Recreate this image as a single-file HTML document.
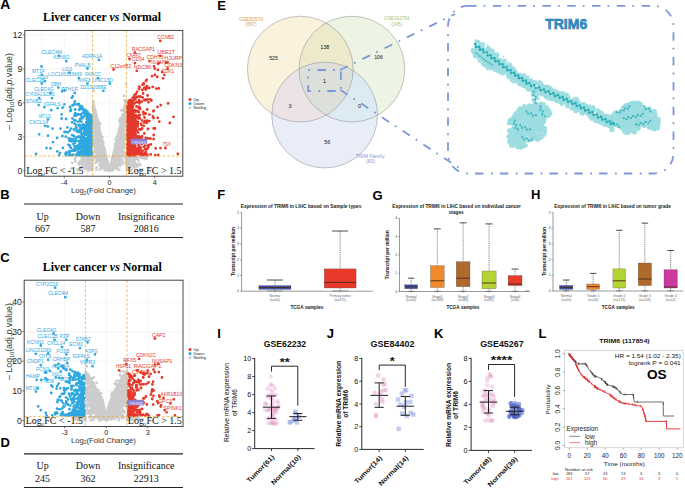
<!DOCTYPE html>
<html><head><meta charset="utf-8"><style>
html,body{margin:0;padding:0;background:#fff;width:685px;height:488px;overflow:hidden;}
svg{display:block;}
</style></head><body>
<svg width="685" height="488" viewBox="0 0 685 488">
<rect width="685" height="488" fill="#fff"/>
<text x="0.20" y="9.40" font-family='"Liberation Sans", sans-serif' font-size="14" font-weight="bold" fill="#000" text-anchor="start">A</text>
<text x="43.00" y="21.20" font-family='"Liberation Serif", serif' font-size="11.8" font-weight="bold" fill="#000" text-anchor="start" textLength="118" lengthAdjust="spacingAndGlyphs">Liver cancer <tspan font-style="italic">vs</tspan> Normal</text>
<rect x="24.80" y="30.40" width="158.00" height="145.80" fill="#fff"/>
<line x1="41.70" y1="30.40" x2="41.70" y2="176.20" stroke="#ededed" stroke-width="0.5"/>
<line x1="64.30" y1="30.40" x2="64.30" y2="176.20" stroke="#ededed" stroke-width="0.5"/>
<line x1="86.90" y1="30.40" x2="86.90" y2="176.20" stroke="#ededed" stroke-width="0.5"/>
<line x1="109.50" y1="30.40" x2="109.50" y2="176.20" stroke="#ededed" stroke-width="0.5"/>
<line x1="132.10" y1="30.40" x2="132.10" y2="176.20" stroke="#ededed" stroke-width="0.5"/>
<line x1="154.70" y1="30.40" x2="154.70" y2="176.20" stroke="#ededed" stroke-width="0.5"/>
<line x1="177.30" y1="30.40" x2="177.30" y2="176.20" stroke="#ededed" stroke-width="0.5"/>
<line x1="24.80" y1="170.80" x2="182.80" y2="170.80" stroke="#ededed" stroke-width="0.5"/>
<line x1="24.80" y1="136.81" x2="182.80" y2="136.81" stroke="#ededed" stroke-width="0.5"/>
<line x1="24.80" y1="102.82" x2="182.80" y2="102.82" stroke="#ededed" stroke-width="0.5"/>
<line x1="24.80" y1="68.83" x2="182.80" y2="68.83" stroke="#ededed" stroke-width="0.5"/>
<line x1="24.80" y1="34.84" x2="182.80" y2="34.84" stroke="#ededed" stroke-width="0.5"/>
<path d="M95.7 113.9h0M113.8 158.3h0M94.5 143.2h0M108.8 168.5h0M95.8 152.8h0M94.9 136.4h0M126.8 159.8h0M120.6 161.1h0M138.5 160.3h0M106.2 159.8h0M110.6 167.4h0M111.1 169.1h0M112.6 168.5h0M117.3 148.0h0M89.3 162.1h0M117.4 143.7h0M92.8 122.6h0M109.5 170.7h0M146.8 158.0h0M109.0 168.8h0M106.2 163.3h0M117.0 162.3h0M110.7 166.2h0M98.1 140.6h0M130.7 170.8h0M103.8 159.6h0M120.3 125.2h0M102.7 152.4h0M123.8 116.9h0M116.6 155.1h0M118.2 134.4h0M114.8 151.1h0M115.8 162.3h0M115.2 164.8h0M111.6 164.2h0M102.7 151.5h0M116.2 160.5h0M126.6 160.4h0M118.3 153.5h0M117.4 153.3h0M129.5 165.1h0M105.8 155.9h0M112.3 159.9h0M120.5 133.2h0M137.0 166.5h0M129.6 165.8h0M110.9 167.5h0M99.5 159.2h0M122.1 144.2h0M117.5 144.2h0M100.9 134.8h0M118.5 144.1h0M89.3 167.0h0M99.3 153.6h0M127.0 165.9h0M98.2 149.7h0M107.7 167.4h0M82.7 156.7h0M120.8 139.3h0M99.1 156.5h0M137.6 166.1h0M116.5 145.7h0M108.6 167.7h0M130.5 165.3h0M117.6 161.7h0M125.6 137.9h0M88.9 160.8h0M101.4 152.6h0M116.1 167.2h0M105.7 162.4h0M105.7 164.0h0M110.8 167.3h0M104.1 156.9h0M106.9 160.2h0M125.9 112.5h0M107.5 164.2h0M111.4 169.7h0M111.8 161.3h0M100.7 165.3h0M81.9 160.5h0M91.3 164.9h0M111.5 162.1h0M122.1 124.4h0M116.0 144.5h0M108.1 165.4h0M91.9 157.1h0M99.2 129.2h0M123.3 115.8h0M92.2 157.7h0M119.4 138.6h0M101.7 145.2h0M101.7 144.6h0M123.6 110.5h0M117.3 139.5h0M108.0 165.2h0M98.4 134.6h0M89.4 168.8h0M117.4 141.6h0M124.6 126.1h0M112.4 164.9h0M105.3 156.6h0M96.9 119.3h0M109.4 170.7h0M111.2 164.8h0M111.5 162.6h0M116.1 147.9h0M87.2 164.8h0M118.0 141.1h0M113.3 156.1h0M120.9 124.3h0M117.6 144.3h0M101.9 152.5h0M118.2 136.8h0M119.5 131.4h0M102.8 155.8h0M82.7 167.2h0M100.9 153.7h0M112.3 163.2h0M100.2 148.5h0M100.1 134.1h0M121.8 156.4h0M108.1 169.7h0M111.8 162.5h0M107.1 163.2h0M102.2 166.5h0M128.1 167.8h0M107.1 161.3h0M110.2 169.3h0M111.7 163.3h0M112.2 163.0h0M98.2 127.4h0M97.5 120.5h0M106.5 161.9h0M102.6 158.3h0M122.2 124.7h0M110.4 169.2h0M108.0 165.6h0M119.8 139.0h0M95.2 132.5h0M97.0 123.2h0M113.5 154.2h0M106.8 161.0h0M118.0 142.0h0M118.6 133.9h0M99.0 128.8h0M119.7 131.7h0M121.3 129.9h0M105.2 162.4h0M105.8 158.3h0M89.0 159.5h0M115.0 147.3h0M133.1 156.3h0M90.0 164.9h0M104.9 152.0h0M116.0 162.9h0M101.3 147.4h0M91.1 162.5h0M103.5 166.5h0M111.0 165.1h0M105.7 164.0h0M99.4 154.6h0M126.6 167.6h0M91.5 158.0h0M107.6 164.1h0M121.9 119.1h0M105.1 165.3h0M112.0 165.1h0M123.1 121.1h0M100.7 136.1h0M99.0 137.1h0M105.3 154.3h0M119.8 129.2h0M115.2 146.7h0M130.8 162.0h0M102.7 149.5h0M106.1 160.6h0M107.4 161.9h0M107.9 165.7h0M93.0 117.9h0M121.4 135.2h0M108.0 166.1h0M105.6 160.1h0M134.2 165.6h0M102.6 150.6h0M117.9 138.3h0M118.1 135.8h0M99.7 152.5h0M111.0 165.9h0M114.8 150.8h0M106.8 169.1h0M112.3 160.9h0M117.1 152.3h0M99.8 157.4h0M121.9 125.5h0M119.2 150.1h0M118.9 152.9h0M97.6 139.6h0M107.2 164.5h0M102.9 158.1h0M108.3 166.6h0M100.6 135.5h0M98.9 135.3h0M114.6 152.0h0M103.1 146.0h0M117.6 151.4h0M103.8 147.6h0M117.5 138.4h0M149.1 167.9h0M110.7 168.1h0M127.7 168.5h0M115.3 148.6h0M99.2 155.2h0M95.4 162.8h0M119.4 151.9h0M99.2 127.6h0M86.8 168.2h0M90.5 162.3h0M108.8 168.4h0M111.1 168.5h0M113.5 167.5h0M96.6 129.2h0M105.2 163.7h0M112.6 158.8h0M116.5 141.0h0M114.0 166.0h0M107.3 161.4h0M90.8 164.8h0M114.0 157.5h0M97.6 131.2h0M108.4 170.2h0M102.9 158.8h0M88.7 163.0h0M108.7 169.3h0M98.0 150.8h0M107.5 162.8h0M109.3 170.2h0M103.2 149.4h0M88.0 163.7h0M98.7 124.8h0M101.7 140.7h0M108.2 166.0h0M134.3 158.8h0M114.1 152.4h0M98.9 128.3h0M102.9 146.3h0M91.4 163.6h0M108.8 169.0h0M105.2 158.3h0M120.1 134.7h0M110.2 168.4h0M112.6 160.2h0M136.5 164.6h0M101.6 146.2h0M97.1 137.8h0M125.7 112.8h0M109.5 170.8h0M111.9 162.7h0M109.2 169.7h0M109.0 170.3h0M120.9 149.2h0M105.8 163.0h0M113.1 156.1h0M96.7 117.0h0M105.3 157.4h0M125.6 108.8h0M109.0 170.2h0M93.9 156.6h0M98.5 125.5h0M116.3 158.8h0M120.3 138.3h0M106.5 158.3h0M107.0 163.8h0M94.5 131.9h0M106.9 165.0h0M101.4 152.3h0M97.5 127.4h0M109.0 169.7h0M111.3 169.2h0M120.0 142.8h0M125.3 106.9h0M109.5 170.6h0M105.9 155.7h0M131.5 163.3h0M120.4 138.5h0M117.8 145.0h0M108.1 164.9h0M107.3 161.6h0M97.0 122.4h0M105.1 155.8h0M106.1 161.0h0M110.6 167.5h0M113.0 165.5h0M93.8 125.4h0M115.4 157.9h0M99.3 132.1h0M103.7 152.7h0M137.4 159.3h0M109.1 169.9h0M127.5 158.7h0M125.2 117.8h0M103.8 150.6h0M116.5 148.4h0M96.1 121.0h0M100.8 154.6h0M109.7 170.0h0M141.1 157.5h0M113.4 162.2h0M110.5 168.1h0M105.7 159.0h0M105.8 166.6h0M124.0 124.7h0M118.3 141.0h0M100.5 153.1h0M118.7 147.7h0M108.8 170.0h0M87.9 168.1h0M115.2 149.3h0M94.8 141.7h0M101.7 140.9h0M113.5 160.4h0M90.2 164.8h0M81.5 161.7h0M108.9 169.1h0M84.1 164.2h0M128.4 168.9h0M122.7 154.5h0M97.5 128.4h0M104.4 158.8h0M110.2 169.4h0M105.1 155.4h0M117.9 140.3h0M114.2 154.0h0M108.2 167.5h0M115.6 148.4h0M105.7 157.2h0M113.7 157.2h0M132.9 157.1h0M96.4 133.6h0M112.7 163.2h0M100.4 146.2h0M131.5 166.0h0M99.9 146.2h0M102.4 151.6h0M117.5 149.4h0M114.4 152.0h0M123.2 127.7h0M117.0 157.3h0M97.1 124.4h0M116.2 166.5h0M103.2 151.6h0M95.4 111.6h0M105.5 157.0h0M110.9 166.4h0M105.6 156.1h0M113.5 156.0h0M111.9 161.3h0M123.3 148.4h0M117.6 140.8h0M104.5 160.7h0M102.7 145.2h0M90.5 163.8h0M106.9 164.3h0M126.0 121.1h0M106.2 160.3h0M106.3 157.6h0M92.1 163.6h0M117.2 140.3h0M94.6 113.7h0M121.4 121.0h0M89.0 160.5h0M91.9 158.5h0M106.8 163.4h0M103.9 150.3h0M112.5 157.8h0M104.6 161.4h0M114.3 157.3h0M101.7 162.7h0M138.4 165.1h0M121.8 124.6h0M120.3 151.3h0M121.1 133.0h0M114.3 151.3h0M114.8 161.1h0M110.7 168.4h0M111.1 165.4h0M127.4 166.4h0M113.1 164.3h0M117.9 139.4h0M104.1 150.0h0M122.7 131.7h0M107.9 164.5h0M133.1 164.6h0M82.4 162.6h0M101.2 154.1h0M135.6 158.5h0M117.9 148.4h0M96.1 140.7h0M107.2 160.8h0M104.9 168.8h0M102.5 150.3h0M95.5 120.4h0M124.1 122.3h0M113.1 162.0h0M115.0 158.8h0M118.8 139.1h0M99.5 128.3h0M108.1 168.4h0M123.4 118.6h0M130.5 157.9h0M109.7 170.1h0M117.3 142.6h0M113.9 164.9h0M96.9 118.1h0M111.1 165.6h0M115.5 148.0h0M102.0 150.1h0M113.8 154.2h0M107.0 166.0h0M96.2 148.2h0M105.8 156.3h0M105.8 166.5h0M118.5 149.4h0M92.0 164.3h0M113.2 157.8h0M118.4 144.9h0M116.5 141.5h0M117.4 167.0h0M95.1 132.9h0M107.4 164.2h0M101.4 147.5h0M144.4 158.5h0M111.8 166.3h0M102.5 152.5h0M103.3 151.2h0M106.4 162.6h0M119.3 136.6h0M109.2 169.7h0M117.0 152.3h0M123.2 121.0h0M104.6 158.7h0M111.8 167.1h0M105.1 165.0h0M101.7 156.7h0M93.6 127.6h0M117.4 160.7h0M96.6 144.4h0M112.7 162.1h0M114.4 165.2h0M120.0 138.8h0M103.8 151.2h0M111.7 164.9h0M88.7 164.7h0M107.8 166.2h0M110.5 167.1h0M129.3 160.2h0M107.2 163.3h0M119.6 145.6h0M110.7 166.7h0M118.1 144.4h0M116.3 144.9h0M116.6 158.8h0M95.7 119.0h0M121.2 141.1h0M101.3 146.1h0M120.7 123.1h0M123.4 128.1h0M104.9 162.0h0M88.5 156.7h0M104.3 164.3h0M104.1 159.4h0M94.0 132.8h0M101.4 137.5h0M101.4 158.6h0M119.1 130.1h0M125.6 120.0h0M127.9 161.5h0M101.3 137.2h0M106.2 156.8h0M115.8 161.3h0M95.5 116.5h0M103.7 158.7h0M132.9 161.4h0M113.0 159.7h0M103.2 163.3h0M116.5 141.1h0M110.9 164.9h0M104.2 152.3h0M101.4 140.9h0M98.4 128.1h0M119.7 165.2h0M113.5 164.4h0M121.6 138.7h0M103.2 151.3h0M106.5 164.3h0M100.3 139.1h0M105.3 167.3h0M106.5 158.2h0M103.9 152.4h0M98.1 132.2h0M111.7 163.0h0M110.5 168.0h0M90.7 156.1h0M121.2 138.8h0M90.6 163.2h0M87.0 162.0h0M99.6 140.2h0M87.2 164.9h0M119.6 160.7h0M105.8 157.2h0M85.5 161.0h0M109.6 170.4h0M99.9 159.9h0M118.2 144.3h0M118.2 147.4h0M126.0 119.6h0M115.1 159.1h0M105.6 162.6h0M120.1 158.9h0M134.5 160.2h0M93.9 108.8h0M91.5 166.4h0M119.2 135.0h0M87.2 168.5h0M99.5 132.9h0M119.5 129.1h0M119.3 169.8h0M109.9 169.9h0M119.0 160.6h0M125.9 126.5h0M96.8 138.3h0M106.5 168.6h0M107.7 163.6h0M104.8 151.3h0M121.9 118.3h0M101.9 153.2h0M110.8 165.4h0M115.4 147.5h0M105.0 159.3h0M102.7 143.4h0M110.7 165.7h0M114.2 161.9h0M124.8 109.5h0M114.6 152.2h0M111.2 166.8h0M128.0 159.6h0M96.1 149.8h0M100.6 145.5h0M84.4 168.9h0M111.1 165.0h0M119.0 152.7h0M113.0 158.7h0M117.0 142.2h0M97.9 124.2h0M121.5 131.5h0M110.8 165.6h0M119.0 137.7h0M106.8 167.3h0M125.4 103.3h0M96.6 130.6h0M114.6 166.2h0M102.0 154.7h0M104.1 150.0h0M117.4 141.4h0M114.3 160.6h0M106.9 166.0h0M123.5 114.1h0M112.4 162.2h0M109.3 170.0h0M90.0 162.3h0M126.7 167.1h0M94.2 131.6h0M103.9 151.3h0M112.3 162.3h0M96.2 118.3h0M104.0 147.8h0M97.0 148.4h0M110.8 166.6h0M102.8 157.0h0M91.4 158.6h0M116.6 143.7h0M110.7 168.5h0M122.5 128.3h0M106.5 160.8h0M109.5 170.7h0M88.9 167.1h0M99.4 153.9h0M122.6 133.7h0M111.0 166.6h0M107.9 168.9h0M129.7 157.2h0M96.7 121.9h0M103.6 158.4h0M115.4 165.6h0M117.3 152.2h0M99.5 148.8h0M100.0 139.6h0M127.3 167.2h0M120.6 146.9h0M118.8 134.6h0M124.1 115.4h0M120.3 143.0h0M113.9 162.1h0M112.8 161.0h0M108.9 168.5h0M115.8 152.6h0M109.0 168.8h0M117.6 138.0h0M111.5 167.5h0M102.1 150.1h0M115.4 163.8h0M146.3 158.9h0M117.5 141.3h0M110.6 167.3h0M118.1 152.8h0M84.0 164.2h0M115.8 155.2h0M124.9 157.7h0M107.7 165.8h0M107.2 165.0h0M106.3 159.5h0M119.4 130.7h0M98.1 137.7h0M92.5 164.0h0M123.1 119.6h0M111.8 166.7h0M119.7 138.5h0M113.4 163.0h0M116.0 151.7h0M105.1 151.9h0M121.0 130.3h0M114.5 157.6h0M103.7 164.1h0M105.6 162.1h0M99.5 165.0h0M113.2 161.0h0M117.5 137.8h0M107.6 165.8h0M100.8 156.2h0M119.3 134.0h0M105.4 155.7h0M111.4 166.2h0M108.2 167.4h0M129.8 164.8h0M121.2 127.0h0M105.7 160.7h0M109.0 169.8h0M115.8 150.2h0M111.1 169.5h0M105.0 156.5h0M120.5 153.5h0M107.1 162.2h0M101.0 141.3h0M114.1 160.4h0M115.6 148.7h0M100.2 134.0h0M115.8 158.1h0M106.8 165.4h0M119.5 162.1h0M125.3 120.1h0M111.9 161.4h0M118.9 137.9h0M108.0 164.8h0M113.1 158.1h0M126.4 100.2h0M115.1 151.8h0M103.4 163.0h0M99.4 160.2h0M114.4 157.7h0M103.2 156.7h0M121.2 150.9h0M99.0 152.5h0M116.9 145.0h0M109.8 170.0h0M114.5 156.9h0M118.2 139.6h0M121.6 132.2h0M108.7 168.8h0M107.2 164.8h0M120.1 160.2h0M113.9 157.5h0M98.6 144.2h0M103.0 156.7h0M119.8 129.1h0M111.0 165.9h0M108.2 168.5h0M126.2 121.8h0M88.4 164.3h0M90.9 161.3h0M127.7 160.7h0M102.6 147.6h0M99.6 148.5h0M115.7 146.6h0M117.6 137.9h0M101.9 164.4h0M118.3 149.8h0M119.6 144.8h0M115.9 158.8h0M108.6 168.9h0M106.0 170.3h0M102.0 147.2h0M102.9 151.1h0M114.7 153.0h0M94.4 122.4h0M104.8 152.4h0M119.5 145.7h0M107.5 162.8h0M102.6 146.0h0M126.0 112.2h0M130.0 167.4h0M104.8 154.8h0M95.0 133.0h0M110.4 168.8h0M109.4 170.6h0M95.5 141.0h0M106.3 161.0h0M115.8 161.2h0M113.4 165.4h0M111.1 164.9h0M118.9 135.4h0M117.6 146.9h0M121.3 123.6h0M128.8 169.4h0M109.2 169.5h0M122.9 134.8h0M107.7 164.2h0M101.1 150.2h0M99.9 133.1h0M126.0 106.6h0M98.7 132.1h0M104.6 154.4h0M119.4 155.8h0M91.8 164.1h0M105.5 163.5h0M102.3 167.2h0M86.4 156.4h0M95.7 149.3h0M105.0 155.5h0M98.6 141.5h0M140.4 169.5h0M95.7 121.1h0M111.9 165.2h0M111.8 162.6h0M115.2 156.8h0M109.3 170.6h0M97.0 138.1h0M106.1 162.6h0M116.2 155.5h0M89.0 163.8h0M95.3 110.6h0M96.5 136.2h0M104.6 152.1h0M96.2 148.9h0M111.9 160.7h0M114.3 160.5h0M103.8 156.9h0M109.9 170.5h0M103.7 151.3h0M107.0 165.1h0M111.3 166.1h0M122.3 142.8h0M113.4 155.0h0M110.8 167.7h0M115.8 152.0h0M112.9 156.3h0M116.2 150.8h0M131.2 163.5h0M113.5 166.7h0M98.9 137.1h0M100.8 151.2h0M96.3 116.3h0M133.5 163.1h0M82.2 158.1h0M108.4 170.0h0M102.6 158.6h0M112.8 162.4h0M112.5 159.6h0M104.5 168.6h0M122.1 146.0h0M111.1 165.7h0M109.1 169.2h0M114.3 157.7h0M91.7 158.4h0M118.6 132.3h0M92.4 168.4h0M120.4 131.6h0M106.0 163.3h0M111.6 164.1h0M108.2 168.1h0M101.2 142.1h0M116.5 143.8h0M98.9 143.7h0M121.6 143.4h0M117.7 160.0h0M103.9 157.0h0M109.1 169.3h0M101.7 146.2h0M106.5 166.6h0M103.1 160.5h0M102.4 167.9h0M119.2 141.4h0M101.3 145.2h0M115.2 147.1h0M116.0 154.9h0M131.9 159.0h0M135.5 163.3h0M130.6 156.5h0M111.7 162.9h0M120.9 150.3h0M107.0 160.4h0M126.3 130.0h0M113.8 152.4h0M119.2 154.8h0M102.2 145.7h0M101.3 154.5h0M91.9 157.8h0M93.7 117.3h0M94.9 149.7h0M109.1 169.1h0M104.9 154.8h0M98.0 138.8h0M103.4 150.5h0M114.9 153.3h0M106.6 161.0h0M109.2 170.0h0M96.9 118.6h0M101.1 156.8h0M74.7 159.2h0M116.4 154.2h0M106.7 163.1h0M75.5 157.7h0M133.5 162.5h0M134.0 166.2h0M118.3 134.4h0M95.7 117.0h0M113.5 153.8h0M96.6 156.7h0M121.7 144.7h0M96.5 120.9h0M96.1 117.3h0M113.5 163.2h0M106.5 167.3h0M125.5 120.0h0M112.5 164.4h0M96.7 121.9h0M121.4 133.1h0M94.2 108.4h0M111.4 165.9h0M103.3 162.4h0M119.6 130.5h0M111.9 161.5h0M114.8 156.7h0M114.3 151.8h0M91.4 169.0h0M93.2 101.3h0M113.8 153.7h0M124.8 114.8h0M115.0 155.4h0M125.4 162.4h0M104.3 153.0h0M117.8 152.0h0M95.6 145.6h0M99.0 154.7h0M105.1 164.1h0M97.6 153.5h0M124.0 133.8h0M103.9 160.2h0M126.8 159.3h0M108.9 169.4h0M105.2 163.8h0M120.3 134.2h0M90.9 163.6h0M119.0 143.2h0M82.6 164.5h0M108.4 166.9h0M110.9 167.6h0M124.3 111.6h0M104.5 153.1h0M131.1 163.0h0M119.7 133.1h0M105.0 155.8h0M105.6 160.0h0M110.8 167.8h0M83.3 165.3h0M119.7 134.4h0M105.5 159.9h0M102.0 159.2h0M116.3 151.9h0M104.2 157.7h0M118.9 139.8h0M89.6 161.7h0M129.0 168.7h0M123.6 134.5h0M96.7 126.1h0M122.3 138.6h0M131.6 170.1h0M93.0 114.5h0M99.0 140.2h0M111.6 165.8h0M102.1 139.8h0M96.0 113.5h0M120.8 126.7h0M109.0 169.0h0M97.6 157.7h0M72.1 162.9h0M96.1 144.0h0M119.1 130.0h0M112.2 166.4h0M120.0 142.6h0M109.3 170.4h0M104.8 154.6h0M96.2 142.1h0M96.5 120.8h0M107.2 167.3h0M90.1 162.8h0M131.8 156.7h0M111.7 161.8h0M119.9 138.3h0M111.1 165.8h0M124.8 134.9h0M122.3 131.7h0M119.9 154.8h0M119.8 157.7h0M100.1 135.3h0M108.8 169.3h0M106.3 164.3h0M111.4 165.2h0M97.8 124.6h0M105.0 164.6h0M113.4 154.5h0M104.2 154.4h0M96.6 119.3h0M118.1 134.6h0M108.1 168.4h0M110.4 167.5h0M107.8 167.9h0M91.7 161.9h0M114.9 158.2h0M110.5 166.7h0M95.9 158.3h0M92.3 163.5h0M117.2 159.7h0M113.7 153.8h0M103.3 149.3h0M121.0 124.4h0M123.3 129.0h0M104.7 151.1h0M102.0 143.2h0M115.4 158.0h0M101.4 146.9h0M118.3 148.2h0M98.3 160.1h0M114.7 150.3h0M122.3 130.2h0M114.7 156.6h0M110.4 168.5h0M114.6 158.6h0M101.4 140.7h0M110.3 168.4h0M121.0 122.3h0M110.1 170.6h0M85.5 164.2h0M93.6 118.1h0M103.0 149.1h0M116.5 147.7h0M104.2 154.6h0M121.7 125.6h0M114.2 160.7h0M111.1 167.2h0M112.9 157.4h0M98.1 139.8h0M105.7 166.0h0M126.1 100.2h0M114.4 158.9h0M100.7 136.8h0M113.4 166.9h0M93.8 112.0h0M124.6 122.8h0M114.2 151.5h0M108.0 164.4h0M107.7 164.0h0M108.5 167.0h0M108.9 169.2h0M95.6 114.0h0M80.2 168.9h0M111.9 161.9h0M97.6 139.4h0M98.0 154.0h0M113.4 161.3h0M109.1 170.2h0M105.2 153.9h0M102.3 160.5h0M97.2 152.7h0M99.2 137.7h0M135.6 157.0h0M112.3 161.9h0M120.9 126.3h0M125.9 122.5h0M125.6 158.6h0M99.5 135.6h0M114.1 152.0h0M92.2 163.9h0M110.2 168.2h0M124.2 145.2h0M120.9 133.4h0M112.6 165.5h0M119.5 145.6h0M98.0 140.1h0M102.1 146.7h0M115.3 151.7h0M100.6 144.4h0M119.5 135.1h0M108.3 168.3h0M108.2 166.6h0M127.8 165.8h0M128.9 164.0h0M117.8 140.8h0M95.2 125.1h0M115.9 143.6h0M120.0 139.4h0M102.8 157.0h0M109.6 170.6h0M104.3 150.1h0M126.6 161.4h0M113.3 158.6h0M106.3 157.3h0M115.1 149.8h0M111.3 164.1h0M104.7 161.2h0M113.9 156.2h0M122.8 151.1h0M110.9 165.1h0M94.6 109.7h0M105.5 154.1h0M99.5 134.6h0M103.8 150.1h0M131.1 165.7h0M109.5 170.8h0M111.8 165.9h0M107.2 167.2h0M117.8 146.0h0M108.2 167.8h0M118.7 142.8h0M114.2 152.2h0M104.7 152.0h0M98.6 130.7h0M100.5 142.7h0M95.9 119.6h0M88.1 165.8h0M134.5 164.3h0M118.4 137.1h0M110.8 167.4h0M121.8 125.7h0M122.1 130.3h0M104.8 159.0h0M112.6 166.4h0M137.0 156.8h0M107.1 161.0h0M105.9 165.8h0M104.3 148.5h0M107.2 165.4h0M112.3 161.0h0M106.6 167.6h0M123.9 109.5h0M112.2 161.2h0M121.7 133.2h0M93.9 152.2h0M102.4 148.7h0M108.3 167.7h0M102.0 143.9h0M109.5 170.7h0M104.9 157.2h0M109.9 169.5h0M123.8 148.3h0M107.0 165.0h0M100.5 133.4h0M124.6 107.0h0M134.0 157.8h0M101.5 137.9h0M122.5 128.1h0M111.2 164.9h0M97.7 121.9h0M99.4 158.1h0M81.1 169.9h0M106.0 165.9h0M128.8 170.1h0M88.7 169.9h0M117.8 145.2h0M94.4 121.5h0M110.5 170.7h0M89.0 169.1h0M117.9 137.9h0M79.9 163.6h0M104.2 168.0h0M118.5 137.2h0M108.3 167.2h0M124.5 133.7h0M103.8 159.1h0M98.4 126.3h0M112.4 164.6h0M115.3 153.8h0M111.6 166.3h0M99.6 136.4h0M108.6 168.9h0M123.2 115.8h0M112.8 163.1h0M117.0 152.3h0M107.0 161.3h0M92.8 118.2h0M126.4 135.1h0M118.6 152.6h0M80.1 164.1h0M127.0 164.3h0M138.7 163.9h0M91.2 167.8h0M114.4 158.7h0M90.4 158.6h0M102.7 148.5h0M115.9 147.3h0M88.9 170.3h0M112.7 161.3h0M106.5 158.4h0M112.3 166.2h0M115.9 144.0h0M131.8 156.9h0M95.2 147.8h0M131.4 159.5h0M116.5 159.8h0M107.0 162.1h0M123.0 114.7h0M97.3 135.5h0M105.5 161.9h0M113.6 153.8h0M116.0 154.4h0M112.6 167.8h0M107.0 167.0h0M116.2 149.9h0M95.3 117.9h0M105.8 159.4h0M113.9 161.9h0M108.0 169.0h0M102.5 142.1h0M127.3 162.3h0M114.9 153.4h0M118.1 150.9h0M117.6 147.4h0M80.3 161.0h0M116.7 157.4h0M99.1 127.5h0M112.0 161.5h0M109.2 169.9h0M115.9 159.4h0M111.7 162.9h0M110.0 169.7h0M111.7 162.4h0M93.1 122.8h0M109.6 170.6h0M119.1 162.4h0M110.4 168.8h0M101.5 147.4h0M102.1 145.9h0M105.2 153.3h0M119.2 139.2h0M97.3 135.4h0M116.5 153.5h0M116.6 141.6h0M105.2 154.0h0M114.5 155.6h0M105.0 151.5h0M107.8 164.7h0M116.2 156.9h0M103.8 147.0h0M106.2 163.2h0M123.6 135.2h0M119.4 139.3h0M83.9 162.1h0M109.9 169.6h0M122.7 141.4h0M109.6 170.4h0M101.0 159.9h0M100.2 142.8h0M93.4 103.1h0M111.3 166.6h0M105.1 153.8h0M111.2 167.3h0M119.1 150.0h0M91.7 157.2h0M97.6 132.8h0M109.2 169.6h0M96.6 141.0h0M110.3 167.6h0M99.2 151.2h0M109.3 170.4h0M119.8 127.3h0M91.9 157.1h0M101.5 141.9h0M91.0 158.4h0M111.7 162.2h0M102.8 155.1h0M110.4 170.2h0M134.9 162.2h0M98.4 133.8h0M126.2 102.7h0M124.3 154.7h0M102.8 147.4h0M134.3 157.6h0M129.8 165.0h0M116.3 145.4h0M125.5 102.8h0M105.3 155.5h0M105.4 166.6h0M122.5 121.4h0M95.2 113.7h0M84.9 160.5h0M98.1 136.6h0M101.6 165.7h0M116.5 158.8h0M111.8 162.8h0M101.7 141.4h0M104.8 159.6h0M96.7 142.2h0M115.8 148.6h0M124.6 108.2h0M97.0 119.6h0M132.1 165.3h0M124.5 107.9h0M104.8 153.3h0M104.9 156.7h0M117.4 147.1h0M131.5 161.9h0M114.5 156.2h0M109.2 170.2h0M100.9 142.9h0M110.0 170.2h0M119.6 161.0h0M101.0 135.4h0M120.4 133.5h0M99.6 150.2h0M115.4 153.4h0M115.1 155.1h0M108.0 165.6h0M110.6 167.0h0M95.2 111.4h0M116.5 148.7h0M104.6 149.7h0M102.3 143.8h0M108.2 169.5h0M117.9 152.1h0M121.1 128.7h0M108.1 165.4h0M99.7 137.0h0M106.1 161.2h0M97.5 154.0h0M81.7 157.4h0M113.9 166.3h0M117.6 142.0h0M113.4 159.9h0M117.8 144.0h0M118.1 139.2h0M96.1 123.4h0M118.9 139.4h0M126.5 167.9h0M114.6 165.7h0M107.4 168.4h0M109.8 169.9h0M104.3 148.9h0M110.5 166.7h0M94.5 134.8h0M110.8 165.5h0M116.5 156.7h0M116.1 144.6h0M97.9 139.5h0M108.9 168.2h0M108.6 167.4h0M129.5 163.0h0M101.4 147.6h0M118.5 149.1h0M101.2 151.3h0M101.3 140.1h0M97.2 121.5h0M113.1 160.5h0M92.3 156.3h0M126.5 158.7h0M95.8 120.3h0M119.3 148.0h0M105.0 155.2h0M82.2 160.1h0M94.4 140.1h0M116.0 146.3h0M78.9 164.6h0M101.8 143.0h0M121.2 127.1h0M110.7 168.1h0M103.5 154.5h0M104.3 148.5h0M117.7 162.2h0M133.1 161.2h0M118.8 145.8h0M90.1 161.1h0M105.0 154.1h0M90.9 161.3h0M109.3 170.2h0M127.2 161.7h0M115.6 147.7h0M109.0 169.6h0M105.4 161.7h0M82.1 161.4h0M96.5 148.1h0M107.2 162.9h0M122.6 140.7h0M99.2 131.1h0M104.0 152.3h0M112.5 162.0h0M75.4 161.4h0M103.0 143.8h0M98.0 157.3h0M124.7 135.1h0M103.3 146.8h0M93.3 128.2h0M107.9 165.9h0M120.0 163.8h0M97.8 151.6h0M121.2 142.8h0M127.8 165.9h0M90.6 167.1h0M113.0 157.3h0M112.7 158.9h0M108.3 166.6h0M122.5 161.4h0M118.9 152.3h0M89.2 159.7h0M106.3 157.9h0M99.8 151.3h0M99.8 143.3h0M111.1 164.6h0M95.5 111.2h0M102.9 157.5h0M112.2 166.4h0M125.0 105.8h0M102.9 152.3h0M119.7 131.0h0M124.1 144.9h0M100.9 148.8h0M107.4 162.2h0M101.9 140.5h0M111.1 167.6h0M120.1 132.2h0M126.2 152.9h0M114.6 150.9h0M95.1 151.8h0M105.5 167.2h0M89.8 161.0h0M135.6 157.7h0M114.3 167.8h0M111.5 163.6h0M113.5 156.7h0M117.6 142.0h0M103.9 158.0h0M120.9 134.3h0M102.9 156.7h0M117.9 151.4h0M109.4 170.5h0M111.5 164.1h0M108.9 168.3h0M115.0 154.7h0M99.8 131.5h0M108.8 168.1h0M97.6 128.4h0M97.9 135.8h0M99.9 141.6h0M115.3 153.7h0M95.8 118.7h0M107.0 160.6h0M109.9 169.9h0M111.9 169.0h0M114.0 160.5h0M94.4 142.6h0M124.1 119.2h0M93.7 114.6h0M109.1 169.6h0M97.1 131.2h0M135.0 157.1h0M85.7 158.0h0M117.1 138.8h0M113.3 158.7h0M99.8 132.3h0M108.6 168.0h0M114.0 151.7h0M109.2 170.7h0M116.2 147.9h0M118.5 158.0h0M84.8 163.2h0M99.3 132.6h0M97.0 148.5h0M101.3 147.0h0M123.2 143.5h0M99.6 142.4h0M99.6 138.7h0M106.7 161.4h0M117.4 143.4h0M110.4 169.0h0M126.7 164.7h0M118.0 135.4h0M104.6 154.2h0M107.6 166.7h0M116.6 144.2h0M92.8 153.7h0M129.2 167.7h0M113.8 162.5h0M116.1 151.3h0M110.8 165.5h0M105.7 156.0h0M117.4 156.3h0M99.2 128.1h0M97.8 160.3h0M99.3 131.0h0M105.2 161.6h0M107.9 166.0h0M102.4 141.1h0M110.1 168.4h0M118.6 138.8h0M116.1 157.0h0M112.4 164.1h0M119.3 129.2h0M95.0 119.9h0M101.8 142.9h0M101.5 146.8h0M121.8 138.3h0M114.3 156.0h0M112.1 159.9h0M110.3 168.7h0M106.4 160.6h0M115.1 147.8h0M115.1 153.7h0M121.6 125.7h0M101.8 156.5h0M106.2 158.7h0M129.4 169.8h0M120.2 151.0h0M88.2 160.8h0M113.9 154.6h0M110.8 169.6h0M91.5 158.2h0M113.5 167.5h0M114.9 166.9h0M117.4 160.8h0M101.8 163.7h0M118.2 135.1h0M96.9 160.4h0M116.6 157.6h0M115.5 162.2h0M114.4 162.1h0M124.9 143.8h0M98.8 153.1h0M107.1 163.0h0M98.3 137.8h0M108.9 170.3h0M103.9 157.0h0M104.6 168.8h0M121.0 140.1h0M99.7 140.1h0M115.1 156.0h0M107.3 162.8h0M97.2 120.7h0M122.2 159.8h0M107.5 163.3h0M118.7 136.0h0M101.5 156.0h0M85.1 163.8h0M121.1 154.1h0M94.1 105.8h0M108.1 167.3h0M86.9 160.9h0M132.8 161.3h0M103.3 145.8h0M131.1 160.3h0M109.4 170.2h0M116.6 147.9h0M118.5 156.8h0M110.3 168.2h0M105.5 161.8h0M102.7 158.0h0M123.4 131.2h0M130.2 165.7h0M83.5 164.2h0M107.0 160.8h0M102.6 157.7h0M99.9 169.4h0M105.9 170.3h0M119.6 148.2h0M109.6 170.3h0M106.8 161.1h0M106.3 164.3h0M91.5 157.8h0M111.6 162.1h0M100.8 147.4h0M114.2 159.5h0M108.8 168.5h0M96.9 149.8h0M115.5 159.2h0M80.6 160.8h0M111.1 166.4h0M112.1 166.1h0M107.7 164.5h0M94.9 109.3h0M114.3 166.9h0M111.3 165.5h0M117.2 146.3h0M94.2 110.2h0M105.7 157.6h0M113.5 168.1h0M109.9 170.2h0M112.3 167.8h0M103.7 151.5h0M108.3 166.3h0M106.3 159.6h0M114.2 153.5h0M120.2 135.8h0M99.9 132.8h0M96.0 139.8h0M82.0 158.8h0M101.0 167.0h0M100.1 143.0h0M108.2 166.9h0M124.8 124.1h0M115.1 152.1h0M111.7 163.1h0M129.5 165.3h0M108.3 167.4h0M89.1 163.8h0M108.8 167.8h0M98.2 137.2h0M110.6 167.9h0M113.0 161.4h0M109.5 170.8h0M106.7 166.1h0M103.7 154.6h0M94.1 126.9h0M98.0 144.1h0M93.5 139.3h0M127.0 170.4h0M119.3 155.6h0M101.0 157.3h0M124.0 155.0h0M97.6 128.8h0M112.3 161.6h0M121.5 159.3h0M118.9 155.6h0M105.5 155.6h0M111.9 162.5h0M111.5 165.0h0M125.7 139.3h0M97.8 160.2h0M99.4 147.0h0M101.8 139.2h0M113.7 165.9h0M125.2 106.4h0M124.4 134.8h0M104.5 152.7h0M126.0 156.5h0M98.0 136.0h0M118.6 133.0h0M120.4 127.3h0M109.6 170.5h0M123.8 145.7h0M108.7 168.9h0M90.4 163.4h0M103.5 153.3h0M92.3 168.1h0M115.2 148.7h0M113.4 159.1h0M102.9 153.6h0M101.0 155.6h0M124.7 147.5h0M107.1 162.0h0M96.8 123.1h0M100.5 140.8h0M130.8 163.6h0M88.6 160.4h0M101.3 149.6h0M117.7 142.4h0M103.2 145.9h0M117.9 138.6h0M99.8 144.9h0M90.0 160.5h0M109.4 170.7h0M119.3 133.2h0M117.9 148.6h0M104.9 164.1h0M119.6 130.0h0M122.1 155.2h0M108.9 169.7h0M128.6 157.5h0M101.8 156.0h0M119.7 147.2h0M101.4 141.1h0M113.7 167.7h0M96.4 138.8h0M93.9 141.6h0M112.8 158.2h0M112.6 160.5h0M121.9 129.9h0M110.7 168.0h0M121.0 141.5h0M112.1 160.0h0M93.2 106.0h0M129.2 161.3h0M123.9 152.3h0M124.1 124.2h0M113.6 159.6h0M112.4 166.0h0M124.3 110.7h0M108.7 167.7h0M110.3 168.4h0M93.2 109.5h0M106.3 160.8h0M103.7 154.9h0M91.7 159.9h0M107.8 165.2h0M114.6 164.2h0M89.0 167.7h0M115.9 144.0h0M111.5 166.2h0M97.8 133.1h0M114.2 160.1h0M111.3 163.6h0M99.5 132.5h0M123.7 152.2h0M109.6 170.4h0M117.6 140.5h0M113.3 158.4h0M103.7 152.9h0M99.4 151.3h0M101.0 141.0h0M111.5 167.9h0M114.4 155.6h0M115.2 152.2h0M142.8 158.0h0M110.1 169.2h0M121.0 122.4h0M127.3 167.1h0M110.3 167.5h0M88.7 166.6h0M114.4 160.7h0M114.2 151.9h0M120.3 154.3h0M102.6 153.4h0M110.4 167.5h0M125.8 109.3h0M98.0 137.1h0M114.3 158.3h0M93.0 111.3h0M114.3 159.1h0M103.7 165.5h0M106.9 163.9h0M107.7 168.6h0M111.7 164.5h0M129.6 169.9h0M101.9 152.4h0M102.9 160.3h0M116.7 147.2h0M115.4 160.2h0M100.1 157.8h0M128.7 166.2h0M111.3 164.1h0M110.7 168.6h0M104.9 159.8h0M111.7 165.7h0M91.2 163.0h0M101.7 141.0h0M119.6 148.7h0M118.9 139.6h0M85.9 156.6h0M115.9 143.5h0M106.9 165.8h0M111.4 166.2h0M104.1 155.4h0M118.6 153.3h0M95.0 112.2h0M118.5 162.2h0M99.4 147.7h0M106.4 157.9h0M120.9 133.3h0M111.3 166.9h0M105.6 156.4h0M105.1 166.1h0M116.3 164.2h0M97.4 138.1h0M116.9 146.9h0M109.0 168.9h0M111.5 165.8h0M98.5 146.4h0M110.1 170.2h0M106.8 166.8h0M118.6 164.1h0M107.3 161.9h0M109.8 170.1h0M96.6 162.2h0M114.3 164.3h0M112.7 161.3h0M95.4 135.5h0M109.6 170.4h0M96.1 118.5h0M123.8 120.6h0M98.3 138.1h0M95.0 125.7h0M106.4 158.8h0M111.8 162.2h0M106.6 161.1h0M89.4 169.5h0M95.2 128.6h0M90.0 167.3h0M128.9 161.5h0M121.2 135.9h0M124.4 116.1h0M101.3 167.9h0M131.4 166.3h0M107.1 161.7h0M86.4 165.6h0M125.0 114.0h0M118.2 161.7h0M122.2 160.9h0M104.0 154.5h0M106.7 159.6h0M114.0 152.1h0M118.2 151.3h0M118.1 140.5h0M117.4 149.3h0M116.0 151.7h0M95.5 112.8h0M115.5 145.9h0M127.2 166.3h0M97.8 146.1h0M93.8 118.5h0M113.6 160.5h0M119.3 165.0h0M109.0 170.1h0M114.1 152.7h0M127.2 169.6h0M110.2 168.2h0M117.9 136.8h0M109.1 169.0h0M114.7 148.7h0M106.8 161.0h0M97.0 123.9h0M100.5 143.0h0M109.0 169.0h0M102.2 158.9h0M123.9 110.1h0M111.4 162.7h0M117.4 138.0h0M128.8 157.9h0M99.7 132.8h0M105.4 156.0h0M107.7 163.7h0M111.3 168.9h0M106.6 160.3h0M85.6 156.2h0M111.3 165.6h0M102.0 143.9h0M94.6 132.1h0M106.8 159.8h0M106.2 159.0h0M113.6 162.9h0M97.6 136.6h0M103.5 162.3h0M96.6 167.4h0M102.7 157.0h0M114.6 160.6h0M94.5 109.4h0M118.3 139.8h0M132.0 160.9h0M112.4 160.0h0M101.5 150.9h0M102.6 162.9h0M107.6 164.0h0M106.3 157.6h0M101.9 141.5h0M96.1 114.6h0M122.6 132.7h0M77.8 170.3h0M97.4 122.6h0M98.9 135.3h0M108.8 168.0h0M110.3 168.0h0M124.6 111.2h0M108.1 165.6h0M122.1 119.9h0M108.8 168.9h0M119.5 145.4h0M110.2 167.8h0M102.3 145.4h0M115.1 163.4h0M105.6 165.0h0M120.1 135.6h0M91.5 164.6h0M119.0 130.8h0M114.2 161.3h0M122.6 164.1h0M101.8 153.1h0M132.3 162.5h0M100.7 143.3h0M108.2 169.3h0M104.1 149.9h0M117.0 142.6h0M104.9 152.4h0M95.0 117.5h0M115.1 150.0h0M111.5 162.8h0M129.0 167.4h0M108.2 166.6h0M98.6 153.6h0M98.7 125.2h0M100.6 133.0h0M108.9 169.3h0M124.7 137.6h0M116.7 156.5h0M104.5 158.7h0M124.1 119.8h0M138.2 157.4h0M90.1 157.0h0M109.1 170.3h0M130.6 161.3h0M114.1 151.7h0M111.9 167.2h0M106.7 170.4h0M96.0 119.2h0M131.4 158.3h0M118.3 144.3h0M107.0 161.7h0M110.4 170.0h0M84.1 160.0h0M105.3 164.7h0M106.3 163.0h0M92.2 158.8h0M99.2 138.9h0M104.0 158.3h0M104.0 156.9h0M132.5 158.8h0M104.6 170.0h0M115.0 147.9h0M109.8 169.7h0M77.5 169.2h0M111.4 164.6h0M112.6 160.4h0M118.6 152.0h0M106.9 165.5h0M111.1 165.9h0M111.7 164.8h0M90.7 165.0h0M130.0 158.1h0M104.3 167.0h0M108.4 167.2h0M112.1 161.6h0M106.9 165.5h0M101.3 140.8h0M89.8 166.0h0M125.9 103.5h0M134.0 157.0h0M106.0 161.6h0M108.6 167.0h0M118.1 163.2h0M113.4 155.3h0M106.7 163.6h0M113.2 163.6h0M95.2 121.2h0M115.9 162.4h0M105.7 160.1h0M108.7 167.6h0M107.9 167.3h0M130.4 163.8h0M109.8 170.0h0M108.6 167.9h0M103.5 149.3h0M82.7 166.4h0M113.6 161.5h0M121.8 131.7h0M124.2 130.2h0M118.8 161.9h0M128.7 157.9h0M127.7 157.5h0M84.4 167.2h0M130.3 159.4h0M116.7 168.8h0M106.7 166.6h0M127.1 160.9h0M119.7 140.6h0M121.7 151.5h0M120.2 154.1h0M96.0 119.2h0M100.5 135.7h0M115.8 160.6h0M116.8 148.9h0M131.9 160.0h0M113.5 155.3h0M84.6 158.1h0M111.3 163.7h0M112.2 164.0h0M102.1 163.3h0M110.7 165.9h0M96.8 141.5h0M88.9 156.4h0M119.0 135.4h0M128.5 165.6h0M92.3 160.8h0M125.1 105.5h0M116.1 150.7h0M118.4 161.0h0M121.1 137.0h0M119.8 131.0h0M115.2 150.0h0M117.1 149.3h0M99.6 160.8h0M113.1 161.1h0M95.3 147.6h0M105.6 165.0h0M110.5 169.5h0M104.0 149.5h0M112.3 161.5h0M119.1 154.4h0M98.9 146.9h0M117.5 143.3h0M96.8 127.7h0M116.7 150.6h0M111.7 162.0h0M123.7 139.9h0M104.2 165.9h0M98.7 126.2h0M105.3 162.7h0M110.1 170.4h0M111.4 163.3h0M114.0 168.4h0M104.8 155.5h0M109.8 169.4h0M125.1 113.1h0M106.6 164.1h0M124.7 114.3h0M108.3 166.7h0M132.3 157.4h0M93.6 119.0h0M132.6 165.8h0M103.6 162.3h0M101.7 164.2h0M103.0 162.1h0M104.1 150.5h0M121.4 144.2h0M124.2 132.8h0M128.8 158.1h0M100.8 133.8h0M88.5 160.7h0M93.5 118.5h0M104.6 154.9h0M119.4 149.8h0M95.3 119.4h0M91.9 166.3h0M120.1 140.8h0M111.4 163.4h0M96.4 127.3h0M105.5 158.2h0M103.2 150.8h0M96.5 143.8h0M118.2 135.8h0M118.0 135.3h0M105.5 158.6h0M123.7 129.8h0M118.2 159.9h0M127.4 166.3h0M108.1 168.2h0M117.0 161.7h0M102.6 147.3h0M108.5 167.4h0M100.3 140.1h0M100.4 149.6h0M92.7 137.4h0M113.4 156.6h0M83.2 160.8h0M93.8 121.1h0M110.6 168.0h0M100.2 144.7h0M107.8 167.6h0M91.6 156.6h0M122.6 114.7h0M108.0 165.8h0M105.9 168.8h0M112.7 160.3h0M106.4 159.2h0M94.2 127.5h0M108.7 168.2h0M94.1 122.1h0M102.3 161.5h0M96.9 126.7h0M106.1 156.4h0M98.1 136.9h0M116.3 153.4h0M121.2 150.4h0M114.9 151.3h0M105.0 162.8h0M71.4 168.7h0M105.4 154.6h0M140.6 157.2h0M110.7 167.5h0M101.4 156.7h0M100.0 146.4h0M88.2 168.2h0M117.8 144.9h0M95.4 117.1h0M112.1 162.3h0M97.0 129.4h0M134.7 165.6h0M87.8 169.5h0M102.8 147.8h0M100.2 154.9h0M110.2 169.3h0M98.6 134.5h0M114.0 160.7h0M100.2 135.2h0M100.7 137.2h0M112.0 162.9h0M140.4 164.7h0M109.0 169.3h0M127.3 159.9h0M108.7 169.0h0M131.9 157.6h0M98.9 136.3h0M113.8 157.5h0M95.7 113.1h0M105.2 154.9h0M137.6 170.3h0M127.9 169.4h0M113.3 168.0h0M101.3 156.0h0M87.7 170.2h0M110.2 169.7h0M113.2 161.8h0M109.8 169.9h0M125.5 107.5h0M106.3 160.3h0M123.8 140.9h0M100.5 147.2h0M104.1 148.6h0M110.2 168.7h0M113.5 155.3h0M122.0 142.8h0M105.3 161.9h0M106.9 166.0h0M92.3 166.3h0M108.9 168.7h0M93.3 101.9h0M99.8 146.9h0M122.0 132.8h0M109.2 170.3h0M123.5 151.6h0M117.8 164.2h0M121.7 147.7h0M116.6 155.1h0M110.8 168.6h0M97.3 127.7h0M125.3 125.8h0M109.0 169.2h0M103.2 146.9h0M88.9 166.0h0M110.5 169.3h0M104.3 155.0h0M115.3 157.6h0M122.8 115.5h0M90.5 156.7h0M118.0 146.5h0M111.0 166.7h0M96.4 151.1h0M95.6 121.6h0M88.1 164.9h0M99.0 142.8h0M107.8 164.5h0M122.4 131.2h0M110.0 169.9h0M108.5 168.2h0M100.9 152.5h0M99.7 136.1h0M102.6 151.6h0M112.5 166.6h0M95.5 128.8h0M109.3 170.1h0M119.0 142.6h0M109.0 169.2h0M102.9 161.1h0M110.5 170.1h0M115.3 147.1h0M120.1 165.7h0M107.1 162.0h0M107.7 164.1h0M106.6 167.5h0M111.6 163.0h0M129.0 166.2h0M89.2 161.0h0M108.4 167.5h0M111.2 167.7h0M113.4 158.7h0M99.2 135.5h0M102.4 147.9h0M102.4 143.0h0M100.3 142.1h0M133.6 158.1h0M87.0 158.8h0M104.2 159.6h0M96.2 152.6h0M105.0 155.6h0M102.3 147.9h0M100.1 151.2h0M102.0 153.2h0M101.8 152.2h0M87.3 165.0h0M98.2 132.3h0M113.4 156.5h0M111.8 162.5h0M89.1 156.4h0M97.8 130.5h0M113.4 161.5h0M115.1 152.9h0M99.2 139.0h0M108.4 168.4h0M110.7 167.1h0M115.4 147.0h0M107.6 163.0h0M111.8 169.4h0M100.7 135.3h0M118.1 135.0h0M113.5 156.9h0M119.1 153.5h0M90.4 162.3h0M118.6 143.3h0M115.7 146.9h0M105.4 164.2h0M125.7 135.6h0M123.4 125.3h0M114.9 151.4h0M86.2 159.4h0M122.3 129.4h0M114.5 159.3h0M104.4 154.7h0M86.6 160.0h0M93.0 155.6h0M121.4 147.7h0M105.2 154.6h0M94.1 122.0h0M93.5 136.2h0M97.1 139.2h0M111.8 163.2h0M114.6 163.3h0M116.5 165.9h0M91.3 163.7h0M106.6 158.9h0M96.6 141.4h0M99.1 128.5h0M96.9 144.2h0M127.3 156.6h0M106.6 160.2h0M103.0 159.9h0M101.2 150.3h0M116.8 152.1h0M115.6 162.8h0M119.2 133.9h0M98.7 140.5h0M123.7 110.9h0M122.3 120.4h0M97.4 121.2h0M120.1 136.0h0M104.6 165.2h0M102.9 148.4h0M117.1 168.0h0M109.6 170.5h0M105.1 157.6h0M118.2 156.4h0M96.1 124.0h0M111.0 166.8h0M125.1 105.6h0M101.0 150.5h0M112.3 158.9h0M104.6 155.5h0M116.4 146.8h0M113.8 160.3h0M107.8 164.7h0M92.2 160.1h0M110.0 170.1h0M116.2 155.0h0M111.7 166.8h0M108.2 169.9h0M114.9 154.0h0M109.8 170.4h0M102.8 146.5h0M115.0 154.5h0M112.5 163.9h0M112.4 161.7h0M96.4 136.5h0M130.1 163.9h0M113.1 156.7h0M119.0 141.1h0M116.9 158.3h0M133.1 156.8h0M121.4 119.9h0M91.9 161.0h0M104.4 155.9h0M117.1 149.0h0M123.8 120.5h0M118.6 157.7h0M112.0 161.6h0M100.3 136.0h0M110.7 167.0h0M106.7 170.3h0M120.4 159.3h0M137.6 157.5h0M116.1 149.9h0M122.6 124.5h0M104.4 163.7h0M95.2 131.7h0M115.6 149.9h0M100.4 153.0h0M123.2 129.7h0M97.1 158.3h0M115.5 158.1h0M108.0 166.5h0M102.8 142.4h0M95.3 117.5h0M97.8 121.6h0M100.9 138.7h0M116.9 165.8h0M100.7 142.6h0M111.3 164.4h0M118.1 140.1h0M99.2 158.4h0M95.5 123.8h0M87.5 162.5h0M97.9 149.8h0M108.7 169.3h0M113.3 167.6h0M96.4 126.9h0M117.5 156.3h0M95.2 111.0h0M115.1 154.6h0M121.8 149.5h0M108.7 169.5h0M116.7 164.5h0M99.3 148.9h0M96.2 115.4h0M98.4 125.3h0M115.3 150.9h0M91.2 159.2h0M113.5 161.3h0M126.1 109.4h0M117.3 145.0h0M123.3 146.0h0M122.0 123.0h0M97.9 157.2h0M98.4 142.0h0M108.9 170.3h0M104.0 155.8h0M119.1 151.2h0M96.8 155.2h0M120.8 130.4h0M90.9 166.6h0M109.5 170.8h0M107.9 167.0h0M112.4 165.8h0M108.7 167.8h0M110.2 170.0h0M100.6 135.6h0M133.8 161.5h0M104.9 165.1h0M108.5 166.8h0M93.2 109.9h0M78.5 162.9h0M109.0 169.3h0M96.5 128.3h0M94.4 108.1h0M106.2 157.8h0M133.3 164.5h0M124.6 120.0h0M112.2 159.3h0M92.6 107.7h0M103.0 159.4h0M103.4 158.7h0M99.0 147.2h0M97.5 132.7h0M123.5 136.9h0M128.2 159.1h0M116.3 144.3h0M110.4 168.7h0M105.5 159.2h0M103.4 158.9h0M129.6 170.3h0M106.0 168.3h0M110.6 167.1h0M98.3 158.1h0M100.9 143.2h0M100.0 151.5h0M108.1 168.5h0M98.8 135.6h0M110.6 166.8h0M107.0 165.3h0M124.7 114.5h0M113.8 154.9h0M124.1 115.1h0M85.1 156.2h0M104.7 152.5h0M103.9 151.8h0M116.4 160.2h0M111.7 163.1h0M114.0 158.8h0M127.5 161.9h0M99.8 146.6h0M107.9 168.5h0M112.8 157.4h0M109.1 169.0h0M110.9 167.1h0M111.4 162.7h0M97.2 155.9h0M93.4 160.0h0M112.2 159.6h0M100.5 160.0h0M124.0 153.5h0M126.6 156.8h0M119.8 128.6h0M104.6 152.5h0M108.6 167.9h0M112.7 160.3h0M93.8 143.0h0M112.4 162.6h0M113.1 162.4h0M112.9 158.0h0M108.5 169.3h0M129.9 166.4h0M125.0 119.8h0M99.7 145.9h0M103.7 161.5h0M105.9 158.7h0M99.2 131.0h0M120.0 144.0h0M114.9 148.3h0M104.1 155.1h0M104.3 168.1h0M105.2 164.0h0M109.1 169.6h0M101.9 146.0h0M107.7 166.4h0M108.4 166.5h0M106.0 160.6h0M113.9 156.0h0M117.8 159.9h0M116.3 152.1h0M105.3 166.0h0M81.7 167.0h0M117.3 156.7h0M94.0 145.8h0M104.8 161.4h0M102.9 166.1h0M104.4 152.7h0M123.4 115.9h0M94.4 141.1h0M103.9 151.9h0M123.7 122.6h0M101.7 154.5h0M106.8 167.4h0M123.4 153.3h0M114.8 149.7h0M115.6 145.0h0M107.9 165.3h0M120.6 142.3h0M109.9 169.9h0M117.2 166.5h0M113.0 160.9h0M101.4 137.3h0M110.4 167.0h0M89.2 164.4h0M109.6 170.6h0M111.3 164.1h0M99.1 144.5h0M115.0 162.9h0M119.9 133.0h0M109.4 170.2h0M122.8 126.9h0M124.8 116.4h0M99.6 134.5h0M100.3 140.3h0M85.9 160.2h0M96.2 115.7h0M105.2 160.7h0M114.4 159.1h0M121.9 126.0h0M109.0 169.9h0M109.0 169.0h0M95.9 131.1h0M119.9 156.0h0M98.2 156.2h0M81.2 160.8h0M97.7 135.0h0M99.3 139.8h0M132.4 163.2h0M108.0 164.9h0M99.4 127.5h0M91.7 169.0h0M111.4 163.3h0M117.5 138.0h0M111.4 163.0h0M122.4 124.0h0M89.1 157.0h0M97.1 154.8h0M118.7 140.1h0M107.5 163.4h0M106.9 160.1h0M118.8 135.4h0M114.5 154.0h0M108.8 168.1h0M127.0 165.5h0M104.6 164.1h0M113.6 157.7h0M117.2 152.0h0M112.4 160.7h0M113.4 155.9h0M119.2 129.8h0M119.0 146.4h0M89.4 170.1h0M105.0 153.0h0M112.3 163.8h0M91.3 162.5h0M113.2 166.2h0M108.0 165.8h0M115.6 159.4h0M107.6 165.3h0M113.0 158.5h0M95.4 157.0h0M114.2 153.7h0M123.7 152.4h0M117.8 148.0h0M114.8 157.7h0M111.6 163.5h0M113.4 154.6h0M92.6 145.1h0M90.6 160.8h0M95.0 122.9h0M125.9 115.7h0M133.7 167.8h0M95.1 129.9h0M122.0 145.6h0M116.9 144.3h0M108.6 167.3h0M110.6 169.1h0M107.9 169.2h0M123.1 119.7h0M108.3 166.8h0M104.0 162.3h0M104.6 159.6h0M108.5 168.1h0M93.7 105.6h0M105.0 159.6h0M104.9 154.1h0M115.8 154.6h0M111.3 165.9h0M116.7 142.7h0M90.3 162.7h0M117.4 145.1h0M109.1 169.3h0M121.1 156.4h0M101.2 151.7h0M112.0 164.7h0M114.2 166.7h0M123.5 141.5h0M108.9 168.4h0M116.6 145.6h0M114.1 162.3h0M105.6 161.4h0M88.1 158.1h0M108.4 166.3h0M112.1 164.2h0M109.8 170.0h0M120.0 154.8h0M109.9 169.1h0M111.9 166.4h0M119.1 133.0h0M118.7 152.2h0M117.4 154.0h0M127.4 159.3h0M108.9 169.2h0M138.5 160.6h0M105.4 162.4h0M123.0 130.5h0M113.8 153.8h0M130.3 166.1h0M109.3 169.9h0M107.1 166.1h0M107.5 162.2h0M114.8 152.5h0M91.7 170.1h0M118.3 137.9h0M105.8 159.2h0M95.7 114.3h0M110.5 166.8h0M92.1 167.1h0M123.1 136.4h0M108.0 166.7h0M112.7 170.2h0M129.9 162.6h0M105.4 166.5h0M107.9 167.1h0M128.9 168.6h0M96.2 150.5h0M116.1 153.6h0M92.0 163.6h0M103.0 143.1h0M108.8 170.0h0M128.3 157.1h0M102.8 145.0h0M107.6 163.0h0M125.5 103.7h0M126.5 164.4h0M114.0 156.2h0M92.0 163.9h0M101.5 140.5h0M128.7 156.7h0M122.9 122.8h0M115.6 158.6h0M133.2 158.7h0M112.6 159.5h0M103.5 147.6h0M120.0 157.0h0M106.5 162.0h0M92.0 156.6h0M93.6 140.9h0M92.3 163.6h0M106.0 157.9h0M122.3 116.2h0M128.2 156.4h0M97.7 127.5h0M109.1 169.7h0M104.6 156.1h0M128.7 164.1h0M124.4 139.3h0M121.7 140.5h0M116.4 142.1h0M101.5 157.3h0M100.5 162.3h0M103.6 153.1h0M95.1 127.0h0M88.7 169.3h0M122.6 143.8h0M112.2 164.2h0M100.0 144.2h0M104.1 163.6h0M127.8 161.6h0M107.2 162.4h0M99.4 145.0h0M105.7 161.7h0M105.8 159.1h0M99.9 162.8h0M101.4 145.3h0M115.5 159.2h0M102.8 148.1h0M110.1 170.1h0M114.7 153.2h0M123.8 123.8h0M96.4 118.3h0M114.7 157.1h0M102.2 140.1h0M124.6 119.4h0M103.8 156.5h0M118.0 153.3h0M115.0 152.3h0M100.6 134.4h0M96.3 169.3h0M110.9 167.1h0M114.5 150.4h0M89.7 167.0h0M113.6 160.4h0M112.3 160.4h0M100.5 141.1h0M108.0 166.9h0M107.2 161.1h0M103.0 143.1h0M115.9 149.6h0M105.2 156.3h0M97.2 138.1h0M108.0 167.8h0M118.8 137.8h0M114.3 156.2h0M112.5 158.2h0M112.8 158.7h0M93.0 138.8h0M107.4 164.3h0M109.4 170.7h0M113.8 160.0h0M113.3 159.6h0M110.4 169.5h0M113.9 152.3h0M134.4 167.8h0M107.1 166.2h0M110.9 168.4h0M108.1 166.1h0M134.6 157.9h0M103.8 157.0h0M106.8 159.7h0M83.1 156.4h0M111.0 165.4h0M89.7 163.4h0M112.0 157.7h0M111.9 160.3h0M107.7 161.5h0M116.6 136.8h0M124.2 95.9h0M100.2 123.8h0M122.0 117.1h0M124.3 100.6h0M121.3 120.2h0M103.4 142.7h0M99.9 123.1h0M119.5 120.9h0M123.4 109.7h0M102.3 136.8h0M119.4 120.5h0M126.1 84.1h0M110.5 165.6h0M120.3 118.6h0M115.6 139.3h0M120.7 120.8h0M93.6 90.6h0M120.2 122.8h0M121.4 110.3h0M98.1 120.2h0M114.9 144.3h0" stroke="#cccccc" stroke-width="2.8" stroke-linecap="round" fill="none"/>
<path d="M90.2 120.3h0M89.6 124.9h0M65.5 153.8h0M80.9 137.9h0M69.5 140.9h0M87.0 152.0h0M74.9 147.9h0M70.0 155.1h0M72.0 155.2h0M80.2 108.3h0M88.3 138.4h0M86.9 154.9h0M75.3 139.4h0M77.2 155.1h0M90.1 152.3h0M76.5 155.2h0M91.5 148.3h0M87.4 122.4h0M74.1 150.9h0M79.6 147.1h0M78.7 130.2h0M91.1 144.8h0M86.8 144.2h0M84.5 131.0h0M87.1 141.5h0M75.9 127.3h0M89.8 154.1h0M88.9 116.1h0M87.3 120.0h0M61.6 118.5h0M87.6 129.3h0M85.5 112.9h0M85.5 134.8h0M81.4 133.3h0M90.0 140.2h0M86.7 132.8h0M78.4 152.2h0M87.6 151.5h0M62.4 136.0h0M86.4 112.7h0M78.0 114.4h0M85.5 154.1h0M87.6 154.8h0M87.2 144.6h0M85.9 111.2h0M84.9 153.4h0M90.0 134.4h0M85.2 145.9h0M85.6 146.0h0M81.6 135.7h0M91.3 143.8h0M89.2 139.2h0M86.2 127.4h0M61.7 114.3h0M83.1 140.9h0M90.7 131.9h0M89.8 147.9h0M83.9 150.9h0M73.8 135.8h0M59.3 155.2h0M86.1 149.3h0M84.1 133.4h0M83.7 112.3h0M86.5 147.7h0M79.3 137.1h0M88.9 118.3h0M89.4 154.9h0M84.8 115.6h0M74.4 115.5h0M83.3 140.8h0M88.7 153.6h0M86.5 122.7h0M84.5 109.6h0M77.3 137.1h0M83.7 145.3h0M70.4 111.1h0M90.0 120.6h0M81.6 147.3h0M79.5 144.2h0M81.1 140.5h0M82.8 113.0h0M71.8 139.3h0M87.3 131.0h0M81.8 154.5h0M85.3 150.6h0M82.4 153.3h0M88.6 151.7h0M88.8 139.9h0M73.8 129.3h0M82.4 125.0h0M87.3 145.6h0M82.3 152.4h0M79.2 109.9h0M72.6 154.8h0M69.5 151.1h0M90.5 138.0h0M87.9 153.3h0M83.3 139.5h0M84.8 141.2h0M83.1 124.4h0M80.3 127.8h0M75.9 140.9h0M82.6 154.3h0M91.0 145.5h0M81.5 151.6h0M62.9 147.9h0M85.7 143.5h0M59.9 152.8h0M89.1 136.5h0M87.7 148.8h0M90.5 120.0h0M86.5 138.4h0M89.2 117.5h0M90.7 133.8h0M91.1 142.3h0M88.2 115.5h0M86.5 122.3h0M91.5 152.3h0M53.0 142.1h0M91.4 151.7h0M87.7 141.3h0M87.4 150.0h0M86.0 143.5h0M89.9 142.5h0M84.0 137.7h0M79.6 142.7h0M89.6 117.3h0M90.6 150.5h0M86.9 146.2h0M89.6 123.1h0M88.5 140.7h0M83.3 154.0h0M86.7 154.1h0M84.7 128.6h0M74.4 104.0h0M90.7 145.2h0M81.9 146.8h0M65.8 136.7h0M73.4 154.8h0M87.3 132.1h0M75.4 139.4h0M74.2 120.1h0M87.0 131.2h0M85.2 154.4h0M71.1 110.5h0M71.7 150.8h0M78.2 155.1h0M85.5 149.9h0M85.4 147.0h0M84.6 144.8h0M78.9 130.4h0M88.8 152.9h0M89.3 149.6h0M86.8 142.2h0M78.7 103.9h0M89.0 150.5h0M85.2 155.3h0M82.7 155.1h0M83.6 136.8h0M87.4 111.7h0M88.4 155.2h0M90.7 152.1h0M79.7 125.0h0M87.8 120.1h0M90.1 152.4h0M84.1 139.9h0M77.7 148.8h0M70.9 128.6h0M81.2 136.6h0M89.6 140.3h0M66.0 155.2h0M88.1 150.0h0M89.1 128.5h0M82.3 153.9h0M80.8 114.9h0M91.1 155.2h0M83.5 116.8h0M84.6 141.4h0M87.1 139.2h0M69.8 130.8h0M79.4 142.0h0M72.4 118.3h0M85.4 149.9h0M88.5 113.7h0M82.6 154.8h0M85.1 145.2h0M83.5 150.3h0M70.6 138.8h0M75.9 150.3h0M72.1 135.2h0M84.7 144.8h0M66.1 132.0h0M84.9 147.7h0M86.2 151.0h0M86.5 151.2h0M91.0 148.6h0M91.5 136.0h0M90.9 121.1h0M88.3 151.1h0M84.6 150.1h0M80.2 149.2h0M68.9 155.1h0M91.2 122.9h0M81.3 150.7h0M82.5 147.4h0M85.4 150.7h0M84.8 133.7h0M74.9 150.4h0M84.2 138.1h0M73.1 139.6h0M73.8 104.9h0M87.0 146.4h0M60.5 128.6h0M84.9 125.5h0M83.4 140.5h0M82.1 150.8h0M87.5 155.3h0M80.3 119.0h0M79.8 105.9h0M79.1 154.3h0M88.3 117.7h0M90.7 122.8h0M77.4 153.5h0M89.6 131.3h0M82.2 155.2h0M85.0 152.9h0M74.1 136.5h0M91.6 147.7h0M91.7 121.7h0M72.1 122.4h0M91.7 119.6h0M89.0 135.5h0M78.8 136.7h0M90.6 152.0h0M79.9 154.1h0M87.5 116.3h0M87.0 153.8h0M82.3 147.8h0M77.7 146.5h0M75.9 115.7h0M90.0 141.2h0M86.4 154.2h0M69.8 146.3h0M83.2 155.0h0M64.7 90.5h0M81.4 154.0h0M82.0 142.5h0M86.0 152.3h0M90.3 124.6h0M83.4 126.7h0M79.7 145.2h0M84.6 149.8h0M82.2 144.4h0M78.0 149.4h0M87.4 154.8h0M91.4 152.7h0M91.6 146.7h0M87.5 119.9h0M91.4 116.0h0M90.9 126.0h0M87.8 151.8h0M83.3 147.7h0M91.6 154.2h0M81.5 127.5h0M46.5 148.1h0M78.6 147.5h0M85.2 150.6h0M87.0 117.2h0M89.1 146.2h0M70.2 140.6h0M76.7 137.5h0M87.9 131.0h0M82.2 146.6h0M36.1 154.0h0M74.7 123.6h0M80.6 141.9h0M79.3 155.1h0M81.8 116.7h0M87.0 129.2h0M81.0 140.6h0M78.5 140.8h0M90.6 142.5h0M79.2 153.2h0M86.2 122.3h0M91.6 124.5h0M87.9 148.2h0M81.0 136.6h0M88.7 153.8h0M86.8 118.9h0M44.4 107.2h0M81.0 129.5h0M69.7 153.0h0M90.3 124.8h0M91.6 142.8h0M87.1 117.0h0M82.9 151.9h0M91.1 144.7h0M84.5 143.3h0M83.9 155.0h0M87.7 123.8h0M88.7 153.1h0M90.0 118.0h0M73.4 143.8h0M88.2 148.1h0M72.5 105.4h0M64.4 104.3h0M81.5 154.2h0M66.1 152.6h0M79.7 147.1h0M91.4 136.3h0M89.1 120.8h0M90.0 135.1h0M86.6 155.1h0M88.8 150.1h0M78.3 121.8h0M67.1 152.7h0M89.6 148.1h0M88.3 152.7h0M79.2 155.3h0M84.8 154.0h0M88.4 150.5h0M86.2 114.6h0M79.8 143.9h0M50.5 148.4h0M89.9 136.7h0M78.5 125.5h0M85.4 129.4h0M88.1 115.6h0M79.6 120.3h0M84.8 115.0h0M86.0 113.5h0M86.5 113.9h0M88.3 142.1h0M84.4 139.1h0M75.1 113.2h0M89.9 132.9h0M85.0 146.1h0M90.6 120.6h0M51.3 110.2h0M84.1 154.7h0M88.3 149.4h0M90.9 148.3h0M87.6 146.3h0M91.1 154.2h0M64.5 132.0h0M89.4 145.2h0M87.7 143.3h0M90.0 130.7h0M67.4 127.4h0M62.9 107.6h0M84.8 140.7h0M81.2 146.9h0M91.0 145.5h0M76.5 128.0h0M91.4 126.6h0M91.3 142.9h0M90.0 150.5h0M89.4 137.6h0M80.6 114.3h0M85.4 155.0h0M91.4 154.8h0M90.5 153.5h0M88.6 153.8h0M74.6 146.2h0M85.9 125.6h0M90.0 143.2h0M91.4 144.3h0M68.0 132.3h0M88.5 136.3h0M85.5 142.1h0M82.6 128.7h0M71.8 97.8h0M62.5 107.8h0M81.4 121.6h0M89.8 153.0h0M75.1 142.6h0M91.6 131.6h0M90.5 151.3h0M68.9 152.1h0M76.0 150.1h0M77.5 145.7h0M84.3 131.3h0M80.4 152.2h0M81.7 153.3h0M89.2 128.2h0M90.3 146.8h0M90.7 139.7h0M90.0 148.6h0M57.1 137.9h0M85.5 155.2h0M89.0 154.5h0M83.0 153.6h0M90.0 154.0h0M79.6 131.1h0M88.6 149.9h0M88.8 140.8h0M84.2 154.0h0M90.3 137.4h0M88.8 134.6h0M90.0 154.6h0M91.1 124.5h0M84.8 155.2h0M87.8 136.1h0M89.5 125.0h0M91.7 142.7h0M84.1 152.9h0M52.6 128.6h0M90.5 130.4h0M91.5 135.1h0M75.5 130.2h0M91.5 155.0h0M75.8 113.8h0M88.9 117.8h0M76.6 154.3h0M72.3 155.2h0M88.2 152.7h0M89.6 143.2h0M91.3 117.3h0M89.6 134.1h0M87.8 117.7h0M84.4 141.8h0M78.9 136.5h0M86.4 153.3h0M77.3 131.7h0M86.1 110.6h0M86.1 128.6h0M90.1 148.7h0M82.8 151.0h0M41.5 66.5h0M82.4 128.0h0M88.9 128.4h0M74.0 141.1h0M84.2 133.1h0M89.2 155.1h0M89.9 142.1h0M82.6 118.2h0M88.9 153.5h0M86.9 153.5h0M89.1 143.5h0M81.4 154.4h0M90.0 144.5h0M85.1 153.2h0M82.0 137.5h0M62.1 91.3h0M82.9 154.6h0M85.1 150.8h0M88.8 154.9h0M81.2 131.6h0M88.9 152.2h0M47.8 126.4h0M81.0 151.2h0M66.1 119.0h0M85.3 154.4h0M86.6 155.2h0M89.6 128.2h0M90.7 152.9h0M88.0 114.0h0M90.1 146.7h0M84.9 155.1h0M84.3 154.9h0M88.3 149.6h0M39.2 134.3h0M88.6 149.4h0M88.5 153.6h0M88.3 132.9h0M87.8 152.2h0M91.4 129.0h0M88.6 151.2h0M74.8 101.4h0M84.6 154.9h0M75.5 120.7h0M91.6 151.0h0M75.5 140.5h0M90.0 114.7h0M89.6 153.3h0M81.1 105.8h0M80.7 155.2h0M91.6 152.8h0M81.9 109.0h0M90.6 135.4h0M81.6 155.2h0M70.8 147.7h0M87.5 126.2h0M84.7 135.0h0M91.2 138.0h0M90.3 126.0h0M78.4 130.8h0M82.4 108.0h0M75.8 124.6h0M87.7 155.3h0M91.4 139.4h0M48.0 135.7h0M89.6 155.2h0M90.2 148.6h0M87.9 151.1h0M72.8 96.3h0M57.2 151.3h0M81.0 153.3h0M86.2 142.2h0M88.3 127.3h0M89.5 126.8h0M78.7 132.2h0M91.0 154.4h0M77.0 104.5h0M89.3 134.8h0M79.0 114.3h0M90.4 152.9h0M91.2 134.3h0M87.8 132.2h0M90.1 136.7h0M88.9 145.6h0M83.7 111.4h0M89.8 128.3h0M91.3 153.5h0M81.0 154.7h0M75.2 109.5h0M89.5 132.7h0M82.3 107.8h0M85.6 147.6h0M72.8 149.8h0M69.7 145.3h0M87.0 122.9h0M79.0 152.8h0M82.1 106.6h0M87.1 139.7h0M82.1 127.8h0M87.3 147.5h0M90.0 137.3h0M88.1 127.0h0M91.3 130.6h0M90.2 123.0h0M76.2 146.6h0M90.8 152.8h0M89.7 114.8h0M77.0 155.2h0M91.7 141.2h0M86.3 139.7h0M75.2 114.2h0M90.4 116.3h0M86.2 143.6h0M90.3 152.1h0M89.9 151.0h0M84.7 151.2h0M88.9 154.5h0M91.1 120.9h0M86.6 144.4h0M90.5 115.2h0M91.6 129.4h0M91.4 151.0h0M85.8 144.1h0M80.8 136.7h0M80.9 154.9h0M88.6 151.1h0M85.8 145.7h0M90.7 154.2h0M91.2 155.1h0M82.4 109.1h0M83.6 152.7h0M83.3 141.6h0M88.8 126.2h0M89.0 150.2h0M91.3 152.1h0M68.7 138.5h0M80.0 140.9h0M89.0 148.7h0M85.3 149.7h0M85.2 155.2h0M87.3 154.4h0M85.9 140.6h0M70.0 106.9h0M71.6 141.3h0M88.6 123.2h0M90.6 148.1h0M91.2 127.3h0M79.4 109.7h0M89.9 124.9h0M81.0 138.3h0M86.5 124.6h0M86.0 113.9h0M68.4 144.8h0M84.8 145.0h0M70.9 109.5h0M87.1 147.9h0M88.3 134.5h0M81.9 134.1h0M85.1 132.5h0M59.0 55.8h0M66.3 61.2h0M99.0 59.9h0M87.5 68.5h0M69.4 72.7h0M41.8 74.8h0M79.0 78.1h0M98.0 78.1h0M45.0 81.2h0M41.8 83.5h0M87.5 83.5h0M109.8 83.5h0M58.3 87.6h0M103.4 90.8h0M50.4 93.0h0M74.8 93.0h0M39.2 98.1h0M52.0 98.1h0M38.6 105.1h0M57.7 108.2h0M48.0 119.4h0M45.0 125.8h0" stroke="#2ea8df" stroke-width="2.8" stroke-linecap="round" fill="none"/>
<path d="M127.3 139.3h0M136.1 116.4h0M139.9 148.8h0M146.8 79.8h0M134.5 109.9h0M128.9 151.5h0M129.1 135.3h0M144.0 141.2h0M147.6 95.5h0M127.6 155.1h0M173.5 116.8h0M138.6 101.8h0M130.0 155.2h0M142.4 90.0h0M131.1 125.7h0M127.3 108.1h0M134.3 95.5h0M136.0 142.8h0M128.7 136.6h0M142.2 128.5h0M133.1 149.9h0M128.4 149.9h0M130.0 138.5h0M148.6 145.1h0M129.2 121.4h0M148.1 147.2h0M129.9 141.6h0M127.7 154.1h0M133.3 148.9h0M129.2 116.5h0M132.2 131.7h0M135.3 116.0h0M146.3 80.3h0M128.1 122.4h0M127.4 153.5h0M129.5 153.2h0M128.5 150.0h0M139.8 107.9h0M132.5 132.5h0M137.6 126.6h0M127.9 140.0h0M128.9 139.0h0M155.7 148.4h0M130.2 131.7h0M135.3 145.8h0M131.0 136.5h0M147.2 154.6h0M143.8 125.8h0M145.8 137.9h0M135.1 155.1h0M129.1 127.9h0M130.2 135.7h0M157.8 117.8h0M135.5 129.8h0M129.4 101.4h0M130.8 155.1h0M131.4 141.1h0M129.0 141.3h0M127.8 107.4h0M132.8 147.2h0M133.2 129.2h0M130.9 114.5h0M131.8 103.9h0M138.2 117.9h0M128.6 124.5h0M156.4 88.6h0M127.6 148.3h0M127.3 128.2h0M143.6 114.3h0M135.4 131.4h0M137.1 130.3h0M139.3 151.8h0M132.0 127.3h0M127.8 134.3h0M145.8 153.7h0M137.2 116.4h0M143.8 84.1h0M134.9 127.8h0M132.1 139.5h0M134.2 144.4h0M139.3 129.1h0M131.5 135.2h0M136.5 106.5h0M139.9 115.1h0M129.4 155.3h0M128.2 154.3h0M132.6 154.3h0M132.1 117.7h0M131.6 108.5h0M130.6 137.5h0M129.6 153.1h0M133.7 153.1h0M128.4 147.9h0M137.0 91.8h0M129.1 149.7h0M153.5 118.1h0M139.2 86.6h0M135.3 148.5h0M157.3 76.9h0M127.3 105.9h0M135.1 149.2h0M132.1 146.6h0M138.4 139.7h0M127.9 111.4h0M130.3 151.8h0M136.3 152.8h0M134.2 138.4h0M128.2 105.7h0M136.1 154.6h0M144.5 117.5h0M140.2 108.9h0M128.6 146.8h0M128.7 116.7h0M149.3 121.2h0M135.5 94.1h0M132.8 139.2h0M129.7 101.0h0M128.2 151.5h0M141.5 155.0h0M128.9 135.7h0M129.3 143.4h0M127.4 127.8h0M127.8 148.0h0M128.1 125.5h0M129.1 134.0h0M127.5 134.2h0M130.4 106.9h0M128.9 147.5h0M142.5 154.4h0M132.3 136.7h0M129.8 152.1h0M132.4 155.1h0M127.3 148.2h0M130.8 148.7h0M136.5 139.3h0M134.3 128.7h0M136.6 97.2h0M133.4 121.4h0M133.4 154.3h0M140.7 129.7h0M127.6 122.7h0M132.5 100.9h0M131.3 138.0h0M144.2 88.0h0M138.3 136.8h0M131.5 119.8h0M144.3 133.5h0M136.3 129.6h0M133.3 150.2h0M129.7 149.0h0M158.3 155.0h0M129.1 151.0h0M139.9 118.4h0M130.0 153.7h0M135.6 115.3h0M134.9 118.6h0M134.1 155.0h0M139.1 100.2h0M128.6 143.7h0M158.1 63.7h0M140.0 102.1h0M128.5 111.8h0M140.2 149.9h0M145.5 99.6h0M145.8 89.6h0M128.0 152.2h0M139.5 151.1h0M130.5 116.6h0M140.6 139.0h0M131.2 123.0h0M168.1 103.4h0M130.4 149.5h0M128.8 130.6h0M136.8 149.4h0M137.5 125.6h0M133.6 133.5h0M131.2 155.2h0M133.0 124.2h0M143.6 83.6h0M135.1 151.9h0M141.9 137.6h0M152.1 76.1h0M128.0 154.8h0M127.6 127.2h0M132.3 127.5h0M130.2 130.9h0M128.0 151.0h0M137.2 149.0h0M128.2 128.6h0M157.9 69.9h0M143.3 111.9h0M127.3 152.6h0M133.8 133.0h0M140.9 155.0h0M134.6 154.3h0M137.8 153.9h0M132.3 116.3h0M158.8 88.4h0M138.7 145.5h0M134.9 131.8h0M132.4 129.5h0M131.7 143.0h0M138.0 121.8h0M155.0 74.9h0M139.3 153.3h0M132.5 135.9h0M139.0 96.5h0M128.9 155.2h0M142.5 84.7h0M130.3 130.3h0M130.9 142.9h0M134.9 120.5h0M144.6 140.1h0M132.4 138.7h0M159.3 121.6h0M146.0 80.9h0M127.5 120.7h0M128.1 137.8h0M134.7 154.2h0M133.7 121.4h0M130.5 134.3h0M131.0 152.4h0M129.5 105.3h0M134.8 131.8h0M139.5 103.3h0M137.8 139.8h0M133.1 145.4h0M127.7 108.8h0M127.9 144.4h0M141.6 144.2h0M145.4 155.1h0M128.5 140.4h0M134.8 112.1h0M144.3 100.1h0M128.8 101.8h0M127.6 139.8h0M130.5 155.1h0M129.0 101.4h0M153.6 139.1h0M127.5 132.0h0M129.0 148.3h0M136.7 150.0h0M130.5 155.3h0M130.2 146.9h0M128.2 154.0h0M131.2 154.2h0M147.9 146.0h0M130.7 154.6h0M139.8 150.4h0M127.8 144.5h0M145.5 87.6h0M132.0 130.7h0M127.8 110.4h0M137.8 148.2h0M141.0 151.5h0M132.2 147.3h0M133.5 148.6h0M133.1 148.5h0M127.4 153.7h0M138.9 136.4h0M132.6 124.7h0M129.5 151.5h0M131.2 118.9h0M137.1 136.3h0M134.3 148.3h0M149.4 114.6h0M139.5 141.2h0M133.7 119.9h0M132.9 116.6h0M129.6 117.7h0M130.1 135.9h0M128.4 142.7h0M143.6 155.0h0M128.8 134.9h0M135.3 120.6h0M136.0 117.3h0M134.2 152.2h0M133.1 147.4h0M127.3 137.7h0M154.9 128.5h0M138.0 123.8h0M127.5 135.2h0M160.7 105.2h0M129.9 107.8h0M135.5 98.4h0M141.4 125.0h0M132.0 134.0h0M130.1 111.8h0M128.3 102.7h0M130.4 140.1h0M134.3 145.7h0M134.3 154.7h0M142.5 153.3h0M142.7 97.6h0M138.8 112.2h0M128.8 133.4h0M127.7 122.3h0M138.9 149.6h0M131.6 154.0h0M135.5 119.5h0M127.7 131.2h0M143.1 150.6h0M145.1 145.6h0M127.4 154.3h0M137.9 150.5h0M142.0 136.1h0M127.9 117.0h0M130.2 153.1h0M127.3 147.6h0M131.9 136.2h0M133.8 154.2h0M127.3 112.3h0M131.4 120.8h0M144.1 122.4h0M137.4 149.4h0M129.0 136.5h0M159.4 62.8h0M129.2 128.8h0M129.8 144.5h0M129.7 100.2h0M130.9 138.6h0M127.9 114.6h0M127.9 116.1h0M129.3 149.8h0M127.6 145.3h0M150.6 138.6h0M130.3 120.3h0M129.2 120.2h0M152.7 86.9h0M127.6 119.9h0M138.9 108.0h0M133.7 153.6h0M135.7 128.5h0M132.2 116.7h0M128.8 144.0h0M134.7 102.8h0M162.2 72.0h0M129.5 141.4h0M132.8 138.0h0M127.9 144.7h0M147.3 138.5h0M143.1 93.5h0M132.7 103.4h0M155.3 155.2h0M133.9 98.4h0M130.0 144.2h0M128.5 111.3h0M133.5 129.0h0M134.1 103.5h0M132.7 132.4h0M131.7 145.1h0M153.4 111.2h0M132.4 154.0h0M134.9 154.8h0M132.0 150.4h0M131.0 150.2h0M129.2 140.7h0M128.2 149.4h0M136.8 153.6h0M141.3 138.0h0M129.0 119.2h0M130.8 143.8h0M127.3 152.0h0M148.0 129.0h0M131.5 130.4h0M128.0 152.7h0M142.1 120.4h0M130.1 111.0h0M129.8 140.0h0M138.8 102.5h0M129.7 101.4h0M129.0 148.7h0M132.7 131.6h0M133.1 137.5h0M138.6 147.8h0M131.5 124.3h0M143.9 146.8h0M130.5 138.4h0M129.6 136.3h0M148.4 147.3h0M140.6 96.7h0M132.3 144.2h0M128.2 134.8h0M141.2 139.9h0M129.5 114.5h0M128.5 133.8h0M138.2 132.4h0M129.9 130.8h0M130.3 125.7h0M139.2 107.0h0M138.4 152.9h0M129.6 126.3h0M134.8 103.0h0M131.6 154.6h0M127.8 154.9h0M133.0 145.4h0M127.5 110.3h0M127.8 145.5h0M138.4 118.4h0M129.1 103.9h0M131.7 112.7h0M131.4 126.5h0M150.7 154.4h0M133.5 129.1h0M152.9 116.3h0M129.5 152.9h0M133.3 151.9h0M130.5 102.4h0M128.8 151.0h0M135.6 134.0h0M145.2 142.3h0M137.9 138.9h0M165.9 62.6h0M128.9 144.1h0M132.1 137.7h0M134.0 121.3h0M128.5 128.4h0M140.3 138.3h0M129.6 149.2h0M134.3 153.2h0M129.0 147.3h0M136.0 115.4h0M133.1 152.4h0M130.5 154.6h0M169.8 123.0h0M140.9 147.7h0M129.7 152.8h0M130.9 124.0h0M133.3 145.4h0M128.3 148.6h0M138.3 151.1h0M163.1 78.3h0M128.6 155.3h0M140.3 154.8h0M135.6 134.1h0M131.2 131.1h0M127.4 122.3h0M141.0 154.9h0M129.7 113.3h0M128.9 152.8h0M139.5 87.2h0M160.5 148.1h0M128.3 155.2h0M128.2 146.3h0M151.4 100.5h0M128.7 142.9h0M133.2 152.1h0M127.7 151.5h0M129.9 155.0h0M154.8 68.5h0M132.0 139.8h0M133.3 110.0h0M131.2 104.9h0M150.8 144.4h0M133.7 98.5h0M130.0 100.2h0M132.5 124.0h0M128.0 143.3h0M135.3 150.3h0M153.7 135.0h0M133.5 114.5h0M130.1 123.5h0M137.1 111.4h0M130.1 145.3h0M133.8 138.4h0M132.0 131.6h0M137.9 152.3h0M129.0 153.3h0M132.7 150.5h0M147.2 148.9h0M131.7 117.1h0M129.7 154.3h0M129.2 124.0h0M130.5 103.6h0M128.5 147.3h0M132.4 145.0h0M129.9 153.8h0M132.5 117.9h0M130.7 99.9h0M134.5 143.0h0M130.7 147.9h0M128.0 139.3h0M133.0 113.6h0M127.9 155.1h0M145.1 140.2h0M136.9 102.1h0M129.7 151.8h0M138.6 145.2h0M132.5 155.3h0M133.8 138.8h0M129.0 151.4h0M146.9 88.3h0M130.0 146.4h0M130.4 145.0h0M130.9 101.8h0M127.4 145.0h0M133.2 127.8h0M130.3 121.9h0M131.4 152.5h0M145.4 149.0h0M136.4 97.6h0M128.6 120.8h0M138.5 142.8h0M145.9 152.0h0M132.7 97.6h0M132.8 106.9h0M131.1 126.6h0M132.2 121.2h0M137.2 116.4h0M137.9 149.6h0M135.2 111.6h0M137.5 151.1h0M133.2 155.2h0M153.8 110.7h0M129.4 130.9h0M130.1 133.3h0M138.8 101.9h0M157.5 106.9h0M133.0 134.4h0M128.5 155.0h0M143.7 83.3h0M140.5 150.4h0M134.6 150.7h0M130.2 116.7h0M147.3 155.2h0M138.6 116.0h0M136.2 152.2h0M130.5 120.0h0M129.0 152.1h0M132.1 151.8h0M129.5 152.4h0M129.0 153.9h0M131.2 145.1h0M128.4 151.9h0M131.1 154.4h0M129.9 154.9h0M137.3 153.0h0M132.0 152.8h0M135.9 93.9h0M136.4 154.0h0M128.9 152.2h0M143.5 153.9h0M138.0 111.1h0M140.7 137.2h0M131.3 144.4h0M135.2 135.5h0M136.4 138.0h0M141.1 123.8h0M129.6 141.4h0M129.2 107.6h0M127.6 143.1h0M131.5 129.3h0M128.1 127.2h0M128.3 148.4h0M130.1 154.4h0M177.9 153.9h0M144.7 113.4h0M147.2 120.7h0M133.2 138.7h0M133.2 145.0h0M128.7 132.3h0M139.1 89.2h0M145.1 120.8h0M129.0 133.8h0M128.6 113.0h0M137.8 141.3h0M130.2 108.8h0M131.5 154.3h0M135.5 139.3h0M128.2 113.7h0M129.0 151.4h0M132.9 148.8h0M130.3 139.6h0M147.2 120.9h0M131.5 112.2h0M146.9 86.1h0M127.4 118.3h0M138.5 116.0h0M137.0 121.6h0M129.0 106.7h0M139.1 148.3h0M133.0 151.1h0M129.3 129.4h0M128.4 155.2h0M134.5 126.7h0M145.1 155.0h0M130.0 153.4h0M145.7 100.2h0M128.5 139.1h0M136.0 125.4h0M132.2 133.3h0M129.0 154.6h0M128.5 137.1h0M128.4 111.2h0M129.8 155.2h0M135.0 122.6h0M137.5 137.1h0M145.8 113.6h0M147.6 99.5h0M129.6 140.9h0M129.0 129.2h0M130.9 138.7h0M130.7 151.7h0M133.9 118.5h0M130.5 153.1h0M134.4 126.2h0M133.2 110.6h0M148.5 102.3h0M134.1 99.6h0M133.5 134.1h0M129.0 146.4h0M130.6 148.5h0M129.7 151.6h0M128.1 134.5h0M131.5 114.4h0M136.9 97.0h0M145.3 153.0h0M135.3 99.3h0M127.9 153.0h0M127.4 152.0h0M149.3 87.9h0M128.4 155.3h0M128.1 113.1h0M130.2 132.5h0M130.6 141.1h0M134.8 98.5h0M127.8 142.1h0M136.6 110.9h0M134.6 147.1h0M127.5 150.3h0M133.4 104.5h0M133.9 128.4h0M130.9 119.2h0M153.6 128.3h0M135.0 132.5h0M129.4 108.2h0M127.8 142.1h0M146.6 122.9h0M131.0 150.6h0M130.7 119.5h0M135.8 125.4h0M149.7 138.4h0M129.8 129.3h0M147.2 109.5h0M141.9 101.6h0M127.4 129.8h0M129.4 125.5h0M138.9 107.0h0M128.8 144.1h0M128.5 115.5h0M136.4 129.7h0M133.2 118.3h0M131.8 151.5h0M150.3 99.3h0M132.4 131.7h0M129.0 149.9h0M127.7 128.0h0M139.8 147.1h0M128.9 141.1h0M129.8 119.7h0M129.4 148.9h0M131.1 110.2h0M136.6 153.2h0M128.4 154.8h0M135.5 123.0h0M128.6 148.1h0M160.3 40.9h0M134.9 52.6h0M160.3 55.8h0M129.5 59.0h0M167.6 68.5h0M134.9 63.1h0M149.5 61.2h0M167.6 62.2h0M154.0 66.3h0M113.6 69.5h0M136.8 70.8h0M164.4 74.8h0M165.4 148.0h0" stroke="#e5372a" stroke-width="2.8" stroke-linecap="round" fill="none"/>
<line x1="92.55" y1="30.40" x2="92.55" y2="176.20" stroke="#f2a93b" stroke-width="0.8" stroke-dasharray="2.6,2"/>
<line x1="126.45" y1="30.40" x2="126.45" y2="176.20" stroke="#f2a93b" stroke-width="0.8" stroke-dasharray="2.6,2"/>
<line x1="24.80" y1="156.07" x2="182.80" y2="156.07" stroke="#f2a93b" stroke-width="0.8" stroke-dasharray="2.6,2"/>
<text x="41.60" y="53.90" font-family='"Liberation Sans", sans-serif' font-size="5.3" font-weight="normal" fill="#2ea8df" text-anchor="start" textLength="20.4" lengthAdjust="spacingAndGlyphs">CLEC4M</text>
<text x="53.40" y="59.30" font-family='"Liberation Sans", sans-serif' font-size="5.3" font-weight="normal" fill="#2ea8df" text-anchor="start" textLength="15.899999999999999" lengthAdjust="spacingAndGlyphs">KCNN2</text>
<text x="82.00" y="58.00" font-family='"Liberation Sans", sans-serif' font-size="5.3" font-weight="normal" fill="#2ea8df" text-anchor="start" textLength="20" lengthAdjust="spacingAndGlyphs">ADRA1A</text>
<text x="74.70" y="66.60" font-family='"Liberation Sans", sans-serif' font-size="5.3" font-weight="normal" fill="#2ea8df" text-anchor="start" textLength="15.799999999999997" lengthAdjust="spacingAndGlyphs">PVALB</text>
<text x="62.00" y="70.80" font-family='"Liberation Sans", sans-serif' font-size="5.3" font-weight="normal" fill="#2ea8df" text-anchor="start" textLength="10.400000000000006" lengthAdjust="spacingAndGlyphs">LGI1</text>
<text x="32.00" y="72.90" font-family='"Liberation Sans", sans-serif' font-size="5.3" font-weight="normal" fill="#2ea8df" text-anchor="start" textLength="12.799999999999997" lengthAdjust="spacingAndGlyphs">MT1F</text>
<text x="48.00" y="76.20" font-family='"Liberation Sans", sans-serif' font-size="5.3" font-weight="normal" fill="#2ea8df" text-anchor="start" textLength="34" lengthAdjust="spacingAndGlyphs">LOC100133669</text>
<text x="85.00" y="76.20" font-family='"Liberation Sans", sans-serif' font-size="5.3" font-weight="normal" fill="#2ea8df" text-anchor="start" textLength="16" lengthAdjust="spacingAndGlyphs">FANCC</text>
<text x="37.50" y="79.30" font-family='"Liberation Sans", sans-serif' font-size="5.3" font-weight="normal" fill="#2ea8df" text-anchor="start" textLength="10.5" lengthAdjust="spacingAndGlyphs">FCN3</text>
<text x="25.70" y="81.60" font-family='"Liberation Sans", sans-serif' font-size="5.3" font-weight="normal" fill="#2ea8df" text-anchor="start" textLength="19.099999999999998" lengthAdjust="spacingAndGlyphs">CLEC1B</text>
<text x="77.80" y="81.60" font-family='"Liberation Sans", sans-serif' font-size="5.3" font-weight="normal" fill="#2ea8df" text-anchor="start" textLength="12.700000000000003" lengthAdjust="spacingAndGlyphs">NXF3</text>
<text x="92.50" y="81.60" font-family='"Liberation Sans", sans-serif' font-size="5.3" font-weight="normal" fill="#2ea8df" text-anchor="start" textLength="20.299999999999997" lengthAdjust="spacingAndGlyphs">UNC13D</text>
<text x="51.00" y="85.70" font-family='"Liberation Sans", sans-serif' font-size="5.3" font-weight="normal" fill="#2ea8df" text-anchor="start" textLength="10.299999999999997" lengthAdjust="spacingAndGlyphs">DBH</text>
<text x="80.40" y="88.90" font-family='"Liberation Sans", sans-serif' font-size="5.3" font-weight="normal" fill="#2ea8df" text-anchor="start" textLength="26.0" lengthAdjust="spacingAndGlyphs">D21S2088E</text>
<text x="34.30" y="91.10" font-family='"Liberation Sans", sans-serif' font-size="5.3" font-weight="normal" fill="#2ea8df" text-anchor="start" textLength="19.1" lengthAdjust="spacingAndGlyphs">CLEC4G</text>
<text x="61.30" y="91.10" font-family='"Liberation Sans", sans-serif' font-size="5.3" font-weight="normal" fill="#2ea8df" text-anchor="start" textLength="16.5" lengthAdjust="spacingAndGlyphs">PTH1R</text>
<text x="25.70" y="96.20" font-family='"Liberation Sans", sans-serif' font-size="5.3" font-weight="normal" fill="#2ea8df" text-anchor="start" textLength="16.500000000000004" lengthAdjust="spacingAndGlyphs">CYP26A1</text>
<text x="42.90" y="96.20" font-family='"Liberation Sans", sans-serif' font-size="5.3" font-weight="normal" fill="#2ea8df" text-anchor="start" textLength="12.100000000000001" lengthAdjust="spacingAndGlyphs">ECM1</text>
<text x="25.70" y="103.20" font-family='"Liberation Sans", sans-serif' font-size="5.3" font-weight="normal" fill="#2ea8df" text-anchor="start" textLength="15.900000000000002" lengthAdjust="spacingAndGlyphs">STAB2</text>
<text x="43.80" y="106.30" font-family='"Liberation Sans", sans-serif' font-size="5.3" font-weight="normal" fill="#2ea8df" text-anchor="start" textLength="16.900000000000006" lengthAdjust="spacingAndGlyphs">IGFALS</text>
<text x="39.00" y="117.50" font-family='"Liberation Sans", sans-serif' font-size="5.3" font-weight="normal" fill="#2ea8df" text-anchor="start" textLength="12" lengthAdjust="spacingAndGlyphs">MT1G</text>
<text x="28.90" y="123.90" font-family='"Liberation Sans", sans-serif' font-size="5.3" font-weight="normal" fill="#2ea8df" text-anchor="start" textLength="19.1" lengthAdjust="spacingAndGlyphs">CXCL14</text>
<text x="157.30" y="39.00" font-family='"Liberation Sans", sans-serif' font-size="5.3" font-weight="normal" fill="#e5372a" text-anchor="start" textLength="16.799999999999983" lengthAdjust="spacingAndGlyphs">CCNB2</text>
<text x="131.90" y="50.70" font-family='"Liberation Sans", sans-serif' font-size="5.3" font-weight="normal" fill="#e5372a" text-anchor="start" textLength="23.099999999999994" lengthAdjust="spacingAndGlyphs">RACGAP1</text>
<text x="157.30" y="53.90" font-family='"Liberation Sans", sans-serif' font-size="5.3" font-weight="normal" fill="#e5372a" text-anchor="start" textLength="17.69999999999999" lengthAdjust="spacingAndGlyphs">UBE2T</text>
<text x="126.50" y="57.10" font-family='"Liberation Sans", sans-serif' font-size="5.3" font-weight="normal" fill="#e5372a" text-anchor="start" textLength="14.199999999999989" lengthAdjust="spacingAndGlyphs">CKAP2</text>
<text x="164.60" y="66.60" font-family='"Liberation Sans", sans-serif' font-size="5.3" font-weight="normal" fill="#e5372a" text-anchor="start" textLength="17.400000000000006" lengthAdjust="spacingAndGlyphs">CDKN3</text>
<text x="131.90" y="61.20" font-family='"Liberation Sans", sans-serif' font-size="5.3" font-weight="normal" fill="#e5372a" text-anchor="start" textLength="12.699999999999989" lengthAdjust="spacingAndGlyphs">CD34</text>
<text x="146.50" y="59.30" font-family='"Liberation Sans", sans-serif' font-size="5.3" font-weight="normal" fill="#e5372a" text-anchor="start" textLength="17.099999999999994" lengthAdjust="spacingAndGlyphs">CDHT3</text>
<text x="164.60" y="60.30" font-family='"Liberation Sans", sans-serif' font-size="5.3" font-weight="normal" fill="#e5372a" text-anchor="start" textLength="17.400000000000006" lengthAdjust="spacingAndGlyphs">HJURP</text>
<text x="151.00" y="64.40" font-family='"Liberation Sans", sans-serif' font-size="5.3" font-weight="normal" fill="#e5372a" text-anchor="start" textLength="15.800000000000011" lengthAdjust="spacingAndGlyphs">NUSAP1</text>
<text x="110.60" y="67.60" font-family='"Liberation Sans", sans-serif' font-size="5.3" font-weight="normal" fill="#e5372a" text-anchor="start" textLength="20.599999999999994" lengthAdjust="spacingAndGlyphs">C12orf82</text>
<text x="133.80" y="68.90" font-family='"Liberation Sans", sans-serif' font-size="5.3" font-weight="normal" fill="#e5372a" text-anchor="start" textLength="17.19999999999999" lengthAdjust="spacingAndGlyphs">NDC80</text>
<text x="161.40" y="72.90" font-family='"Liberation Sans", sans-serif' font-size="5.3" font-weight="normal" fill="#e5372a" text-anchor="start" textLength="12.699999999999989" lengthAdjust="spacingAndGlyphs">CDK1</text>
<rect x="130.60" y="138.70" width="16.50" height="5.60" fill="#8e7fd0"/>
<text x="138.85" y="143.50" font-family='"Liberation Sans", sans-serif' font-size="4.4" font-weight="normal" fill="#e8e4ff" text-anchor="middle" textLength="14.5" lengthAdjust="spacingAndGlyphs">TRIM6</text>
<text x="162.40" y="146.10" font-family='"Liberation Sans", sans-serif' font-size="5.3" font-weight="normal" fill="#e5372a" text-anchor="start" textLength="8.599999999999994" lengthAdjust="spacingAndGlyphs">TSX</text>
<rect x="24.80" y="30.40" width="158.00" height="145.80" fill="none" stroke="#333" stroke-width="0.9"/>
<line x1="22.80" y1="170.80" x2="24.80" y2="170.80" stroke="#333" stroke-width="0.6"/>
<text x="22.30" y="173.90" font-family='"Liberation Sans", sans-serif' font-size="8.6" font-weight="normal" fill="#222" text-anchor="end">0</text>
<line x1="22.80" y1="136.81" x2="24.80" y2="136.81" stroke="#333" stroke-width="0.6"/>
<text x="22.30" y="139.91" font-family='"Liberation Sans", sans-serif' font-size="8.6" font-weight="normal" fill="#222" text-anchor="end">3</text>
<line x1="22.80" y1="102.82" x2="24.80" y2="102.82" stroke="#333" stroke-width="0.6"/>
<text x="22.30" y="105.92" font-family='"Liberation Sans", sans-serif' font-size="8.6" font-weight="normal" fill="#222" text-anchor="end">6</text>
<line x1="22.80" y1="68.83" x2="24.80" y2="68.83" stroke="#333" stroke-width="0.6"/>
<text x="22.30" y="71.93" font-family='"Liberation Sans", sans-serif' font-size="8.6" font-weight="normal" fill="#222" text-anchor="end">9</text>
<line x1="22.80" y1="34.84" x2="24.80" y2="34.84" stroke="#333" stroke-width="0.6"/>
<text x="22.30" y="37.94" font-family='"Liberation Sans", sans-serif' font-size="8.6" font-weight="normal" fill="#222" text-anchor="end">12</text>
<line x1="64.30" y1="176.20" x2="64.30" y2="178.20" stroke="#333" stroke-width="0.6"/>
<text x="64.30" y="184.60" font-family='"Liberation Sans", sans-serif' font-size="7.2" font-weight="normal" fill="#222" text-anchor="middle">-4</text>
<line x1="109.50" y1="176.20" x2="109.50" y2="178.20" stroke="#333" stroke-width="0.6"/>
<text x="109.50" y="184.60" font-family='"Liberation Sans", sans-serif' font-size="7.2" font-weight="normal" fill="#222" text-anchor="middle">0</text>
<line x1="154.70" y1="176.20" x2="154.70" y2="178.20" stroke="#333" stroke-width="0.6"/>
<text x="154.70" y="184.60" font-family='"Liberation Sans", sans-serif' font-size="7.2" font-weight="normal" fill="#222" text-anchor="middle">4</text>
<text x="26.30" y="174.00" font-family='"Liberation Serif", serif' font-size="10" font-weight="normal" fill="#111" text-anchor="start">Log<tspan font-size="5" dy="1.8">2</tspan><tspan dy="-1.8">FC &lt; -1.5</tspan></text>
<text x="181.60" y="174.00" font-family='"Liberation Serif", serif' font-size="10" font-weight="normal" fill="#111" text-anchor="end">Log<tspan font-size="5" dy="1.8">2</tspan><tspan dy="-1.8">FC &gt; 1.5</tspan></text>
<text transform="translate(12.4,91.5) rotate(-90)" font-family='"Liberation Sans", sans-serif' font-size="8.4" fill="#333" text-anchor="middle" textLength="77" lengthAdjust="spacingAndGlyphs">– Log<tspan font-size="5" dy="1.5">10</tspan><tspan dy="-1.5">(adj.</tspan><tspan font-style="italic">p</tspan>.value)</text>
<text x="103.40" y="193.30" font-family='"Liberation Sans", sans-serif' font-size="7.75" font-weight="normal" fill="#333" text-anchor="middle" textLength="65" lengthAdjust="spacingAndGlyphs">Log<tspan font-size="4.8" dy="1.5">2</tspan><tspan dy="-1.5">(Fold Change)</tspan></text>
<circle cx="190" cy="99.5" r="1.5" fill="#e5372a"/>
<text x="193.50" y="101.00" font-family='"Liberation Sans", sans-serif' font-size="4.2" font-weight="normal" fill="#222" text-anchor="start">Up</text>
<circle cx="190" cy="103.6" r="1.5" fill="#2ea8df"/>
<text x="193.50" y="105.10" font-family='"Liberation Sans", sans-serif' font-size="4.2" font-weight="normal" fill="#222" text-anchor="start">Down</text>
<circle cx="190" cy="107.7" r="1.5" fill="#cfcfcf"/>
<text x="193.50" y="109.20" font-family='"Liberation Sans", sans-serif' font-size="4.2" font-weight="normal" fill="#222" text-anchor="start">NotSig</text>
<text x="0.30" y="199.30" font-family='"Liberation Sans", sans-serif' font-size="13" font-weight="bold" fill="#000" text-anchor="start">B</text>
<line x1="24.00" y1="204.00" x2="183.00" y2="204.00" stroke="#222" stroke-width="1.2"/>
<line x1="24.00" y1="237.50" x2="183.00" y2="237.50" stroke="#222" stroke-width="1.2"/>
<text x="42.60" y="219.60" font-family='"Liberation Serif", serif' font-size="10" font-weight="normal" fill="#111" text-anchor="middle">Up</text>
<text x="42.60" y="232.40" font-family='"Liberation Serif", serif' font-size="10" font-weight="normal" fill="#111" text-anchor="middle">667</text>
<text x="88.00" y="219.60" font-family='"Liberation Serif", serif' font-size="10" font-weight="normal" fill="#111" text-anchor="middle">Down</text>
<text x="88.00" y="232.40" font-family='"Liberation Serif", serif' font-size="10" font-weight="normal" fill="#111" text-anchor="middle">587</text>
<text x="146.20" y="219.60" font-family='"Liberation Serif", serif' font-size="10" font-weight="normal" fill="#111" text-anchor="middle">Insignificance</text>
<text x="146.20" y="232.40" font-family='"Liberation Serif", serif' font-size="10" font-weight="normal" fill="#111" text-anchor="middle">20816</text>
<text x="0.30" y="261.60" font-family='"Liberation Sans", sans-serif' font-size="13" font-weight="bold" fill="#000" text-anchor="start">C</text>
<text x="42.80" y="271.00" font-family='"Liberation Serif", serif' font-size="11.8" font-weight="bold" fill="#000" text-anchor="start" textLength="119" lengthAdjust="spacingAndGlyphs">Liver cancer <tspan font-style="italic">vs</tspan> Normal</text>
<rect x="24.20" y="280.20" width="158.80" height="146.30" fill="#fff"/>
<line x1="22.98" y1="280.20" x2="22.98" y2="426.50" stroke="#ededed" stroke-width="0.5"/>
<line x1="64.59" y1="280.20" x2="64.59" y2="426.50" stroke="#ededed" stroke-width="0.5"/>
<line x1="106.20" y1="280.20" x2="106.20" y2="426.50" stroke="#ededed" stroke-width="0.5"/>
<line x1="147.81" y1="280.20" x2="147.81" y2="426.50" stroke="#ededed" stroke-width="0.5"/>
<line x1="189.42" y1="280.20" x2="189.42" y2="426.50" stroke="#ededed" stroke-width="0.5"/>
<line x1="24.20" y1="420.40" x2="183.00" y2="420.40" stroke="#ededed" stroke-width="0.5"/>
<line x1="24.20" y1="390.80" x2="183.00" y2="390.80" stroke="#ededed" stroke-width="0.5"/>
<line x1="24.20" y1="361.20" x2="183.00" y2="361.20" stroke="#ededed" stroke-width="0.5"/>
<line x1="24.20" y1="331.60" x2="183.00" y2="331.60" stroke="#ededed" stroke-width="0.5"/>
<line x1="24.20" y1="302.00" x2="183.00" y2="302.00" stroke="#ededed" stroke-width="0.5"/>
<path d="M108.3 409.5h0M103.4 406.6h0M100.7 400.9h0M98.2 393.2h0M91.7 389.0h0M100.7 398.5h0M122.4 390.2h0M103.5 415.2h0M94.6 391.2h0M107.1 415.1h0M106.6 416.4h0M113.6 400.0h0M107.1 415.3h0M99.0 411.3h0M111.0 409.5h0M115.3 390.5h0M116.7 410.2h0M114.4 393.3h0M123.6 395.0h0M119.4 397.4h0M118.9 410.3h0M115.2 395.5h0M97.5 396.3h0M104.4 410.6h0M128.7 416.9h0M116.0 391.8h0M115.2 409.5h0M101.5 406.8h0M120.7 407.0h0M97.9 395.2h0M110.6 404.5h0M94.7 387.4h0M88.8 386.3h0M115.2 393.4h0M109.8 412.8h0M101.1 403.8h0M100.8 420.0h0M113.8 402.1h0M117.6 404.2h0M106.0 418.8h0M104.1 415.2h0M104.7 412.8h0M94.9 407.9h0M119.1 411.0h0M122.0 386.2h0M96.5 395.7h0M108.4 411.6h0M112.1 400.9h0M93.5 409.8h0M109.2 404.9h0M106.9 414.3h0M117.2 387.0h0M98.0 394.0h0M115.2 399.2h0M111.9 407.0h0M111.5 419.2h0M127.9 417.1h0M115.3 392.5h0M102.8 404.0h0M115.9 413.1h0M96.6 393.1h0M110.5 404.2h0M135.1 417.8h0M105.1 412.3h0M100.0 403.1h0M101.8 410.2h0M123.0 406.2h0M95.4 393.1h0M94.4 406.7h0M91.2 388.9h0M115.3 402.0h0M113.6 404.2h0M95.0 408.8h0M113.5 401.0h0M121.6 412.4h0M114.0 400.9h0M125.6 373.6h0M106.6 416.1h0M94.3 389.1h0M109.6 415.7h0M98.4 408.8h0M116.2 398.4h0M102.6 406.9h0M111.1 406.5h0M115.9 405.3h0M115.9 396.3h0M98.8 399.4h0M122.2 418.2h0M96.6 402.0h0M122.2 382.6h0M122.6 382.6h0M86.9 389.0h0M101.5 409.3h0M106.8 417.4h0M112.0 401.9h0M87.6 379.3h0M91.8 396.3h0M112.9 417.4h0M83.7 418.2h0M102.9 404.7h0M99.8 410.5h0M111.8 405.5h0M104.2 413.6h0M111.2 399.6h0M108.4 414.1h0M94.8 395.7h0M98.5 405.7h0M119.6 390.0h0M107.2 416.7h0M97.3 397.6h0M85.7 375.4h0M96.1 398.2h0M86.7 383.7h0M107.0 418.0h0M102.2 405.0h0M109.9 404.6h0M103.8 411.5h0M103.4 418.4h0M98.6 408.1h0M89.3 382.8h0M112.1 397.6h0M108.1 414.8h0M90.8 383.6h0M85.4 418.3h0M96.1 407.5h0M111.1 401.7h0M87.5 387.7h0M103.8 413.7h0M105.9 417.1h0M111.8 404.3h0M83.5 418.7h0M126.2 391.1h0M107.7 415.1h0M115.0 398.9h0M95.3 389.1h0M112.2 406.2h0M95.8 388.1h0M97.9 398.1h0M115.7 406.6h0M101.8 411.3h0M108.5 413.2h0M101.2 400.8h0M122.2 393.5h0M112.8 408.4h0M126.9 397.2h0M98.9 410.6h0M102.1 402.0h0M104.7 414.5h0M104.7 413.1h0M109.6 407.6h0M118.2 394.4h0M118.5 387.1h0M125.9 388.2h0M95.3 400.3h0M98.8 402.2h0M97.6 405.7h0M109.3 407.7h0M110.4 402.1h0M114.9 406.9h0M105.2 418.0h0M122.5 394.9h0M118.8 397.8h0M112.0 410.2h0M122.4 378.0h0M131.3 418.5h0M109.9 408.5h0M98.0 392.9h0M106.1 419.3h0M84.6 417.6h0M100.0 398.1h0M113.1 408.5h0M112.6 402.7h0M104.5 415.2h0M129.8 418.6h0M98.2 396.5h0M111.7 404.6h0M109.1 406.2h0M96.3 390.9h0M84.8 416.8h0M121.1 400.9h0M84.9 419.2h0M99.1 395.9h0M99.4 404.7h0M125.6 373.5h0M114.0 417.3h0M98.6 398.8h0M97.7 392.3h0M102.4 408.7h0M98.4 396.5h0M104.8 413.0h0M122.2 397.8h0M127.1 419.6h0M104.2 409.4h0M94.8 397.5h0M89.5 379.2h0M100.3 410.8h0M115.9 407.9h0M114.4 394.7h0M100.6 413.7h0M115.0 404.7h0M100.5 409.8h0M112.8 407.0h0M105.3 414.9h0M100.6 402.0h0M126.5 377.2h0M109.0 412.9h0M110.2 402.8h0M107.7 418.2h0M94.7 391.8h0M97.0 399.7h0M94.4 389.2h0M110.0 414.7h0M104.7 413.7h0M119.1 390.9h0M83.5 419.3h0M124.4 375.9h0M126.4 404.6h0M108.3 413.5h0M84.5 419.6h0M117.3 395.8h0M109.5 406.4h0M93.8 383.5h0M108.9 411.9h0M98.2 399.4h0M106.3 418.9h0M75.0 417.2h0M92.7 384.2h0M95.1 389.5h0M110.0 408.9h0M113.2 394.7h0M98.2 405.0h0M124.9 380.7h0M129.4 417.9h0M82.1 417.9h0M116.8 404.9h0M125.1 403.5h0M114.9 400.2h0M95.9 405.9h0M121.2 382.0h0M98.4 402.9h0M93.0 408.8h0M107.8 418.9h0M97.5 393.1h0M100.4 399.9h0M99.1 407.4h0M93.5 391.9h0M101.9 407.1h0M98.8 413.3h0M100.7 409.8h0M95.7 392.3h0M108.5 419.3h0M98.8 399.7h0M110.7 402.3h0M104.8 412.6h0M105.7 417.0h0M104.5 418.1h0M137.4 417.5h0M95.5 394.4h0M107.1 412.8h0M100.4 405.8h0M104.7 417.4h0M106.9 413.9h0M110.6 403.5h0M118.6 388.9h0M90.3 381.3h0M112.3 409.5h0M95.3 392.0h0M115.8 396.5h0M114.3 403.3h0M107.8 410.2h0M99.6 401.4h0M100.3 407.5h0M122.9 379.0h0M102.7 409.6h0M119.5 404.0h0M120.5 383.2h0M108.7 409.8h0M84.2 417.7h0M115.0 410.0h0M107.8 417.7h0M102.3 407.4h0M105.4 417.6h0M113.7 393.2h0M124.7 383.2h0M101.0 406.1h0M101.6 401.2h0M115.9 404.7h0M110.9 410.6h0M116.8 400.9h0M120.8 380.0h0M98.6 403.8h0M121.9 383.1h0M135.8 419.1h0M117.9 389.7h0M105.3 414.7h0M108.1 416.2h0M107.8 418.0h0M98.6 400.3h0M92.5 387.4h0M98.1 414.0h0M122.9 382.3h0M94.9 417.7h0M104.3 409.2h0M113.5 406.5h0M100.1 399.9h0M110.8 413.3h0M88.1 392.5h0M110.2 411.5h0M99.0 397.7h0M105.6 415.2h0M106.5 417.8h0M109.8 418.6h0M122.2 387.3h0M83.9 418.1h0M97.3 398.1h0M100.6 402.5h0M111.6 411.8h0M98.6 402.1h0M115.3 398.5h0M109.1 406.1h0M78.4 417.2h0M89.0 375.8h0M113.5 409.0h0M99.5 399.1h0M105.4 414.1h0M94.9 392.3h0M106.5 416.9h0M105.6 414.7h0M108.4 413.8h0M127.3 417.0h0M116.7 410.1h0M88.1 400.0h0M98.4 403.1h0M103.8 406.8h0M111.8 411.0h0M102.7 405.2h0M104.9 410.9h0M105.6 417.8h0M126.0 375.9h0M118.0 409.1h0M82.7 416.6h0M93.9 385.4h0M120.1 395.5h0M84.1 417.5h0M118.8 391.6h0M90.0 380.7h0M107.4 411.8h0M81.1 416.9h0M110.2 407.3h0M115.5 418.5h0M101.5 400.1h0M128.2 418.2h0M100.8 404.0h0M105.6 414.8h0M100.4 399.2h0M121.3 392.4h0M90.2 402.3h0M113.5 404.8h0M106.7 417.8h0M110.2 403.3h0M106.1 419.7h0M94.9 395.4h0M102.7 404.3h0M121.4 395.3h0M96.5 391.0h0M124.6 381.5h0M93.3 410.8h0M128.0 416.6h0M105.5 417.7h0M102.3 404.0h0M110.8 404.3h0M104.2 408.9h0M93.5 385.3h0M84.1 419.4h0M126.4 395.9h0M118.1 386.6h0M116.8 391.1h0M103.2 413.2h0M100.5 402.1h0M105.8 418.6h0M104.0 407.5h0M107.3 413.6h0M102.0 403.4h0M112.9 402.5h0M103.2 410.9h0M104.9 413.9h0M110.2 416.2h0M99.9 402.3h0M106.8 418.4h0M109.2 409.4h0M98.4 396.9h0M110.0 416.3h0M102.7 411.8h0M118.7 384.0h0M99.7 396.0h0M116.6 396.5h0M107.5 410.9h0M118.8 386.5h0M104.6 410.0h0M110.2 410.1h0M116.3 391.9h0M111.8 406.4h0M114.8 396.2h0M81.5 416.9h0M102.2 405.1h0M103.7 413.3h0M114.7 400.3h0M84.1 417.5h0M120.0 388.4h0M110.6 401.5h0M112.9 398.3h0M109.3 407.8h0M78.1 419.9h0M115.4 391.7h0M112.5 400.5h0M111.6 415.3h0M107.1 413.5h0M96.7 396.1h0M105.5 414.0h0M125.8 377.2h0M116.2 412.0h0M112.9 403.4h0M103.5 406.5h0M119.5 387.1h0M107.2 414.7h0M102.6 409.0h0M102.7 418.9h0M83.3 417.0h0M104.8 412.6h0M108.7 410.1h0M125.6 387.4h0M101.3 401.8h0M116.5 401.8h0M97.7 396.6h0M116.6 394.4h0M92.1 404.3h0M104.2 410.0h0M91.3 392.5h0M114.5 398.2h0M108.2 415.5h0M101.0 412.1h0M116.3 403.1h0M82.9 417.4h0M113.8 411.6h0M90.5 420.3h0M119.0 388.8h0M104.5 419.1h0M97.9 404.3h0M98.5 412.7h0M120.7 403.9h0M105.6 416.0h0M103.1 410.6h0M100.4 406.7h0M116.0 391.9h0M118.6 389.9h0M98.9 395.7h0M115.9 415.2h0M114.1 396.0h0M110.9 407.0h0M102.5 406.3h0M102.6 409.1h0M105.5 416.4h0M87.4 407.2h0M92.1 391.1h0M95.5 405.6h0M108.8 410.7h0M118.4 400.5h0M117.4 387.9h0M106.5 418.6h0M113.8 396.9h0M118.2 394.4h0M87.4 382.5h0M97.7 410.5h0M117.0 388.7h0M94.9 409.2h0M112.0 403.7h0M116.8 411.2h0M136.2 418.7h0M112.8 402.6h0M109.7 415.9h0M96.2 392.0h0M95.0 400.1h0M99.6 399.4h0M98.6 393.1h0M113.5 396.4h0M121.3 399.7h0M118.8 393.7h0M110.3 405.6h0M106.9 414.6h0M96.2 393.1h0M106.5 418.0h0M114.3 394.0h0M115.9 397.3h0M96.5 398.1h0M106.2 419.5h0M103.8 410.6h0M86.1 404.2h0M97.8 399.5h0M114.1 398.2h0M103.7 413.0h0M108.0 416.1h0M90.5 404.5h0M99.3 397.3h0M116.1 389.2h0M101.6 406.7h0M104.6 410.0h0M116.8 403.1h0M111.8 401.9h0M107.0 417.3h0M109.5 408.4h0M87.4 398.5h0M116.3 394.1h0M108.5 411.1h0M105.1 416.4h0M99.7 398.7h0M111.8 408.7h0M113.7 405.6h0M105.4 414.7h0M111.1 408.2h0M111.0 403.4h0M112.6 407.1h0M92.8 391.5h0M116.8 409.1h0M105.0 418.6h0M80.3 416.7h0M114.1 396.9h0M107.4 416.2h0M116.9 398.0h0M106.6 417.2h0M103.4 413.5h0M91.8 385.1h0M92.9 397.7h0M107.7 414.8h0M105.1 417.0h0M101.0 403.5h0M94.5 411.9h0M120.9 387.5h0M117.4 387.1h0M92.5 394.8h0M112.3 397.9h0M102.6 404.7h0M118.6 397.9h0M101.6 400.4h0M108.2 411.5h0M99.6 404.3h0M107.4 415.0h0M110.3 409.1h0M115.9 394.9h0M137.5 417.0h0M121.7 416.1h0M88.9 411.3h0M111.3 399.9h0M110.3 409.6h0M105.4 413.2h0M102.3 403.9h0M123.9 417.5h0M96.4 391.3h0M107.6 417.7h0M105.0 413.4h0M104.0 411.5h0M135.5 417.1h0M91.8 386.7h0M95.6 398.5h0M116.6 391.9h0M122.3 403.8h0M103.7 410.0h0M83.0 418.8h0M101.5 407.5h0M101.0 405.1h0M92.0 389.4h0M106.8 416.3h0M111.0 405.3h0M104.8 414.5h0M95.1 386.7h0M112.6 397.5h0M102.1 409.2h0M125.0 386.1h0M112.5 396.7h0M103.3 410.7h0M107.5 412.5h0M107.9 415.1h0M122.4 385.0h0M123.6 400.0h0M107.5 414.6h0M111.3 414.4h0M105.2 412.3h0M111.7 404.0h0M92.9 394.3h0M93.6 406.6h0M90.1 394.6h0M99.7 412.1h0M106.1 418.5h0M126.5 392.5h0M104.2 413.2h0M126.7 381.9h0M104.6 417.4h0M118.8 397.9h0M119.7 388.8h0M114.8 399.1h0M120.7 407.0h0M112.0 405.7h0M112.3 402.8h0M113.0 409.1h0M103.8 410.4h0M106.4 418.2h0M107.3 414.8h0M98.5 412.9h0M95.4 397.9h0M109.9 403.9h0M108.6 407.3h0M123.6 385.1h0M101.3 405.5h0M96.6 390.8h0M104.8 413.5h0M115.2 405.2h0M100.8 402.4h0M102.6 412.1h0M93.9 409.8h0M102.2 403.1h0M101.8 407.0h0M104.7 410.7h0M97.5 405.8h0M110.2 404.3h0M106.0 418.6h0M120.2 386.4h0M100.5 403.4h0M107.1 415.7h0M97.2 395.6h0M114.7 407.3h0M109.6 413.3h0M106.1 419.3h0M108.7 411.2h0M104.5 411.6h0M78.0 417.6h0M128.7 418.4h0M88.8 378.4h0M95.2 403.1h0M111.7 400.8h0M106.1 419.0h0M115.9 416.3h0M106.4 419.3h0M105.8 415.7h0M106.6 418.4h0M103.9 411.8h0M114.2 403.7h0M107.2 412.5h0M122.5 400.4h0M111.7 402.4h0M124.7 375.3h0M107.6 418.0h0M127.9 418.9h0M102.4 407.9h0M113.2 414.1h0M106.4 418.4h0M106.2 420.2h0M110.4 412.1h0M111.8 399.4h0M108.3 412.0h0M125.2 400.7h0M117.8 403.6h0M126.6 387.2h0M111.9 402.7h0M84.5 416.9h0M104.6 410.8h0M89.4 399.8h0M102.8 404.5h0M103.7 412.3h0M105.9 416.8h0M104.7 410.2h0M111.6 405.7h0M96.8 404.5h0M101.5 408.7h0M117.9 390.3h0M100.9 403.1h0M106.9 414.4h0M130.3 419.6h0M123.2 403.1h0M111.5 399.7h0M92.9 400.2h0M107.3 414.1h0M105.4 415.3h0M108.1 409.4h0M100.0 397.9h0M95.5 413.0h0M108.6 418.3h0M116.5 410.5h0M110.1 405.6h0M94.3 405.0h0M127.3 418.8h0M92.7 403.1h0M101.1 407.0h0M113.7 397.8h0M108.7 409.5h0M82.5 417.1h0M103.5 414.3h0M102.6 411.8h0M112.9 399.5h0M111.6 401.1h0M93.0 389.7h0M110.6 404.1h0M96.7 397.7h0M110.8 405.0h0M114.3 400.2h0M115.5 393.3h0M100.0 399.8h0M133.6 417.8h0M99.4 405.4h0M106.1 419.6h0M101.9 417.6h0M106.8 414.2h0M115.6 400.6h0M106.7 415.2h0M101.2 405.6h0M113.9 398.5h0M118.3 410.4h0M94.3 386.2h0M110.6 402.6h0M103.4 405.8h0M120.1 398.5h0M84.6 417.7h0M109.9 406.5h0M85.6 373.3h0M100.4 397.6h0M97.0 400.6h0M125.6 391.0h0M121.2 383.6h0M120.8 386.6h0M93.5 399.1h0M95.1 389.4h0M105.7 417.3h0M88.4 405.0h0M113.3 397.0h0M90.4 385.3h0M100.7 409.2h0M118.0 399.0h0M96.3 409.9h0M107.0 416.5h0M109.0 414.8h0M109.8 414.8h0M106.9 417.4h0M114.1 411.2h0M111.6 411.5h0M96.8 394.6h0M101.0 409.8h0M101.0 406.0h0M98.9 406.9h0M139.4 419.1h0M127.6 420.4h0M103.4 415.6h0M103.7 413.6h0M109.4 411.0h0M116.5 402.1h0M108.1 409.1h0M95.5 392.1h0M115.0 402.9h0M98.4 399.1h0M110.7 403.8h0M106.2 419.4h0M100.8 398.0h0M104.4 413.7h0M117.3 408.5h0M100.3 403.1h0M103.5 406.5h0M115.4 391.2h0M91.8 387.5h0M98.8 402.2h0M107.9 409.3h0M91.1 383.2h0M108.5 411.2h0M104.2 415.6h0M104.7 410.8h0M110.3 407.7h0M86.7 378.0h0M98.9 395.4h0M111.2 405.7h0M107.4 413.6h0M116.5 408.2h0M105.2 416.4h0M119.2 392.4h0M119.2 401.4h0M106.6 418.2h0M95.3 411.2h0M109.8 405.6h0M85.6 371.5h0M107.3 417.2h0M105.9 417.8h0M95.9 405.0h0M105.1 416.1h0M119.0 396.0h0M104.2 409.8h0M104.0 408.7h0M86.4 393.3h0M106.6 416.2h0M119.3 400.7h0M110.9 410.5h0M103.1 410.4h0M108.8 412.3h0M111.5 418.4h0M95.0 407.2h0M97.9 395.4h0M94.3 386.6h0M113.5 401.3h0M114.0 409.5h0M112.5 397.2h0M106.5 417.6h0M110.5 409.2h0M106.7 417.9h0M103.9 412.9h0M116.6 389.1h0M114.6 392.4h0M104.8 412.4h0M105.4 417.6h0M91.1 380.1h0M102.8 407.5h0M106.1 418.5h0M110.9 408.1h0M100.9 402.2h0M119.0 391.1h0M127.3 417.6h0M107.8 410.3h0M98.3 405.7h0M92.0 396.9h0M115.0 391.7h0M102.3 411.0h0M78.6 417.7h0M113.9 400.4h0M117.3 407.9h0M106.9 415.6h0M114.7 392.0h0M105.0 411.7h0M117.0 391.8h0M126.6 400.0h0M115.7 391.1h0M118.2 400.5h0M108.2 416.0h0M90.5 384.6h0M104.5 412.9h0M112.8 415.7h0M108.3 407.7h0M104.1 407.6h0M117.7 385.3h0M96.7 413.8h0M97.5 408.4h0M115.3 395.0h0M111.2 415.4h0M95.2 400.7h0M126.7 389.4h0M80.7 420.3h0M118.0 413.1h0M93.5 394.0h0M84.1 417.9h0M131.8 416.8h0M97.3 398.4h0M111.3 414.0h0M98.2 408.5h0M111.6 399.9h0M90.4 387.2h0M98.3 407.1h0M104.9 412.9h0M113.2 405.9h0M120.3 406.0h0M121.2 379.5h0M98.4 392.6h0M120.8 400.3h0M113.4 400.9h0M99.3 403.0h0M89.9 382.3h0M101.9 408.4h0M98.4 400.5h0M84.9 418.3h0M99.3 400.2h0M107.8 414.9h0M88.4 395.8h0M124.5 393.5h0M97.9 393.8h0M93.6 407.1h0M105.7 418.4h0M113.1 404.1h0M108.7 414.2h0M85.4 417.5h0M110.8 413.1h0M117.5 403.4h0M113.1 402.1h0M90.0 379.6h0M113.3 398.7h0M112.2 411.8h0M95.1 405.9h0M110.0 410.8h0M105.2 415.7h0M120.1 390.7h0M97.8 393.0h0M121.8 387.2h0M112.5 413.3h0M95.5 388.4h0M107.6 411.8h0M110.3 414.5h0M94.5 412.3h0M105.4 415.8h0M119.2 385.6h0M117.5 397.8h0M95.9 394.8h0M102.2 401.9h0M107.5 419.3h0M121.1 381.0h0M117.2 399.6h0M110.2 406.5h0M106.2 419.7h0M113.2 396.8h0M117.4 403.2h0M104.0 413.0h0M122.8 381.0h0M121.4 404.9h0M117.2 393.9h0M99.3 399.8h0M106.1 419.5h0M98.5 399.9h0M94.1 403.1h0M93.2 403.6h0M100.9 398.5h0M95.8 387.9h0M136.3 416.9h0M98.5 395.7h0M125.0 377.0h0M112.6 410.1h0M124.6 400.9h0M121.6 411.2h0M99.8 406.8h0M114.3 408.1h0M85.6 411.0h0M111.9 404.3h0M124.9 412.5h0M98.7 399.8h0M108.4 408.2h0M112.2 397.5h0M108.2 418.8h0M106.2 419.7h0M102.5 403.3h0M110.0 408.1h0M109.6 408.9h0M105.9 419.1h0M129.5 419.7h0M102.0 409.0h0M120.9 394.6h0M103.6 409.2h0M85.1 419.8h0M110.1 406.4h0M108.5 412.9h0M104.8 413.9h0M89.1 387.5h0M94.1 409.8h0M113.0 397.3h0M104.2 416.2h0M119.2 396.5h0M116.3 390.5h0M111.1 414.4h0M108.1 412.3h0M109.5 409.2h0M111.9 399.9h0M109.0 411.4h0M95.3 403.0h0M102.4 405.0h0M96.2 409.4h0M108.5 419.4h0M120.0 383.2h0M112.6 412.6h0M96.2 400.5h0M100.3 404.8h0M114.7 409.3h0M110.3 413.2h0M107.9 415.5h0M100.8 411.9h0M109.3 408.1h0M98.0 396.2h0M102.6 407.6h0M112.1 402.6h0M127.5 419.6h0M102.8 410.9h0M106.2 419.3h0M96.0 414.5h0M114.4 401.3h0M123.1 390.2h0M88.7 375.3h0M111.5 400.2h0M105.4 417.0h0M96.2 405.1h0M98.5 408.2h0M128.5 418.5h0M104.3 409.4h0M102.8 405.0h0M96.0 390.3h0M93.0 397.5h0M127.1 419.3h0M121.5 400.8h0M93.6 393.3h0M116.6 409.5h0M122.1 377.6h0M114.9 391.9h0M100.3 404.4h0M87.3 413.3h0M91.1 416.9h0M100.9 401.4h0M119.0 403.6h0M106.9 420.0h0M106.5 418.5h0M117.1 402.8h0M102.2 412.4h0M98.5 407.6h0M109.2 409.7h0M80.0 418.5h0M120.9 411.9h0M122.6 388.7h0M112.6 401.3h0M115.2 407.5h0M103.8 411.5h0M128.7 418.0h0M99.5 398.5h0M101.9 411.5h0M117.7 393.1h0M109.2 405.8h0M92.3 401.1h0M110.5 402.3h0M89.3 387.5h0M102.5 405.3h0M116.5 402.6h0M123.2 375.9h0M103.4 410.5h0M87.1 373.4h0M104.8 417.2h0M125.3 391.3h0M88.6 393.0h0M119.4 395.2h0M116.3 400.6h0M112.6 415.5h0M126.6 372.6h0M114.1 406.0h0M115.2 412.9h0M111.2 417.5h0M108.5 413.8h0M100.7 398.9h0M119.3 393.2h0M113.6 395.6h0M97.5 405.9h0M100.3 405.9h0M111.6 404.7h0M124.7 390.6h0M104.3 414.0h0M104.4 409.1h0M90.5 379.7h0M127.3 419.8h0M116.6 401.7h0M103.4 411.1h0M113.8 407.7h0M97.4 398.6h0M107.4 411.4h0M111.1 412.0h0M107.9 415.3h0M126.0 386.7h0M101.4 399.5h0M109.3 413.6h0M107.1 413.6h0M110.3 402.4h0M96.9 400.8h0M90.3 383.1h0M95.3 394.8h0M102.7 409.3h0M111.9 397.6h0M128.9 417.4h0M105.2 419.4h0M74.3 418.2h0M109.0 408.3h0M95.1 392.5h0M97.3 399.1h0M82.6 418.6h0M119.7 389.8h0M115.0 409.5h0M103.5 418.9h0M112.4 403.4h0M111.3 417.0h0M118.0 391.7h0M98.0 392.2h0M102.8 403.8h0M117.3 387.6h0M108.6 407.4h0M97.5 416.2h0M116.6 413.5h0M115.4 409.9h0M116.4 408.4h0M104.7 410.7h0M116.0 400.7h0M125.3 395.9h0M109.7 403.5h0M98.9 413.1h0M111.9 397.8h0M108.5 413.5h0M106.8 419.4h0M116.8 394.5h0M87.7 377.2h0M116.8 396.4h0M85.1 418.7h0M89.7 378.0h0M101.9 412.3h0M105.2 413.3h0M108.5 415.3h0M106.1 418.5h0M109.7 409.8h0M100.9 403.3h0M96.2 395.8h0M100.7 398.5h0M113.5 393.8h0M100.6 408.2h0M100.8 399.8h0M116.8 413.0h0M123.3 389.1h0M96.3 399.0h0M106.4 417.9h0M86.4 409.7h0M97.1 399.5h0M109.0 406.0h0M117.9 398.0h0M131.3 417.4h0M97.8 395.0h0M89.2 398.4h0M100.1 396.8h0M97.6 410.0h0M111.2 416.6h0M109.3 415.2h0M93.4 395.2h0M114.0 413.4h0M108.1 410.9h0M108.2 413.9h0M96.5 390.7h0M103.4 410.1h0M109.6 408.6h0M125.6 382.7h0M110.0 409.7h0M104.2 413.0h0M105.3 415.8h0M109.3 406.5h0M127.9 417.0h0M103.7 414.2h0M120.1 381.5h0M111.5 416.3h0M96.0 391.3h0M109.2 406.3h0M107.8 419.0h0M86.6 379.5h0M112.0 416.0h0M98.4 395.0h0M107.8 412.2h0M104.9 415.3h0M103.1 405.5h0M93.7 386.8h0M111.1 412.2h0M120.5 406.9h0M102.0 402.2h0M95.5 388.0h0M111.3 412.4h0M94.7 400.2h0M119.4 386.2h0M107.0 419.1h0M107.0 413.5h0M106.0 418.6h0M104.5 412.7h0M131.6 418.3h0M133.9 420.2h0M92.6 388.7h0M118.2 397.4h0M114.1 395.8h0M103.1 405.7h0M90.4 391.9h0M104.7 413.7h0M110.0 404.8h0M115.1 390.4h0M108.0 413.5h0M123.2 400.5h0M102.0 410.7h0M111.9 408.0h0M89.9 389.3h0M101.0 400.5h0M90.6 393.3h0M120.5 390.0h0M99.7 395.8h0M94.8 412.6h0M99.0 414.1h0M116.5 399.9h0M97.7 408.5h0M111.9 404.5h0M115.7 395.1h0M111.2 407.3h0M112.2 414.1h0M87.8 376.0h0M95.5 393.6h0M110.0 406.5h0M130.3 417.1h0M107.9 416.3h0M109.7 417.5h0M93.2 385.0h0M103.1 407.5h0M104.2 408.8h0M106.2 419.7h0M120.9 381.5h0M109.6 416.2h0M99.4 420.4h0M93.5 401.5h0M115.5 399.1h0M114.6 404.3h0M99.2 416.8h0M86.2 389.8h0M107.5 414.6h0M119.7 387.6h0M101.0 401.2h0M110.2 410.6h0M90.8 394.7h0M117.8 406.9h0M101.4 404.9h0M108.9 418.6h0M115.5 396.7h0M124.4 389.3h0M110.6 410.3h0M102.7 411.5h0M106.4 419.8h0M95.3 400.8h0M111.4 406.5h0M108.1 408.9h0M98.4 400.9h0M118.9 393.9h0M109.6 414.1h0M100.0 408.9h0M100.6 409.6h0M113.4 408.5h0M97.8 397.3h0M99.9 410.0h0M102.2 403.4h0M112.4 407.8h0M104.4 411.6h0M111.7 408.6h0M101.5 404.5h0M96.1 396.8h0M113.7 395.3h0M102.4 412.5h0M90.3 414.2h0M100.6 407.7h0M100.8 401.0h0M109.7 414.6h0M99.8 399.6h0M109.6 406.2h0M109.6 407.1h0M93.1 384.1h0M82.9 419.0h0M119.8 395.3h0M109.8 408.6h0M103.0 406.4h0M104.0 412.4h0M104.9 411.6h0M97.0 405.1h0M109.9 404.9h0M124.2 395.9h0M111.5 405.0h0M115.9 392.4h0M88.8 401.6h0M120.5 390.2h0M123.5 396.3h0M97.2 392.5h0M112.5 398.9h0M89.2 380.4h0M113.4 406.5h0M111.0 415.4h0M118.7 388.8h0M99.8 397.0h0M115.7 405.3h0M122.8 415.7h0M121.9 379.7h0M103.0 406.0h0M104.5 414.7h0M91.6 408.4h0M125.5 392.2h0M117.7 393.6h0M100.6 415.8h0M122.0 380.8h0M105.5 418.3h0M111.6 400.7h0M113.1 414.3h0M127.3 418.7h0M96.6 400.6h0M95.8 406.5h0M96.2 399.1h0M131.5 419.3h0M127.6 417.0h0M93.5 397.4h0M105.0 411.8h0M100.4 405.8h0M108.9 416.1h0M103.2 404.9h0M114.2 401.1h0M106.3 419.5h0M103.9 408.3h0M85.3 418.6h0M87.0 375.5h0M113.2 401.6h0M118.2 396.1h0M129.1 417.9h0M92.4 382.3h0M103.3 405.2h0M115.9 402.5h0M110.3 410.1h0M105.8 416.8h0M107.8 415.6h0M104.6 418.8h0M111.7 409.3h0M118.4 407.9h0M103.4 405.5h0M100.8 399.6h0M125.9 373.9h0M90.8 381.0h0M106.0 419.5h0M107.6 419.8h0M99.0 397.9h0M115.5 400.8h0M115.9 394.2h0M112.0 402.2h0M117.6 390.6h0M108.1 415.5h0M94.3 387.3h0M121.7 397.9h0M113.4 397.1h0M109.8 405.1h0M112.4 404.6h0M114.1 400.8h0M104.3 413.0h0M108.9 409.4h0M106.9 414.8h0M105.8 417.5h0M111.7 418.6h0M125.3 398.5h0M97.0 393.7h0M109.0 417.8h0M101.1 416.9h0M105.6 417.7h0M110.7 408.1h0M109.6 403.4h0M114.6 406.0h0M105.2 415.3h0M112.8 403.0h0M123.3 385.2h0M99.2 410.6h0M109.4 413.8h0M96.4 414.5h0M114.4 401.8h0M108.1 408.8h0M123.0 391.3h0M119.5 390.8h0M111.8 405.6h0M86.8 396.8h0M98.0 403.1h0M106.1 418.8h0M102.1 412.5h0M102.0 403.5h0M125.9 389.1h0M105.8 416.8h0M99.3 401.0h0M126.3 384.8h0M97.1 405.4h0M118.6 408.5h0M130.4 419.0h0M102.9 404.3h0M104.8 412.2h0M113.9 397.9h0M96.7 417.5h0M116.2 397.6h0M86.8 381.2h0M108.0 413.1h0M115.2 393.8h0M113.0 395.3h0M104.5 411.3h0M118.6 400.4h0M121.4 412.7h0M101.9 401.8h0M109.1 413.6h0M106.4 418.1h0M110.6 406.3h0M108.3 408.0h0M123.6 402.4h0M105.7 416.8h0M113.6 402.7h0M97.8 392.6h0M117.5 394.0h0M115.6 397.6h0M115.3 398.7h0M105.9 417.9h0M117.1 394.3h0M118.2 399.0h0M105.4 418.6h0M111.6 403.8h0M112.6 400.6h0M90.5 378.3h0M119.6 397.3h0M113.9 407.0h0M95.2 407.6h0M89.6 393.2h0M107.6 412.3h0M105.6 416.6h0M102.9 407.2h0M108.2 410.5h0M100.8 407.5h0M119.5 382.5h0M102.1 403.4h0M96.7 404.2h0M104.1 413.8h0M133.2 417.1h0M126.7 379.9h0M123.5 388.0h0M126.8 381.0h0M111.2 416.3h0M130.2 418.5h0M82.0 418.0h0M118.0 393.8h0M91.2 414.1h0M112.9 396.6h0M116.6 398.1h0M99.5 401.9h0M88.2 379.8h0M97.6 402.9h0M112.0 411.0h0M131.5 417.3h0M97.8 405.9h0M104.6 416.4h0M94.2 409.4h0M99.2 401.0h0M126.1 375.0h0M124.7 397.6h0M99.5 411.0h0M96.6 395.4h0M122.9 377.6h0M101.5 404.3h0M107.1 418.3h0M100.7 411.9h0M107.6 416.3h0M82.6 418.4h0M117.0 398.7h0M93.4 383.9h0M106.8 415.7h0M102.6 407.7h0M94.2 388.2h0M98.6 396.2h0M125.3 387.4h0M120.6 385.0h0M108.5 411.6h0M116.6 387.3h0M122.8 396.0h0M100.3 405.2h0M110.2 405.5h0M125.9 378.0h0M104.4 413.4h0M107.4 415.6h0M99.0 404.7h0M112.7 397.1h0M116.0 396.5h0M108.6 412.8h0M96.1 400.9h0M90.9 385.5h0M102.5 404.4h0M117.4 409.1h0M93.6 387.9h0M102.7 412.1h0M98.6 394.7h0M94.5 387.1h0M111.6 408.5h0M93.5 386.4h0M98.0 403.6h0M111.3 400.0h0M120.5 387.3h0M123.1 381.5h0M92.5 412.8h0M89.8 389.1h0M103.9 407.6h0M97.3 409.9h0M100.3 401.3h0M109.1 406.6h0M117.9 396.3h0M125.9 375.0h0M89.3 395.5h0M99.7 404.4h0M87.0 396.3h0M122.5 382.6h0M96.6 391.2h0M82.1 417.9h0M133.7 416.9h0M110.3 404.9h0M104.7 412.3h0M108.7 406.8h0M108.0 414.2h0M112.0 398.4h0M122.2 385.2h0M84.8 417.9h0M93.7 394.9h0M100.8 399.4h0M120.2 393.1h0M121.4 383.6h0M111.6 414.9h0M101.3 401.1h0M120.6 405.1h0M107.6 414.2h0M94.8 390.0h0M87.3 390.5h0M116.6 390.7h0M94.2 392.0h0M128.3 418.2h0M108.9 409.5h0M107.4 414.3h0M78.6 418.1h0M96.3 409.6h0M102.1 403.1h0M107.9 418.3h0M111.1 402.2h0M89.1 386.1h0M108.7 408.9h0M106.5 418.5h0M105.6 417.2h0M103.2 405.3h0M108.8 412.4h0M103.0 407.7h0M102.8 406.7h0M111.0 406.8h0M107.3 412.8h0M114.2 416.7h0M116.6 396.1h0M112.5 402.8h0M104.1 412.1h0M111.0 403.9h0M109.1 410.9h0M99.0 404.8h0M101.6 411.8h0M104.5 409.7h0M81.7 418.9h0M127.8 416.7h0M126.6 389.0h0M105.0 411.6h0M90.2 384.9h0M117.2 416.0h0M110.5 402.5h0M106.3 418.8h0M100.7 400.4h0M98.0 414.9h0M117.3 395.1h0M131.7 416.9h0M110.6 407.1h0M113.7 393.1h0M105.5 414.9h0M81.5 417.0h0M116.4 392.1h0M105.7 415.6h0M110.7 405.8h0M97.1 395.9h0M100.8 409.0h0M108.3 408.9h0M91.0 393.5h0M100.0 415.9h0M99.0 406.4h0M100.0 403.8h0M110.3 407.9h0M108.1 412.4h0M106.8 415.6h0M112.3 406.8h0M110.5 407.0h0M126.4 397.0h0M119.6 386.5h0M97.6 397.4h0M87.1 388.1h0M99.1 395.7h0M104.7 417.4h0M94.7 388.4h0M102.7 408.8h0M89.9 397.9h0M101.2 399.1h0M109.1 407.8h0M99.6 408.4h0M114.2 394.1h0M130.3 419.2h0M108.4 410.4h0M135.6 418.3h0M100.5 403.0h0M101.5 400.1h0M102.7 406.7h0M114.7 396.0h0M102.3 407.4h0M91.4 382.6h0M109.8 413.7h0M101.4 411.2h0M114.7 392.9h0M103.5 413.1h0M108.1 418.0h0M115.6 392.7h0M100.7 406.0h0M100.2 401.4h0M119.7 391.5h0M97.9 410.7h0M89.5 379.7h0M92.7 399.2h0M112.5 396.7h0M110.3 404.7h0M121.9 399.2h0M101.4 404.9h0M100.5 398.1h0M93.6 402.0h0M88.6 392.9h0M120.6 394.2h0M105.3 413.5h0M97.5 397.1h0M118.5 402.2h0M95.1 386.9h0M103.4 411.2h0M106.2 419.2h0M108.7 410.1h0M108.6 408.9h0M104.4 410.6h0M101.4 400.3h0M93.9 404.5h0M129.9 418.8h0M92.4 390.1h0M120.2 403.4h0M107.9 410.1h0M104.7 412.8h0M107.2 412.8h0M93.2 382.8h0M121.3 388.5h0M119.7 412.4h0M104.4 416.6h0M111.4 409.9h0M114.5 401.9h0M109.9 408.6h0M99.5 396.2h0M94.5 410.3h0M77.0 419.1h0M114.9 411.3h0M91.7 391.2h0M103.7 414.3h0M118.4 391.5h0M95.8 407.8h0M109.8 404.0h0M88.7 394.8h0M121.6 386.0h0M119.4 402.2h0M101.1 411.3h0M98.3 393.7h0M92.1 404.0h0M97.1 415.2h0M110.8 400.8h0M92.1 398.4h0M112.8 404.1h0M103.7 408.3h0M103.6 409.7h0M99.7 400.2h0M119.5 384.2h0M119.5 398.4h0M107.7 412.5h0M108.7 413.7h0M108.4 409.3h0M95.7 397.2h0M98.9 409.8h0M100.5 410.2h0M98.2 394.4h0M107.4 411.4h0M104.5 417.6h0M89.8 387.4h0M111.5 406.4h0M109.8 403.9h0M102.9 408.7h0M104.3 410.6h0M87.5 373.6h0M88.9 376.8h0M131.3 417.1h0M122.2 378.7h0M124.5 395.1h0M107.1 413.2h0M115.7 397.2h0M115.5 399.1h0M113.3 402.0h0M105.3 413.1h0M105.4 414.1h0M102.7 413.4h0M121.1 394.4h0M87.2 392.3h0M117.0 388.9h0M124.0 381.9h0M116.0 410.4h0M102.1 403.9h0M96.4 392.2h0M103.0 408.7h0M89.1 401.7h0M101.9 403.8h0M111.3 408.5h0M108.3 410.2h0M90.7 404.3h0M112.1 399.4h0M97.0 402.8h0M95.4 401.2h0M111.2 399.1h0M105.8 417.5h0M104.1 412.3h0M125.2 404.4h0M98.1 403.2h0M111.7 406.9h0M103.6 417.3h0M105.8 415.6h0M116.8 401.7h0M102.1 409.8h0M115.6 391.9h0M110.8 400.6h0M107.1 417.3h0M118.8 391.9h0M95.7 393.0h0M112.1 399.4h0M125.6 373.7h0M114.1 395.9h0M105.3 413.1h0M98.6 399.0h0M99.6 400.2h0M102.0 410.2h0M126.5 380.2h0M93.9 389.1h0M119.1 404.7h0M96.4 393.1h0M110.7 409.7h0M126.7 371.5h0M115.9 390.0h0M90.3 399.9h0M122.6 380.4h0M92.0 384.8h0M112.4 403.6h0M87.3 373.9h0M92.5 386.0h0M119.2 404.1h0M117.9 391.4h0M127.0 419.0h0M106.7 415.9h0M93.2 394.7h0M123.3 405.8h0M93.8 387.8h0M102.6 410.2h0M105.1 412.7h0M99.9 403.1h0M108.6 415.9h0M112.8 418.7h0M111.6 405.3h0M112.6 399.5h0M88.6 378.9h0M116.1 396.1h0M106.1 418.8h0M110.4 408.1h0M122.3 401.3h0M92.1 395.0h0M132.6 417.7h0M104.6 416.1h0M97.3 391.1h0M117.1 387.7h0M106.9 415.6h0M101.7 405.0h0M93.5 406.4h0M108.1 410.2h0M97.7 391.4h0M123.5 410.6h0M116.0 408.7h0M91.9 388.0h0M91.9 402.6h0M110.5 407.3h0M99.3 395.1h0M99.7 406.9h0M111.1 410.4h0M113.6 415.2h0M100.2 416.2h0M106.5 417.9h0M91.3 401.7h0M102.5 402.7h0M82.9 419.1h0M102.9 408.6h0M96.0 403.3h0M121.3 399.8h0M119.3 418.1h0M108.4 416.1h0M114.8 397.6h0M105.7 416.1h0M117.4 387.1h0M111.1 407.7h0M115.0 398.5h0M103.4 407.7h0M104.3 416.5h0M117.5 399.1h0M101.3 406.8h0M93.3 393.0h0M105.6 417.1h0M88.8 389.0h0M101.1 401.5h0M107.8 412.2h0M95.0 389.9h0M96.0 389.7h0M122.2 392.6h0M114.5 397.1h0M109.3 405.5h0M97.8 397.8h0M91.4 394.4h0M109.5 404.1h0M85.6 373.9h0M94.5 398.7h0M96.7 394.4h0M95.8 399.1h0M78.5 418.6h0M93.0 409.0h0M105.0 412.7h0M92.8 387.1h0M114.4 412.3h0M128.0 416.9h0M97.6 404.8h0M97.7 412.6h0M90.0 405.4h0M124.8 374.9h0M96.3 395.2h0M91.5 380.7h0M108.6 412.3h0M119.5 414.9h0M125.0 380.8h0M96.6 391.4h0M124.7 403.9h0M93.1 412.4h0M111.6 399.9h0M95.6 400.0h0M108.2 415.6h0M125.9 375.6h0M87.2 404.6h0M109.2 411.0h0M102.1 403.8h0M102.5 414.8h0M101.2 404.3h0M117.5 400.6h0M98.1 406.2h0M98.7 399.4h0M94.2 394.5h0M89.8 394.9h0M98.9 403.6h0M94.1 390.7h0M103.6 411.2h0M93.3 382.8h0M104.7 416.2h0M90.4 382.6h0M118.0 416.7h0M89.7 413.9h0M101.4 401.6h0M104.9 411.2h0M128.4 418.1h0M95.6 392.2h0M95.1 404.1h0M112.8 397.1h0M96.7 393.7h0M87.7 388.2h0M118.7 396.6h0M112.5 413.4h0M107.5 413.1h0M106.2 419.9h0M105.8 416.7h0M116.2 400.1h0M114.1 405.4h0M138.2 417.1h0M95.3 387.7h0M103.1 417.0h0M101.1 412.7h0M91.4 385.5h0M92.4 401.7h0M103.4 412.7h0M107.4 413.1h0M109.6 410.6h0M109.9 405.3h0M118.6 399.5h0M107.8 417.1h0M118.7 398.4h0M117.0 398.1h0M106.0 418.8h0M98.3 405.4h0M126.5 386.3h0M102.3 413.7h0M101.5 400.8h0M91.5 385.9h0M102.4 410.5h0M106.6 418.0h0M94.1 385.3h0M91.4 412.2h0M93.3 387.2h0M114.0 396.2h0M108.6 407.4h0M111.8 405.8h0M103.9 408.1h0M104.8 414.4h0M104.8 412.0h0M102.0 410.0h0M110.1 402.1h0M116.5 395.0h0M110.0 404.1h0M106.4 418.5h0M87.1 373.7h0M121.9 378.5h0M116.2 389.9h0M109.1 407.1h0M108.1 408.7h0M128.7 416.7h0M106.7 419.1h0M102.7 404.1h0M97.6 395.0h0M111.8 402.7h0M100.8 406.2h0M115.9 389.1h0M114.0 401.5h0M115.6 391.2h0M96.5 399.2h0M89.0 396.1h0M105.9 418.8h0M135.2 417.1h0M114.0 406.6h0M108.7 406.5h0M102.5 402.8h0M93.4 408.0h0M106.8 415.9h0M91.7 399.1h0M101.9 416.5h0M109.6 406.6h0M111.1 406.1h0M102.1 405.2h0M106.3 419.0h0M98.5 402.1h0M112.7 397.5h0M105.1 412.7h0M105.1 415.0h0M121.3 408.3h0M103.5 408.3h0M110.0 404.3h0M116.1 390.2h0M111.4 403.4h0M108.8 409.3h0M104.2 408.3h0M111.5 408.3h0M124.4 379.6h0M94.5 390.5h0M112.8 402.2h0M115.7 407.4h0M98.6 403.3h0M98.6 398.8h0M98.4 417.3h0M126.1 386.9h0M113.1 409.1h0M103.9 416.6h0M104.8 413.9h0M102.7 415.5h0M114.7 400.2h0M99.8 396.6h0M122.8 381.8h0M116.0 408.1h0M114.5 403.9h0M103.8 415.6h0M103.5 405.6h0M91.0 415.2h0M130.6 419.1h0M116.6 405.3h0M121.3 406.3h0M121.8 392.0h0M96.1 393.4h0M123.3 378.6h0M102.0 412.3h0M106.0 417.5h0M104.8 410.7h0M99.4 408.2h0M91.6 382.0h0M83.4 416.6h0M74.8 419.4h0M105.1 413.1h0M106.7 419.1h0M101.6 404.6h0M107.1 416.9h0M113.6 410.5h0M113.8 397.9h0M109.8 416.0h0M126.8 400.9h0M82.7 416.7h0M118.5 408.7h0M88.6 387.6h0M102.9 409.8h0M109.4 407.4h0M105.1 419.0h0M129.2 417.0h0M95.4 398.0h0M102.7 408.1h0M118.8 396.7h0M93.5 404.5h0M122.2 397.5h0M105.3 415.3h0M117.9 392.3h0M82.1 417.8h0M120.1 400.6h0M121.1 381.6h0M105.8 418.0h0M101.5 404.3h0M117.1 401.5h0M112.7 402.3h0M102.6 405.8h0M124.5 390.2h0M98.1 395.1h0M100.7 418.2h0M99.8 397.0h0M93.9 401.2h0M112.7 395.6h0M110.5 406.0h0M102.5 414.4h0M98.3 393.9h0M114.4 392.0h0M106.0 419.1h0M112.4 404.7h0M117.3 400.3h0M107.5 413.8h0M98.7 403.5h0M99.1 414.8h0M100.1 409.1h0M103.2 409.5h0M98.4 400.1h0M96.2 395.1h0M108.1 410.3h0M112.7 401.3h0M92.2 405.7h0M116.9 398.7h0M116.7 392.8h0M106.9 415.6h0M106.7 416.1h0M103.1 408.3h0M91.7 400.7h0M112.0 402.4h0M107.1 418.6h0M103.5 412.6h0M82.8 417.8h0M105.8 416.2h0M94.2 385.0h0M119.0 386.9h0M112.4 408.9h0M115.1 392.6h0M104.4 411.4h0M100.0 399.5h0M105.4 413.8h0M84.3 417.0h0M91.0 387.7h0M99.6 409.6h0M102.4 409.9h0M125.7 394.5h0M95.0 399.5h0M123.6 411.3h0M92.8 387.0h0M96.2 394.8h0M111.0 405.8h0M108.6 406.6h0M116.4 405.2h0M95.9 391.7h0M105.3 418.9h0M104.8 411.9h0M121.8 397.5h0M95.7 408.2h0M112.4 396.6h0M116.6 400.5h0M102.5 413.8h0M102.5 408.3h0M98.2 397.1h0M111.2 410.6h0M107.3 413.3h0M116.9 399.8h0M126.9 382.5h0M132.9 418.7h0M105.8 416.7h0M106.7 419.1h0M110.0 410.1h0M90.3 383.8h0M102.6 406.0h0M118.3 405.1h0M92.5 386.2h0M110.6 400.8h0M99.7 412.6h0M122.3 391.2h0M96.4 397.4h0M109.7 411.0h0M114.5 401.8h0M119.1 385.4h0M126.3 396.0h0M96.5 401.1h0M105.6 417.7h0M116.1 404.7h0M138.1 417.5h0M119.9 400.8h0M110.8 405.2h0M94.9 392.1h0M108.0 410.0h0M101.5 407.4h0M117.8 390.3h0M108.6 412.2h0M104.5 410.9h0M101.7 404.3h0M113.4 412.6h0M107.1 413.4h0M91.1 407.5h0M97.9 409.0h0M107.9 415.6h0M104.9 413.0h0M92.4 388.9h0M105.8 416.4h0M96.0 408.5h0M116.4 389.4h0M109.0 412.5h0M103.4 415.6h0M100.9 403.5h0M105.2 415.5h0M107.3 416.7h0M107.0 414.9h0M114.1 403.6h0M113.1 401.8h0M130.0 417.8h0M102.4 402.5h0M119.1 386.4h0M115.3 416.4h0M122.1 378.8h0M100.7 409.4h0M115.0 408.4h0M120.4 390.0h0M103.5 413.9h0M112.1 398.3h0M109.0 410.9h0M110.3 411.5h0M88.3 376.0h0M103.3 407.7h0M103.1 409.8h0M114.3 405.0h0M95.0 387.9h0M102.1 403.6h0M85.2 416.9h0M88.2 396.2h0M121.7 383.3h0M87.8 375.8h0M131.1 417.7h0M114.2 408.1h0M105.7 416.3h0M83.0 416.7h0M100.0 398.1h0M92.8 382.4h0M112.7 399.6h0M93.8 402.1h0M108.2 412.8h0M111.2 401.6h0M95.8 402.6h0M89.1 395.3h0M110.2 402.6h0M102.3 403.6h0M96.9 390.2h0M124.6 384.9h0M107.1 413.0h0M100.2 415.6h0M94.2 389.5h0M92.0 400.7h0M100.4 408.3h0M101.5 402.5h0M109.6 405.3h0M99.3 400.7h0M95.6 393.8h0M108.3 410.6h0M123.2 379.1h0M125.0 382.2h0M87.0 383.4h0M96.5 393.9h0M101.1 399.5h0M109.9 403.1h0M103.1 415.6h0M88.6 380.4h0M109.9 410.1h0M97.1 413.5h0M80.9 417.1h0M106.3 419.3h0M119.6 404.8h0M100.0 405.1h0M113.2 409.5h0M92.6 402.6h0M100.4 409.2h0M93.9 403.5h0M121.9 382.6h0M121.9 382.2h0M105.5 418.6h0M102.1 404.3h0M92.1 385.4h0M90.8 393.0h0M86.5 410.1h0M87.3 383.0h0M93.4 389.9h0M103.9 411.8h0M117.8 386.0h0M120.2 392.9h0M120.2 390.8h0M90.1 380.2h0M100.3 403.9h0M115.2 399.8h0M109.3 407.8h0M110.2 411.8h0M96.2 399.5h0M104.7 414.1h0M108.9 415.3h0M104.7 419.2h0M115.2 400.9h0M118.5 385.1h0M110.2 402.2h0M115.8 398.1h0M96.4 389.2h0M116.8 389.8h0M87.6 373.9h0M116.1 401.5h0M93.4 396.4h0M126.3 407.0h0M99.2 408.5h0M122.5 387.8h0M115.7 394.9h0M113.4 413.1h0M99.0 402.8h0M102.4 405.4h0M118.2 393.7h0M107.1 412.6h0M83.7 416.9h0M102.2 403.1h0M100.0 407.5h0M105.5 418.4h0M117.0 391.7h0M111.3 402.2h0M107.2 417.4h0M98.9 415.6h0M97.0 393.7h0M106.1 418.8h0M102.2 407.1h0M113.8 394.8h0M120.0 387.2h0M94.5 391.3h0M123.2 415.3h0M109.0 418.3h0M107.2 413.4h0M115.5 394.4h0M111.9 416.9h0M135.7 418.1h0M108.7 409.2h0M101.3 409.4h0M103.8 408.5h0M105.4 415.0h0M100.3 411.9h0M108.9 411.3h0M98.7 406.9h0M113.2 402.6h0M100.1 405.5h0M121.6 414.3h0M107.0 415.8h0M107.3 414.6h0M101.4 402.6h0M119.6 394.2h0M85.1 420.4h0M93.7 401.5h0M117.4 388.9h0M114.8 397.5h0M107.5 411.1h0M95.0 391.7h0M109.7 412.4h0M101.1 402.2h0M109.7 407.5h0M123.5 376.0h0M92.9 397.9h0M108.6 407.6h0M108.0 409.1h0M111.0 400.0h0M103.3 410.6h0M112.2 409.0h0M90.8 392.5h0M110.4 405.9h0M94.5 397.7h0M118.8 400.7h0M94.4 391.4h0M112.2 396.6h0M97.2 407.8h0M117.1 390.4h0M108.3 414.2h0M93.5 407.1h0M99.4 396.5h0M110.8 407.1h0M124.8 385.9h0M96.0 410.4h0M104.7 410.0h0M95.9 394.1h0M100.6 414.5h0M95.5 408.6h0M99.4 419.6h0M109.6 405.0h0M90.5 378.1h0M112.4 399.7h0M98.4 405.1h0M112.5 405.4h0M110.5 409.3h0M108.7 412.1h0M108.4 408.5h0M100.1 409.2h0M120.7 399.4h0M107.6 415.7h0M99.5 409.8h0M101.8 403.0h0M113.5 406.7h0M84.9 418.6h0M97.4 404.4h0M108.5 411.0h0M116.1 400.2h0M115.2 390.2h0M104.6 412.2h0M107.8 411.8h0M118.4 403.5h0M96.0 401.9h0M103.2 408.6h0M123.6 391.0h0M112.0 405.6h0M88.6 401.9h0M110.3 409.4h0M116.1 405.5h0M120.2 393.7h0M109.7 407.5h0M131.7 418.6h0M99.3 405.2h0M104.1 414.3h0M97.0 396.4h0M109.4 406.3h0M119.2 400.6h0M117.7 408.9h0M106.4 418.1h0M110.7 403.2h0M108.1 408.8h0M103.8 412.7h0M102.8 411.0h0M102.4 403.6h0M96.7 396.7h0M116.1 407.1h0M110.1 404.0h0M122.0 399.0h0M112.8 396.7h0M108.7 409.0h0M108.7 414.8h0M120.2 383.7h0M121.4 383.0h0M114.5 402.6h0M89.9 379.4h0M109.1 405.9h0M128.3 416.8h0M88.0 386.0h0M125.6 391.3h0M112.3 398.3h0M119.7 389.0h0M107.0 413.5h0M107.0 414.4h0M120.3 385.9h0M119.7 413.8h0M120.8 387.3h0M125.6 374.6h0M105.5 414.7h0M112.9 398.8h0M98.0 402.9h0M113.9 397.7h0M109.1 408.2h0M105.0 411.3h0M106.3 419.3h0M111.2 401.7h0M106.7 418.1h0M105.0 413.1h0M103.2 406.3h0M122.4 377.2h0M112.7 408.2h0M126.4 383.1h0M106.8 416.6h0M111.5 416.6h0M90.7 395.2h0M93.6 389.8h0M118.0 387.4h0M110.2 406.2h0M100.7 402.0h0M113.2 396.0h0M83.5 418.7h0M123.0 417.6h0M109.7 407.0h0M122.8 382.8h0M101.5 404.1h0M130.1 417.0h0M106.0 419.8h0M99.7 402.5h0M105.5 415.3h0M123.1 377.4h0M118.6 391.6h0M90.0 401.5h0M127.1 419.4h0M109.5 409.1h0M96.1 391.6h0M118.4 385.0h0M94.5 409.5h0M93.2 400.2h0M121.6 387.0h0M114.5 392.2h0M95.2 393.9h0M106.4 417.0h0M107.7 415.5h0M92.8 417.5h0M87.0 373.3h0M113.6 403.0h0M108.9 407.4h0M108.0 410.1h0M105.5 415.1h0M96.1 392.9h0M102.1 402.0h0M91.9 385.1h0M94.6 385.9h0M114.1 399.6h0M111.3 406.4h0M105.5 419.1h0M114.1 396.0h0M108.7 416.2h0M120.5 392.8h0M120.5 396.3h0M116.1 404.4h0M104.4 409.8h0M109.5 406.7h0M93.4 397.5h0M103.6 407.1h0M108.3 416.8h0M91.1 378.9h0M96.9 406.2h0M105.3 412.9h0M104.1 409.2h0M111.4 400.1h0M101.4 404.8h0M111.0 403.9h0M112.8 413.0h0M112.6 395.7h0M130.9 417.6h0M123.5 399.1h0M93.6 392.5h0M103.2 404.9h0M112.4 404.4h0M116.8 402.4h0M80.2 420.0h0M98.4 402.4h0M95.2 414.4h0M106.3 418.9h0M106.9 414.1h0M112.3 411.4h0M110.8 404.9h0M129.3 420.2h0M105.1 411.6h0M106.2 420.3h0M92.8 392.3h0M126.5 390.0h0M112.1 404.7h0M94.4 385.7h0M91.0 383.3h0M122.9 381.3h0M97.6 399.7h0M116.9 390.7h0M122.7 409.7h0M94.1 385.2h0M90.3 386.3h0M94.8 399.9h0M115.4 412.3h0M93.7 394.6h0M110.8 402.6h0M105.5 415.9h0M113.4 402.8h0M149.8 417.8h0M118.3 385.2h0M119.2 399.8h0M102.1 415.6h0M105.9 417.9h0M114.4 399.3h0M122.7 386.2h0M94.3 395.0h0M126.3 378.9h0M89.5 385.7h0M109.0 406.1h0M113.9 397.5h0M96.2 408.8h0M121.5 411.3h0M83.2 418.2h0M102.0 401.4h0M109.6 411.7h0M112.3 405.1h0M119.5 404.1h0M104.6 410.9h0M129.4 419.5h0M89.6 382.6h0M116.6 417.4h0M94.6 412.9h0M108.1 411.7h0M105.9 417.2h0M109.6 418.2h0M115.3 398.7h0M110.2 410.5h0M99.2 419.2h0M91.4 397.2h0M118.1 387.0h0M122.6 411.8h0M106.6 418.9h0M108.8 407.9h0M84.2 418.2h0M113.5 403.1h0M105.8 417.2h0M119.8 394.7h0M105.7 415.9h0M119.7 382.5h0M112.3 397.0h0M94.7 396.7h0M111.6 405.3h0M106.0 420.1h0M115.2 408.1h0M98.2 413.6h0M98.3 406.7h0M105.6 417.1h0M105.4 415.5h0M100.5 417.5h0M116.3 392.5h0M104.2 410.6h0M110.4 403.0h0M121.7 399.0h0M109.6 407.5h0M111.0 402.7h0M90.9 406.8h0M117.6 402.4h0M98.8 405.1h0M99.1 413.9h0M103.5 410.2h0M112.3 403.7h0M104.0 411.0h0M120.5 399.6h0M91.6 404.4h0M109.3 413.6h0M107.2 413.5h0M98.7 394.8h0M100.8 404.0h0M98.8 395.0h0M131.6 417.3h0M107.7 417.3h0M115.3 394.6h0M96.8 416.6h0M99.9 404.9h0M97.7 394.0h0M112.3 405.2h0M99.6 415.3h0M108.9 412.3h0M98.6 398.0h0M84.1 417.5h0M105.1 412.7h0M94.5 391.5h0M109.2 407.0h0M121.3 394.0h0M109.0 407.8h0M127.9 417.9h0M120.3 390.3h0M106.1 418.2h0M118.8 398.6h0M91.1 386.4h0M100.8 408.9h0M91.4 392.6h0M87.2 400.8h0M118.5 407.6h0M113.5 401.4h0M105.1 412.4h0M113.5 398.4h0M130.2 418.1h0M115.8 394.4h0M93.2 400.5h0M98.6 396.9h0M102.0 404.0h0M97.1 394.0h0M112.6 404.6h0M99.9 398.6h0M114.9 391.6h0M117.4 399.7h0M115.9 406.4h0M111.1 402.4h0M133.1 416.6h0M107.9 412.4h0M107.3 411.7h0M113.6 398.0h0M108.9 414.3h0M101.6 419.3h0M113.4 403.2h0M97.9 399.7h0M104.4 412.3h0M116.8 390.0h0M103.8 407.7h0M132.4 418.1h0M110.5 410.3h0M92.6 397.8h0M106.2 419.4h0M115.2 395.6h0M111.5 406.6h0M97.0 399.2h0M121.3 388.7h0M101.5 412.3h0M106.4 418.4h0M115.2 396.0h0M108.1 411.9h0M100.2 415.3h0M110.5 409.2h0M116.1 394.9h0M107.1 414.9h0M121.2 382.1h0M110.6 415.7h0M111.2 405.3h0M109.0 414.9h0M100.2 399.4h0M99.1 403.2h0M114.4 393.6h0M102.2 405.7h0M96.4 414.8h0M127.3 417.6h0M123.0 406.3h0M112.4 410.8h0M123.6 389.1h0M117.6 395.4h0M87.5 394.7h0M102.3 411.1h0M115.9 404.6h0M102.3 407.3h0M106.8 417.2h0M100.2 400.9h0M107.4 415.8h0M108.6 415.6h0M105.5 419.2h0M119.7 388.9h0M89.3 410.2h0M119.8 413.6h0M82.2 417.3h0M113.4 394.0h0M113.0 415.3h0M135.3 417.4h0M104.2 417.3h0M99.5 397.5h0M99.5 395.9h0M91.9 400.8h0M128.2 419.3h0M117.3 405.1h0M110.8 411.8h0M95.9 395.9h0M100.6 398.2h0M102.0 414.2h0M120.5 412.0h0M115.8 398.6h0M105.5 418.1h0M121.7 399.6h0M122.1 389.3h0M98.3 396.8h0M110.5 404.3h0M117.7 409.4h0M99.9 407.0h0M105.5 415.0h0M134.9 417.2h0M105.1 418.7h0M109.7 405.7h0M98.5 408.6h0M105.2 412.7h0M99.3 400.7h0M122.3 386.0h0M108.1 409.8h0M97.9 405.9h0M89.3 378.5h0M104.9 411.4h0M113.9 415.2h0M126.8 385.5h0M111.6 403.8h0M92.6 401.8h0M104.2 411.0h0M108.8 414.3h0M98.7 411.3h0M98.8 408.9h0M105.0 411.4h0M111.8 398.7h0M98.4 401.1h0M98.5 404.8h0M104.5 409.3h0M110.2 403.2h0M107.0 415.1h0M76.8 416.6h0M112.1 408.9h0M98.2 404.4h0M110.2 406.0h0M105.8 416.9h0M114.6 393.7h0M98.0 398.1h0M110.8 406.4h0M92.2 389.7h0M102.6 404.0h0M112.0 413.1h0M113.8 394.7h0M121.4 387.1h0M112.7 403.6h0M115.1 402.1h0M117.5 393.1h0M107.7 411.8h0M111.1 400.0h0M91.6 380.7h0M102.9 411.6h0M120.2 413.7h0M93.0 386.8h0M100.1 397.8h0M101.4 403.9h0M92.7 382.5h0M106.3 419.8h0M103.4 412.6h0M118.7 420.0h0M125.7 381.9h0M124.8 384.2h0M93.6 384.4h0M112.8 409.0h0M104.6 415.4h0M98.1 402.4h0M91.0 410.6h0M99.2 406.2h0M103.4 409.0h0M104.6 409.5h0M102.6 407.3h0M103.3 412.0h0M105.8 417.6h0M93.1 419.9h0M106.0 418.9h0M109.6 404.2h0M80.6 419.2h0M129.0 419.2h0M103.1 408.8h0M109.7 415.6h0M129.1 418.7h0M111.3 402.3h0M103.8 411.5h0M94.4 390.3h0M106.5 417.5h0M113.7 394.8h0M104.2 413.6h0M112.8 400.8h0M104.6 416.4h0M94.9 400.9h0M111.1 406.3h0M109.4 406.8h0M102.7 405.5h0M89.4 417.3h0M98.6 398.1h0M113.0 401.7h0M120.8 405.9h0M110.0 405.1h0M109.8 407.9h0M121.6 381.5h0M127.4 418.0h0M92.2 384.2h0M100.0 400.2h0M98.9 409.0h0M109.0 405.8h0M104.4 415.1h0M102.0 406.2h0M109.3 409.5h0M111.5 398.9h0M101.1 407.4h0M105.5 419.3h0M109.3 418.5h0M85.6 373.0h0M106.3 418.7h0M99.9 398.1h0M100.0 405.2h0M102.7 408.3h0M101.9 404.3h0M120.3 387.5h0M107.7 418.7h0M100.6 408.9h0M89.0 399.7h0M85.3 419.2h0M85.4 376.4h0M121.7 396.1h0M110.1 402.9h0M106.2 420.0h0M97.2 394.0h0M105.8 417.3h0M116.5 397.3h0M97.7 401.6h0M117.4 388.5h0M96.4 401.2h0M102.8 404.9h0M105.3 414.7h0M106.3 419.1h0M105.5 416.6h0M104.7 417.8h0M117.8 410.5h0M113.3 416.8h0M96.3 396.0h0M115.2 396.5h0M120.9 392.5h0M84.8 420.0h0M110.2 411.3h0M116.8 387.1h0M98.3 401.9h0M98.8 403.9h0M120.9 398.7h0M111.4 410.3h0M114.4 400.4h0M121.8 383.9h0M86.9 366.2h0M102.6 400.1h0M102.7 402.6h0M125.8 360.6h0M99.6 393.6h0M102.6 401.3h0M103.3 403.4h0M101.1 393.3h0M86.5 366.2h0M86.7 361.9h0M116.8 384.5h0M119.2 381.0h0M114.8 383.4h0M91.9 378.6h0M120.1 374.9h0M116.5 381.0h0M123.5 371.3h0M111.5 395.3h0M101.5 397.4h0M112.1 392.7h0M120.6 371.5h0M105.8 415.6h0M98.5 390.4h0M103.4 404.9h0M96.7 382.8h0M93.6 377.5h0M120.8 376.1h0M99.2 393.9h0M115.3 384.1h0M117.4 384.6h0" stroke="#cccccc" stroke-width="2.8" stroke-linecap="round" fill="none"/>
<path d="M61.0 415.0h0M66.1 403.7h0M76.4 405.4h0M62.2 408.5h0M72.9 402.8h0M77.9 375.1h0M71.3 386.0h0M83.9 415.3h0M84.0 383.1h0M83.9 407.4h0M84.3 388.9h0M84.0 412.4h0M71.9 393.2h0M83.7 399.3h0M55.7 377.5h0M77.9 374.7h0M76.5 375.9h0M74.5 399.1h0M75.5 379.6h0M77.0 394.2h0M77.7 411.4h0M79.7 374.6h0M84.2 393.7h0M82.4 394.7h0M77.1 407.6h0M63.4 366.1h0M83.4 413.3h0M80.2 413.1h0M63.0 413.8h0M55.2 414.3h0M83.8 406.7h0M80.7 381.8h0M79.5 414.9h0M80.9 403.7h0M73.8 406.4h0M66.8 388.5h0M81.0 413.3h0M60.7 371.4h0M75.4 389.9h0M82.6 408.7h0M80.5 399.8h0M79.0 412.0h0M81.1 388.2h0M83.3 388.2h0M71.5 388.6h0M73.4 413.6h0M73.9 407.8h0M79.7 413.9h0M83.3 393.0h0M63.5 368.4h0M82.0 377.2h0M83.4 399.2h0M38.2 406.4h0M72.4 414.6h0M75.3 414.8h0M80.5 390.0h0M82.7 404.3h0M84.3 389.8h0M58.2 400.0h0M82.5 411.3h0M78.8 397.5h0M68.0 415.1h0M84.4 398.1h0M81.4 410.2h0M71.7 393.9h0M82.9 397.6h0M78.7 414.2h0M81.9 415.6h0M84.3 406.1h0M83.0 404.2h0M80.0 415.0h0M76.2 415.5h0M56.6 388.6h0M40.8 410.1h0M78.5 415.1h0M71.5 389.4h0M83.4 399.1h0M71.5 400.4h0M80.2 382.9h0M74.6 405.6h0M61.6 365.9h0M74.2 395.9h0M71.0 377.3h0M68.2 399.3h0M77.9 398.0h0M78.5 407.6h0M80.4 386.3h0M77.9 403.2h0M79.8 387.0h0M76.4 385.1h0M65.4 415.4h0M71.3 415.1h0M78.9 414.3h0M84.1 384.4h0M62.6 412.1h0M77.5 411.0h0M80.5 386.8h0M81.5 391.6h0M81.1 402.4h0M79.7 378.0h0M77.8 402.1h0M75.1 415.7h0M61.7 400.8h0M66.6 389.0h0M78.7 390.4h0M58.7 383.6h0M55.0 413.0h0M84.1 390.4h0M44.9 372.4h0M50.0 370.9h0M83.8 385.3h0M79.1 386.4h0M82.0 408.5h0M75.6 410.2h0M79.9 381.5h0M69.3 373.6h0M84.1 410.8h0M35.8 353.8h0M57.3 413.3h0M78.1 372.9h0M80.1 409.4h0M69.0 374.7h0M81.3 408.9h0M83.1 396.2h0M71.7 400.1h0M65.9 404.0h0M37.6 388.3h0M83.7 409.9h0M83.7 407.3h0M83.7 414.6h0M72.1 386.2h0M79.1 381.5h0M79.0 411.7h0M76.4 383.7h0M83.2 375.6h0M83.9 411.8h0M82.2 379.1h0M77.3 404.2h0M70.3 369.7h0M81.8 405.1h0M72.2 403.3h0M52.6 386.7h0M72.0 415.1h0M79.9 415.6h0M83.7 406.8h0M55.5 365.3h0M52.3 415.4h0M58.3 363.8h0M81.4 407.3h0M77.5 412.6h0M82.3 414.5h0M67.5 403.9h0M66.5 370.0h0M74.1 401.9h0M80.3 415.7h0M83.8 375.4h0M81.4 415.5h0M83.8 392.2h0M69.7 380.6h0M77.9 379.2h0M84.3 377.4h0M78.5 400.9h0M79.7 389.6h0M73.7 415.1h0M81.4 393.3h0M79.4 383.1h0M83.7 385.2h0M81.5 406.6h0M72.7 410.3h0M62.5 378.1h0M61.6 413.5h0M77.7 415.6h0M80.6 395.7h0M72.9 399.9h0M77.3 398.8h0M84.4 415.7h0M68.0 404.8h0M82.4 408.1h0M76.5 394.6h0M68.7 415.7h0M74.5 408.1h0M80.1 382.9h0M74.3 390.5h0M77.5 393.0h0M78.9 403.0h0M82.1 415.2h0M84.5 412.1h0M78.2 415.3h0M60.2 396.3h0M81.1 388.6h0M82.1 397.6h0M66.0 381.8h0M71.2 398.9h0M46.6 415.6h0M83.9 411.5h0M80.8 401.4h0M73.3 378.0h0M83.7 406.5h0M63.1 403.1h0M83.1 407.9h0M82.9 415.7h0M80.7 414.8h0M79.5 382.8h0M73.6 397.7h0M77.5 391.1h0M79.2 413.1h0M76.9 402.6h0M80.9 388.0h0M79.6 394.9h0M83.8 407.0h0M80.4 413.8h0M79.9 398.2h0M79.2 378.4h0M73.1 413.6h0M81.8 387.6h0M81.4 381.2h0M81.0 415.2h0M77.1 398.6h0M70.3 414.5h0M75.7 394.8h0M82.4 411.1h0M62.4 366.6h0M83.7 382.9h0M81.4 399.0h0M67.7 388.1h0M65.2 389.7h0M64.6 392.3h0M78.7 382.9h0M73.2 411.9h0M84.5 387.4h0M41.2 379.9h0M69.7 378.5h0M51.2 393.0h0M57.8 399.9h0M77.6 383.3h0M65.6 369.6h0M79.5 387.6h0M46.9 380.0h0M82.3 413.3h0M66.3 401.4h0M82.7 382.3h0M83.0 415.7h0M79.4 411.2h0M59.6 409.4h0M74.2 377.1h0M84.0 414.4h0M70.5 376.2h0M79.6 378.4h0M73.8 396.8h0M82.9 391.2h0M78.2 414.6h0M83.0 413.3h0M77.3 415.1h0M82.2 390.3h0M67.5 381.8h0M73.9 397.6h0M82.5 389.5h0M66.1 397.6h0M76.1 415.5h0M84.1 410.2h0M57.0 408.7h0M58.2 368.5h0M81.2 406.0h0M63.8 393.9h0M75.1 412.4h0M83.1 402.3h0M76.4 392.3h0M81.9 406.3h0M82.4 396.1h0M72.8 411.5h0M82.6 415.6h0M84.6 379.1h0M70.3 405.6h0M65.3 414.8h0M45.8 413.0h0M73.5 400.3h0M76.8 413.7h0M76.0 372.6h0M69.9 396.4h0M56.7 412.4h0M84.0 413.4h0M80.7 399.4h0M64.1 390.1h0M70.5 395.7h0M76.2 413.8h0M75.5 414.2h0M82.4 403.0h0M82.6 405.8h0M74.8 412.5h0M57.3 402.1h0M84.2 415.0h0M82.5 400.5h0M67.5 414.4h0M80.4 383.7h0M63.9 388.2h0M72.6 371.2h0M69.1 413.5h0M77.3 375.0h0M81.5 385.0h0M68.9 393.7h0M83.3 415.8h0M73.4 385.8h0M76.7 413.6h0M59.5 397.1h0M81.9 389.8h0M73.5 393.7h0M79.1 411.5h0M79.5 396.0h0M73.7 408.9h0M82.4 410.1h0M75.8 415.1h0M82.4 384.3h0M80.0 408.0h0M83.6 403.8h0M82.7 415.6h0M76.4 404.8h0M74.7 408.1h0M81.7 383.7h0M63.7 414.9h0M60.2 388.3h0M61.0 400.4h0M81.8 383.7h0M70.5 412.9h0M80.7 414.3h0M79.3 373.9h0M78.3 403.8h0M63.6 406.1h0M80.8 405.3h0M80.0 412.1h0M74.0 415.8h0M82.4 415.5h0M80.8 405.6h0M82.2 415.7h0M74.5 372.1h0M83.2 407.9h0M82.0 402.6h0M76.6 384.8h0M83.0 406.6h0M83.5 400.8h0M81.2 398.1h0M75.1 412.0h0M45.5 378.1h0M57.2 385.9h0M81.4 408.8h0M76.7 389.8h0M75.8 376.0h0M76.3 415.7h0M62.0 393.8h0M47.5 379.8h0M78.0 405.2h0M82.9 406.5h0M64.4 406.6h0M79.2 376.3h0M82.4 415.4h0M83.3 397.2h0M72.9 379.9h0M74.2 374.8h0M84.4 414.4h0M69.4 409.2h0M68.0 415.3h0M55.1 287.7h0M65.3 297.2h0M53.5 333.5h0M54.5 339.8h0M66.3 339.8h0M40.8 345.5h0M62.1 347.1h0M87.5 342.4h0M80.0 348.1h0M48.1 353.5h0M66.3 354.4h0M94.9 354.4h0M48.1 359.8h0M67.2 363.0h0M86.9 359.8h0M40.8 365.2h0M92.6 366.2h0M46.2 372.5h0M66.3 369.4h0M36.7 379.8h0M59.0 377.8h0M51.3 385.3h0M69.4 383.0h0M36.0 391.6h0" stroke="#2ea8df" stroke-width="2.8" stroke-linecap="round" fill="none"/>
<path d="M130.7 414.1h0M130.3 413.7h0M130.7 398.2h0M162.0 377.5h0M145.3 415.7h0M131.1 401.7h0M140.8 372.3h0M128.6 397.2h0M133.8 393.7h0M132.4 415.3h0M130.4 375.0h0M129.6 376.8h0M157.2 401.3h0M129.2 380.1h0M131.8 412.9h0M129.0 408.6h0M143.2 377.5h0M129.0 393.3h0M130.7 388.2h0M130.2 380.5h0M129.4 413.2h0M128.8 409.8h0M152.2 389.5h0M136.7 406.7h0M153.2 404.6h0M146.6 414.0h0M135.5 407.8h0M139.6 414.3h0M128.5 393.6h0M128.2 411.8h0M140.2 384.6h0M140.3 412.1h0M164.6 410.1h0M141.1 388.0h0M128.5 411.1h0M134.6 375.5h0M132.8 410.7h0M158.4 363.9h0M128.6 383.4h0M138.5 401.3h0M133.0 410.2h0M130.7 412.6h0M127.9 415.5h0M130.5 414.6h0M134.0 414.1h0M132.8 410.7h0M129.3 404.9h0M139.8 411.4h0M131.8 410.8h0M132.8 413.5h0M129.7 408.7h0M131.5 389.1h0M132.3 384.9h0M129.8 397.8h0M131.7 414.5h0M135.6 410.0h0M133.5 390.6h0M131.0 398.9h0M150.6 374.0h0M128.3 394.9h0M137.5 381.7h0M141.4 415.4h0M152.3 398.6h0M147.4 373.3h0M129.9 415.3h0M128.5 384.0h0M131.6 412.1h0M129.0 413.3h0M136.8 412.7h0M136.6 390.3h0M129.6 411.8h0M131.6 405.4h0M135.3 400.1h0M138.0 403.1h0M133.2 404.0h0M133.9 415.5h0M139.9 409.8h0M159.1 395.6h0M129.3 374.0h0M153.5 395.8h0M127.8 373.8h0M146.7 404.4h0M134.3 380.5h0M128.1 414.7h0M128.6 390.4h0M129.7 377.6h0M130.9 412.1h0M158.2 403.0h0M129.8 395.7h0M133.4 394.7h0M129.7 404.7h0M129.4 413.9h0M129.7 384.8h0M130.4 415.2h0M131.0 407.7h0M138.5 389.9h0M135.2 401.3h0M135.1 405.0h0M129.9 415.7h0M131.3 394.5h0M128.2 409.7h0M170.5 403.3h0M130.0 400.9h0M128.2 414.2h0M134.7 394.5h0M131.9 407.1h0M129.5 415.3h0M133.2 389.9h0M129.7 391.5h0M143.6 372.8h0M129.1 374.5h0M128.3 402.0h0M138.8 404.8h0M130.5 396.8h0M128.4 413.6h0M142.1 408.8h0M133.4 382.9h0M133.9 403.9h0M152.3 399.1h0M133.7 406.6h0M134.9 414.6h0M175.0 415.3h0M129.6 384.2h0M137.9 370.3h0M138.8 382.3h0M131.9 387.9h0M133.8 415.7h0M131.0 405.8h0M146.7 373.2h0M173.7 399.3h0M136.0 381.7h0M129.7 415.4h0M132.0 398.9h0M131.2 414.7h0M134.2 401.5h0M147.9 370.6h0M157.5 415.5h0M128.9 407.0h0M128.2 406.2h0M132.4 378.4h0M153.5 369.6h0M131.7 413.2h0M133.7 396.0h0M128.1 415.5h0M130.6 407.6h0M130.6 396.6h0M138.1 412.0h0M128.9 401.0h0M136.2 385.1h0M130.6 410.3h0M137.3 415.3h0M130.6 397.6h0M134.7 382.2h0M132.6 407.8h0M128.9 381.3h0M148.6 415.5h0M159.6 396.9h0M131.9 407.9h0M129.2 400.5h0M134.6 392.8h0M132.0 415.3h0M141.3 402.4h0M136.2 387.4h0M131.8 377.0h0M140.7 381.0h0M133.6 408.2h0M129.4 386.1h0M145.9 396.5h0M143.7 402.7h0M159.1 415.1h0M152.4 384.4h0M128.7 392.4h0M136.9 384.8h0M129.4 414.4h0M133.1 398.5h0M132.2 376.7h0M132.8 408.2h0M131.4 409.8h0M143.6 384.2h0M128.3 414.5h0M131.8 406.4h0M129.5 403.6h0M133.5 382.8h0M133.7 415.6h0M128.3 383.8h0M151.7 391.7h0M138.4 411.1h0M135.8 415.7h0M150.9 394.5h0M153.6 390.5h0M158.9 372.1h0M132.6 413.7h0M140.1 414.2h0M128.8 402.7h0M146.3 384.1h0M144.4 374.7h0M147.5 414.5h0M132.3 410.9h0M135.6 406.3h0M131.7 397.2h0M127.9 402.7h0M143.1 414.6h0M128.8 393.6h0M137.8 406.0h0M148.5 382.5h0M129.4 396.3h0M133.2 393.4h0M129.4 398.3h0M153.1 381.7h0M128.9 410.8h0M128.3 393.3h0M144.3 398.3h0M128.2 414.4h0M143.3 398.4h0M132.9 413.6h0M131.3 398.6h0M160.8 406.6h0M128.3 391.2h0M128.7 411.1h0M154.8 372.2h0M128.6 397.1h0M131.8 405.7h0M140.2 414.0h0M131.5 415.5h0M137.7 410.7h0M128.5 415.7h0M136.8 406.9h0M135.6 405.6h0M128.5 401.4h0M133.7 411.6h0M130.9 415.1h0M142.1 384.3h0M133.2 402.4h0M130.8 409.2h0M138.4 380.0h0M128.7 373.7h0M130.8 391.8h0M137.7 410.2h0M143.0 373.9h0M137.0 387.4h0M149.0 376.7h0M128.9 415.6h0M129.1 414.4h0M128.4 401.9h0M132.7 415.0h0M154.9 338.5h0M139.0 358.8h0M126.3 364.0h0M154.9 364.6h0M119.0 370.3h0M136.8 370.3h0M134.9 375.7h0M163.5 398.0h0M161.2 405.3h0M166.6 412.3h0" stroke="#e5372a" stroke-width="2.8" stroke-linecap="round" fill="none"/>
<line x1="85.40" y1="280.20" x2="85.40" y2="426.50" stroke="#f2a93b" stroke-width="0.8" stroke-dasharray="2.6,2"/>
<line x1="127.00" y1="280.20" x2="127.00" y2="426.50" stroke="#f2a93b" stroke-width="0.8" stroke-dasharray="2.6,2"/>
<line x1="24.20" y1="416.55" x2="183.00" y2="416.55" stroke="#f2a93b" stroke-width="0.8" stroke-dasharray="2.6,2"/>
<text x="35.90" y="285.80" font-family='"Liberation Sans", sans-serif' font-size="5.3" font-weight="normal" fill="#2ea8df" text-anchor="start" textLength="22.200000000000003" lengthAdjust="spacingAndGlyphs">CYP2C19</text>
<text x="48.00" y="295.30" font-family='"Liberation Sans", sans-serif' font-size="5.3" font-weight="normal" fill="#2ea8df" text-anchor="start" textLength="20.299999999999997" lengthAdjust="spacingAndGlyphs">CLEC4M</text>
<text x="36.50" y="331.60" font-family='"Liberation Sans", sans-serif' font-size="5.3" font-weight="normal" fill="#2ea8df" text-anchor="start" textLength="20.0" lengthAdjust="spacingAndGlyphs">CLEC4G</text>
<text x="37.50" y="337.90" font-family='"Liberation Sans", sans-serif' font-size="5.3" font-weight="normal" fill="#2ea8df" text-anchor="start" textLength="20.0" lengthAdjust="spacingAndGlyphs">CLEC1B</text>
<text x="59.70" y="337.90" font-family='"Liberation Sans", sans-serif' font-size="5.3" font-weight="normal" fill="#2ea8df" text-anchor="start" textLength="9.599999999999994" lengthAdjust="spacingAndGlyphs">PZP</text>
<text x="27.00" y="343.60" font-family='"Liberation Sans", sans-serif' font-size="5.3" font-weight="normal" fill="#2ea8df" text-anchor="start" textLength="16.799999999999997" lengthAdjust="spacingAndGlyphs">KCNN2</text>
<text x="47.00" y="345.20" font-family='"Liberation Sans", sans-serif' font-size="5.3" font-weight="normal" fill="#2ea8df" text-anchor="start" textLength="18.099999999999994" lengthAdjust="spacingAndGlyphs">CXCL14</text>
<text x="75.60" y="340.50" font-family='"Liberation Sans", sans-serif' font-size="5.3" font-weight="normal" fill="#2ea8df" text-anchor="start" textLength="14.900000000000006" lengthAdjust="spacingAndGlyphs">STAB2</text>
<text x="69.30" y="346.20" font-family='"Liberation Sans", sans-serif' font-size="5.3" font-weight="normal" fill="#2ea8df" text-anchor="start" textLength="13.700000000000003" lengthAdjust="spacingAndGlyphs">ECM1</text>
<text x="25.70" y="351.60" font-family='"Liberation Sans", sans-serif' font-size="5.3" font-weight="normal" fill="#2ea8df" text-anchor="start" textLength="25.400000000000002" lengthAdjust="spacingAndGlyphs">LINC01093</text>
<text x="56.50" y="352.50" font-family='"Liberation Sans", sans-serif' font-size="5.3" font-weight="normal" fill="#2ea8df" text-anchor="start" textLength="12.799999999999997" lengthAdjust="spacingAndGlyphs">FOSB</text>
<text x="85.10" y="352.50" font-family='"Liberation Sans", sans-serif' font-size="5.3" font-weight="normal" fill="#2ea8df" text-anchor="start" textLength="12.800000000000011" lengthAdjust="spacingAndGlyphs">ASPG</text>
<text x="39.00" y="357.90" font-family='"Liberation Sans", sans-serif' font-size="5.3" font-weight="normal" fill="#2ea8df" text-anchor="start" textLength="12.100000000000001" lengthAdjust="spacingAndGlyphs">OIT3</text>
<text x="52.40" y="361.10" font-family='"Liberation Sans", sans-serif' font-size="5.3" font-weight="normal" fill="#2ea8df" text-anchor="start" textLength="17.800000000000004" lengthAdjust="spacingAndGlyphs">CRHBP</text>
<text x="72.40" y="357.90" font-family='"Liberation Sans", sans-serif' font-size="5.3" font-weight="normal" fill="#2ea8df" text-anchor="start" textLength="17.5" lengthAdjust="spacingAndGlyphs">IGFALS</text>
<text x="27.00" y="363.30" font-family='"Liberation Sans", sans-serif' font-size="5.3" font-weight="normal" fill="#2ea8df" text-anchor="start" textLength="16.799999999999997" lengthAdjust="spacingAndGlyphs">CNDP1</text>
<text x="79.70" y="364.30" font-family='"Liberation Sans", sans-serif' font-size="5.3" font-weight="normal" fill="#2ea8df" text-anchor="start" textLength="15.899999999999991" lengthAdjust="spacingAndGlyphs">VIPR1</text>
<text x="35.90" y="370.60" font-family='"Liberation Sans", sans-serif' font-size="5.3" font-weight="normal" fill="#2ea8df" text-anchor="start" textLength="13.300000000000004" lengthAdjust="spacingAndGlyphs">FCN3</text>
<text x="51.80" y="367.50" font-family='"Liberation Sans", sans-serif' font-size="5.3" font-weight="normal" fill="#2ea8df" text-anchor="start" textLength="17.5" lengthAdjust="spacingAndGlyphs">ADRA1A</text>
<text x="25.70" y="377.90" font-family='"Liberation Sans", sans-serif' font-size="5.3" font-weight="normal" fill="#2ea8df" text-anchor="start" textLength="14.000000000000004" lengthAdjust="spacingAndGlyphs">HAMP</text>
<text x="51.80" y="375.90" font-family='"Liberation Sans", sans-serif' font-size="5.3" font-weight="normal" fill="#2ea8df" text-anchor="start" textLength="10.200000000000003" lengthAdjust="spacingAndGlyphs">DNASE1L3</text>
<text x="39.70" y="383.40" font-family='"Liberation Sans", sans-serif' font-size="5.3" font-weight="normal" fill="#2ea8df" text-anchor="start" textLength="14.599999999999994" lengthAdjust="spacingAndGlyphs">TTC36</text>
<text x="59.70" y="381.10" font-family='"Liberation Sans", sans-serif' font-size="5.3" font-weight="normal" fill="#2ea8df" text-anchor="start" textLength="12.700000000000003" lengthAdjust="spacingAndGlyphs">BCO2</text>
<text x="25.70" y="389.70" font-family='"Liberation Sans", sans-serif' font-size="5.3" font-weight="normal" fill="#2ea8df" text-anchor="start" textLength="13.3" lengthAdjust="spacingAndGlyphs">MT1M</text>
<text x="151.90" y="336.60" font-family='"Liberation Sans", sans-serif' font-size="5.3" font-weight="normal" fill="#e5372a" text-anchor="start" textLength="13.599999999999994" lengthAdjust="spacingAndGlyphs">CAP2</text>
<text x="136.00" y="356.90" font-family='"Liberation Sans", sans-serif' font-size="5.3" font-weight="normal" fill="#e5372a" text-anchor="start" textLength="20" lengthAdjust="spacingAndGlyphs">CDKN2C</text>
<text x="123.30" y="362.10" font-family='"Liberation Sans", sans-serif' font-size="5.3" font-weight="normal" fill="#e5372a" text-anchor="start" textLength="12.700000000000003" lengthAdjust="spacingAndGlyphs">RFX5</text>
<text x="151.90" y="362.70" font-family='"Liberation Sans", sans-serif' font-size="5.3" font-weight="normal" fill="#e5372a" text-anchor="start" textLength="20.599999999999994" lengthAdjust="spacingAndGlyphs">NUSAP1</text>
<text x="116.00" y="368.40" font-family='"Liberation Sans", sans-serif' font-size="5.3" font-weight="normal" fill="#e5372a" text-anchor="start" textLength="15.199999999999989" lengthAdjust="spacingAndGlyphs">HSPB1</text>
<text x="133.80" y="368.40" font-family='"Liberation Sans", sans-serif' font-size="5.3" font-weight="normal" fill="#e5372a" text-anchor="start" textLength="27.599999999999994" lengthAdjust="spacingAndGlyphs">RACGAP1</text>
<text x="131.90" y="373.80" font-family='"Liberation Sans", sans-serif' font-size="5.3" font-weight="normal" fill="#e5372a" text-anchor="start" textLength="16.799999999999983" lengthAdjust="spacingAndGlyphs">CAPG</text>
<text x="160.50" y="396.10" font-family='"Liberation Sans", sans-serif' font-size="5.3" font-weight="normal" fill="#e5372a" text-anchor="start" textLength="21.5" lengthAdjust="spacingAndGlyphs">AKR1B10</text>
<text x="158.20" y="403.40" font-family='"Liberation Sans", sans-serif' font-size="5.3" font-weight="normal" fill="#e5372a" text-anchor="start" textLength="13.700000000000017" lengthAdjust="spacingAndGlyphs">GPC3</text>
<text x="163.60" y="410.40" font-family='"Liberation Sans", sans-serif' font-size="5.3" font-weight="normal" fill="#e5372a" text-anchor="start" textLength="18.400000000000006" lengthAdjust="spacingAndGlyphs">SPINK1</text>
<rect x="128.00" y="399.80" width="15.90" height="5.60" fill="#8e7fd0"/>
<text x="135.95" y="404.60" font-family='"Liberation Sans", sans-serif' font-size="4.4" font-weight="normal" fill="#e8e4ff" text-anchor="middle" textLength="13.900000000000006" lengthAdjust="spacingAndGlyphs">TRIM6</text>
<rect x="24.20" y="280.20" width="158.80" height="146.30" fill="none" stroke="#333" stroke-width="0.9"/>
<line x1="22.20" y1="420.40" x2="24.20" y2="420.40" stroke="#333" stroke-width="0.6"/>
<text x="21.70" y="423.50" font-family='"Liberation Sans", sans-serif' font-size="8.6" font-weight="normal" fill="#222" text-anchor="end">0</text>
<line x1="22.20" y1="390.80" x2="24.20" y2="390.80" stroke="#333" stroke-width="0.6"/>
<text x="21.70" y="393.90" font-family='"Liberation Sans", sans-serif' font-size="8.6" font-weight="normal" fill="#222" text-anchor="end">10</text>
<line x1="22.20" y1="361.20" x2="24.20" y2="361.20" stroke="#333" stroke-width="0.6"/>
<text x="21.70" y="364.30" font-family='"Liberation Sans", sans-serif' font-size="8.6" font-weight="normal" fill="#222" text-anchor="end">20</text>
<line x1="22.20" y1="331.60" x2="24.20" y2="331.60" stroke="#333" stroke-width="0.6"/>
<text x="21.70" y="334.70" font-family='"Liberation Sans", sans-serif' font-size="8.6" font-weight="normal" fill="#222" text-anchor="end">30</text>
<line x1="22.20" y1="302.00" x2="24.20" y2="302.00" stroke="#333" stroke-width="0.6"/>
<text x="21.70" y="305.10" font-family='"Liberation Sans", sans-serif' font-size="8.6" font-weight="normal" fill="#222" text-anchor="end">40</text>
<line x1="64.59" y1="426.50" x2="64.59" y2="428.50" stroke="#333" stroke-width="0.6"/>
<text x="64.59" y="434.90" font-family='"Liberation Sans", sans-serif' font-size="7.2" font-weight="normal" fill="#222" text-anchor="middle">-3</text>
<line x1="106.20" y1="426.50" x2="106.20" y2="428.50" stroke="#333" stroke-width="0.6"/>
<text x="106.20" y="434.90" font-family='"Liberation Sans", sans-serif' font-size="7.2" font-weight="normal" fill="#222" text-anchor="middle">0</text>
<line x1="147.81" y1="426.50" x2="147.81" y2="428.50" stroke="#333" stroke-width="0.6"/>
<text x="147.81" y="434.90" font-family='"Liberation Sans", sans-serif' font-size="7.2" font-weight="normal" fill="#222" text-anchor="middle">3</text>
<text x="25.70" y="424.30" font-family='"Liberation Serif", serif' font-size="10" font-weight="normal" fill="#111" text-anchor="start">Log<tspan font-size="5" dy="1.8">2</tspan><tspan dy="-1.8">FC &lt; -1.5</tspan></text>
<text x="181.80" y="424.30" font-family='"Liberation Serif", serif' font-size="10" font-weight="normal" fill="#111" text-anchor="end">Log<tspan font-size="5" dy="1.8">2</tspan><tspan dy="-1.8">FC &gt; 1.5</tspan></text>
<text transform="translate(12.4,341.5) rotate(-90)" font-family='"Liberation Sans", sans-serif' font-size="8.4" fill="#333" text-anchor="middle" textLength="77" lengthAdjust="spacingAndGlyphs">– Log<tspan font-size="5" dy="1.5">10</tspan><tspan dy="-1.5">(adj.</tspan><tspan font-style="italic">p</tspan>.value)</text>
<text x="103.40" y="442.50" font-family='"Liberation Sans", sans-serif' font-size="7.75" font-weight="normal" fill="#333" text-anchor="middle" textLength="65" lengthAdjust="spacingAndGlyphs">Log<tspan font-size="4.8" dy="1.5">2</tspan><tspan dy="-1.5">(Fold Change)</tspan></text>
<circle cx="190" cy="349.5" r="1.5" fill="#e5372a"/>
<text x="193.50" y="351.00" font-family='"Liberation Sans", sans-serif' font-size="4.2" font-weight="normal" fill="#222" text-anchor="start">Up</text>
<circle cx="190" cy="353.6" r="1.5" fill="#2ea8df"/>
<text x="193.50" y="355.10" font-family='"Liberation Sans", sans-serif' font-size="4.2" font-weight="normal" fill="#222" text-anchor="start">Down</text>
<circle cx="190" cy="357.7" r="1.5" fill="#cfcfcf"/>
<text x="193.50" y="359.20" font-family='"Liberation Sans", sans-serif' font-size="4.2" font-weight="normal" fill="#222" text-anchor="start">NotSig</text>
<text x="0.50" y="447.00" font-family='"Liberation Sans", sans-serif' font-size="13" font-weight="bold" fill="#000" text-anchor="start">D</text>
<line x1="24.00" y1="453.80" x2="183.00" y2="453.80" stroke="#222" stroke-width="1.2"/>
<line x1="24.00" y1="487.50" x2="183.00" y2="487.50" stroke="#222" stroke-width="1.2"/>
<text x="42.60" y="469.30" font-family='"Liberation Serif", serif' font-size="10" font-weight="normal" fill="#111" text-anchor="middle">Up</text>
<text x="42.60" y="482.00" font-family='"Liberation Serif", serif' font-size="10" font-weight="normal" fill="#111" text-anchor="middle">245</text>
<text x="88.00" y="469.30" font-family='"Liberation Serif", serif' font-size="10" font-weight="normal" fill="#111" text-anchor="middle">Down</text>
<text x="88.00" y="482.00" font-family='"Liberation Serif", serif' font-size="10" font-weight="normal" fill="#111" text-anchor="middle">362</text>
<text x="146.20" y="469.30" font-family='"Liberation Serif", serif' font-size="10" font-weight="normal" fill="#111" text-anchor="middle">Insignificance</text>
<text x="146.20" y="482.00" font-family='"Liberation Serif", serif' font-size="10" font-weight="normal" fill="#111" text-anchor="middle">22913</text>
<text x="217.30" y="9.60" font-family='"Liberation Sans", sans-serif' font-size="13" font-weight="bold" fill="#000" text-anchor="start">E</text>
<defs><clipPath id="k1"><circle cx="300.3" cy="69.1" r="52.9"/></clipPath><clipPath id="k2"><circle cx="351.9" cy="69.1" r="52.9"/></clipPath><clipPath id="k3"><circle cx="324.65" cy="115.05" r="52.9"/></clipPath></defs>
<circle cx="300.3" cy="69.1" r="52.9" fill="#fbf2de"/><circle cx="351.9" cy="69.1" r="52.9" fill="#eef4e4"/><circle cx="324.65" cy="115.05" r="52.9" fill="#e8edf8"/>
<g clip-path="url(#k1)"><circle cx="351.9" cy="69.1" r="52.9" fill="#eceacb"/><circle cx="324.65" cy="115.05" r="52.9" fill="#ebe3e6"/><g clip-path="url(#k2)"><circle cx="324.65" cy="115.05" r="52.9" fill="#dde0da"/></g></g>
<g clip-path="url(#k2)"><g clip-path="url(#k3)"><rect x="290" y="60" width="120" height="120" fill="#dcebf2"/></g></g>
<g clip-path="url(#k1)"><g clip-path="url(#k2)"><circle cx="324.65" cy="115.05" r="52.9" fill="#dde0da"/></g></g>
<g fill="none" stroke="#8a8a8a" stroke-width="0.5"><circle cx="300.3" cy="69.1" r="52.9"/><circle cx="351.9" cy="69.1" r="52.9"/><circle cx="324.65" cy="115.05" r="52.9"/></g>
<text x="251.00" y="21.00" font-family='"Liberation Sans", sans-serif' font-size="4.9" font-weight="normal" fill="#d9a24e" text-anchor="middle">GSE50579</text>
<text x="251.00" y="26.30" font-family='"Liberation Sans", sans-serif' font-size="4.9" font-weight="normal" fill="#d9a24e" text-anchor="middle">(667)</text>
<text x="396.80" y="20.20" font-family='"Liberation Sans", sans-serif' font-size="4.7" font-weight="normal" fill="#9cc77a" text-anchor="middle">GSE102791</text>
<text x="396.80" y="25.80" font-family='"Liberation Sans", sans-serif' font-size="4.7" font-weight="normal" fill="#9cc77a" text-anchor="middle">(245)</text>
<text x="370.00" y="157.60" font-family='"Liberation Sans", sans-serif' font-size="5.1" font-weight="normal" fill="#7f98d4" text-anchor="middle">TRIM Family</text>
<text x="370.60" y="163.20" font-family='"Liberation Sans", sans-serif' font-size="5.1" font-weight="normal" fill="#7f98d4" text-anchor="middle">(60)</text>
<text x="273.60" y="59.80" font-family='"Liberation Sans", sans-serif' font-size="5.3" font-weight="normal" fill="#111" text-anchor="middle">525</text>
<text x="324.90" y="48.80" font-family='"Liberation Sans", sans-serif' font-size="5.3" font-weight="normal" fill="#111" text-anchor="middle">138</text>
<text x="378.60" y="59.30" font-family='"Liberation Sans", sans-serif' font-size="5.3" font-weight="normal" fill="#111" text-anchor="middle">106</text>
<text x="324.40" y="82.70" font-family='"Liberation Sans", sans-serif' font-size="5.3" font-weight="normal" fill="#111" text-anchor="middle">1</text>
<text x="290.00" y="107.90" font-family='"Liberation Sans", sans-serif' font-size="5.3" font-weight="normal" fill="#111" text-anchor="middle">3</text>
<text x="359.60" y="107.90" font-family='"Liberation Sans", sans-serif' font-size="5.3" font-weight="normal" fill="#111" text-anchor="middle">0</text>
<text x="327.30" y="143.70" font-family='"Liberation Sans", sans-serif' font-size="5.3" font-weight="normal" fill="#111" text-anchor="middle">56</text>
<path d="M308.2 70 H340.9 V91 H308.2 Z" fill="none" stroke="#7d98d6" stroke-width="1.8" stroke-dasharray="8.5,7,1.8,7.5" stroke-dashoffset="15.5"/>
<path d="M340 70 L455 14" fill="none" stroke="#7d98d6" stroke-width="1.8" stroke-dasharray="8.5,7,1.8,7.5"/>
<path d="M340.5 90 L458.5 167.5" fill="none" stroke="#7d98d6" stroke-width="1.8" stroke-dasharray="8.5,7,1.8,7.5"/>
<rect x="448" y="5.8" width="225.5" height="167.7" rx="20" ry="20" fill="none" stroke="#7d98d6" stroke-width="1.8" stroke-dasharray="8.5,7,1.8,7.5"/>
<text x="566.20" y="28.70" font-family='"Liberation Sans", sans-serif' font-size="14.6" font-weight="bold" fill="#2b9cd6" text-anchor="middle" textLength="42" lengthAdjust="spacingAndGlyphs" stroke="#1d6b9c" stroke-width="0.55">TRIM6</text>
<path d="M478.1 41.8h0M472.9 49.5h0M482.3 48.7h0M477.5 55.6h0M480.2 56.7h0M487.5 61.6h0M495.2 56.7h0M492.0 63.9h0M493.3 65.1h0M492.3 64.2h0M495.3 62.9h0M499.1 59.5h0M496.5 61.5h0M496.0 64.1h0M500.5 59.6h0M496.7 68.0h0M498.0 68.5h0M504.6 60.6h0M503.5 65.4h0M505.0 64.3h0M507.1 66.0h0M507.3 68.9h0M509.5 70.3h0M507.6 74.8h0M508.1 77.0h0M513.1 70.9h0M513.2 77.2h0M516.3 74.0h0M516.0 71.8h0M513.8 77.0h0M518.3 78.0h0M520.0 76.0h0M519.4 81.0h0M521.6 84.7h0M527.4 80.7h0M525.3 86.2h0M530.8 80.6h0M533.6 81.8h0M530.5 89.5h0M534.2 82.9h0M536.2 83.8h0M535.8 88.7h0M539.5 89.1h0M541.3 89.0h0M543.5 90.7h0M543.7 91.7h0M548.4 92.6h0M548.6 91.6h0M551.2 89.6h0M554.3 96.0h0M555.3 93.9h0M555.7 97.2h0M560.5 97.3h0M563.0 95.1h0M561.2 95.9h0M561.1 102.3h0M568.1 98.6h0M568.3 101.4h0M566.3 102.2h0M570.6 101.5h0M572.8 100.3h0M576.2 101.0h0M578.4 103.8h0M577.6 107.1h0M581.2 103.8h0M581.3 104.9h0M579.9 108.9h0M582.2 107.7h0M581.0 113.2h0M582.4 111.4h0M583.8 108.8h0M585.2 112.4h0M587.5 107.5h0M588.3 110.3h0M593.0 117.8h0M596.6 114.9h0M597.8 122.3h0M603.7 115.7h0M605.0 123.8h0M608.5 126.3h0M610.4 126.2h0M610.3 126.8h0M613.4 125.8h0M612.2 128.9h0M616.1 122.1h0M478.2 47.9h0M481.6 49.2h0M480.6 55.3h0M486.6 51.5h0M483.6 59.4h0M478.7 54.3h0M482.2 59.5h0M494.6 64.7h0M494.2 67.2h0M496.5 71.0h0M497.7 70.9h0M526.9 117.3h0M520.1 107.7h0M536.1 117.9h0M541.7 113.5h0M522.5 125.3h0M519.3 108.5h0M524.2 137.8h0M527.9 126.2h0M532.2 131.3h0M538.4 114.0h0M517.6 126.6h0M524.7 108.5h0M538.6 119.6h0M527.3 122.5h0M524.9 128.7h0M526.3 122.8h0M522.8 131.6h0M529.7 112.9h0M529.1 120.5h0M539.5 116.0h0M525.0 136.3h0M521.3 117.9h0M518.2 132.1h0M530.4 135.9h0M532.5 125.9h0M516.5 130.4h0M536.4 123.5h0M522.9 131.3h0M520.0 122.2h0M519.1 135.7h0M529.5 112.0h0M518.5 116.7h0M519.9 134.1h0M519.4 124.2h0M528.6 110.9h0M523.3 107.5h0M515.7 112.8h0M533.1 107.0h0M542.2 118.1h0M522.4 110.2h0M516.0 131.0h0M527.2 120.1h0M535.2 110.5h0M525.4 118.3h0M522.0 124.7h0M527.3 122.0h0M531.7 129.7h0M524.4 105.5h0M535.3 120.9h0M528.3 129.1h0M539.7 128.6h0M530.5 119.9h0M521.7 108.8h0M539.1 115.1h0M525.0 119.8h0M524.3 130.9h0M531.8 123.7h0M542.8 118.9h0M534.4 118.6h0M526.3 108.6h0M514.6 122.0h0M531.7 111.9h0M515.3 123.1h0M518.2 132.8h0M529.8 132.6h0M514.6 117.0h0M534.8 130.4h0M512.9 121.7h0M532.2 115.3h0M517.7 118.0h0M540.0 131.3h0M542.5 126.2h0M534.6 123.7h0M524.2 125.6h0M536.0 110.9h0M531.1 125.1h0M521.3 135.6h0M519.4 129.6h0M530.8 130.9h0M516.9 124.1h0M520.5 119.8h0M524.3 105.5h0M516.5 128.8h0M527.6 133.6h0M535.6 115.4h0M524.4 137.9h0M522.6 129.3h0M518.5 117.9h0M521.8 115.1h0M516.8 127.4h0M529.6 114.9h0M526.5 115.9h0M527.0 113.5h0M522.0 116.5h0M518.6 132.0h0M510.8 133.5h0M522.6 141.9h0M513.1 138.6h0M529.9 138.2h0M513.5 136.9h0M518.8 137.8h0M524.0 146.7h0M524.4 133.6h0M509.6 139.6h0M512.8 139.2h0M517.4 133.2h0M515.0 135.5h0M518.1 142.5h0M518.9 133.7h0M523.2 142.0h0M526.3 145.4h0M519.0 136.5h0M518.1 144.6h0M517.7 140.6h0M523.5 139.6h0M515.9 137.4h0M526.6 134.1h0M518.7 137.6h0M521.4 144.9h0M512.6 139.5h0M547.4 111.8h0M534.1 110.5h0M538.9 104.7h0M538.6 119.0h0M541.5 119.3h0M549.4 113.9h0M541.1 105.6h0M541.3 103.4h0M549.5 110.5h0M549.0 114.7h0M538.5 114.7h0M545.4 114.4h0M545.7 107.7h0M548.4 112.9h0M538.0 118.9h0M547.6 116.5h0M543.7 111.8h0M542.2 115.2h0M536.5 115.3h0M538.1 105.0h0M544.1 109.4h0M547.4 116.7h0M545.9 110.1h0M541.8 109.7h0M534.8 108.0h0M540.0 129.5h0M543.8 131.9h0M540.7 138.8h0M536.5 134.9h0M536.7 124.0h0M533.6 126.0h0M536.1 121.8h0M529.0 126.6h0M542.0 126.7h0M531.4 128.8h0M539.4 124.5h0M531.8 126.0h0M532.8 134.3h0M530.0 131.4h0M538.8 138.6h0M536.1 134.9h0M534.4 125.3h0M544.8 131.4h0M541.8 127.3h0M540.9 131.1h0M545.5 127.9h0M540.1 124.8h0M532.6 138.0h0M539.9 134.8h0M536.8 129.3h0M536.4 139.1h0M514.9 117.2h0M512.8 128.0h0M511.5 122.4h0M509.1 121.5h0M508.7 123.4h0M518.6 123.2h0M514.1 127.6h0M521.6 126.9h0M518.6 130.5h0M516.5 122.3h0M515.4 121.3h0M518.0 125.8h0M513.2 128.5h0M515.8 134.3h0M515.7 127.3h0M520.2 130.1h0M517.4 126.4h0M516.0 130.4h0M518.8 119.0h0M511.8 123.4h0M510.6 120.7h0M531.5 88.5h0M533.2 90.6h0M534.8 95.1h0M535.1 95.1h0M536.5 96.9h0M536.6 98.3h0M538.0 98.4h0M534.7 100.4h0M619.6 113.9h0M615.4 117.9h0M618.5 118.7h0M615.7 117.5h0M612.0 117.9h0M616.8 123.8h0M622.7 119.1h0M617.5 119.4h0M620.0 124.1h0M615.7 118.8h0M620.7 120.2h0M614.1 122.2h0M622.8 120.8h0M614.2 112.9h0M626.7 115.2h0M621.1 114.1h0M622.6 113.2h0M617.1 122.5h0M612.9 123.3h0M617.6 116.0h0M625.5 120.6h0M617.8 113.4h0M623.7 121.3h0M621.3 121.8h0M619.0 123.6h0M616.3 125.7h0M622.9 114.3h0M619.2 114.2h0M619.7 112.7h0M612.7 114.5h0M624.7 122.5h0M638.4 114.7h0M629.1 104.2h0M636.2 118.7h0M641.0 111.2h0M638.5 108.6h0M640.1 109.6h0M624.1 106.5h0M640.2 105.5h0M622.6 113.1h0M642.6 114.2h0M628.5 115.7h0M627.8 112.9h0M627.3 117.9h0M637.3 117.7h0M641.4 111.1h0M632.2 104.5h0M635.6 111.2h0M627.7 110.4h0M636.9 104.1h0M639.7 116.7h0M644.7 112.7h0M632.3 106.0h0M642.1 117.1h0M632.3 104.0h0M630.8 108.0h0M631.4 102.7h0M624.3 108.1h0M626.2 108.9h0M642.3 116.2h0M630.5 107.0h0M625.2 106.0h0M627.5 111.9h0M636.2 117.2h0M631.4 104.5h0M634.6 113.6h0M625.2 105.2h0M624.1 114.9h0M626.7 111.5h0M644.8 112.7h0M643.7 112.7h0M640.9 104.5h0M638.3 104.8h0M632.8 111.2h0M636.1 114.6h0M624.1 109.1h0M630.7 109.6h0M628.7 113.7h0M631.0 103.6h0M624.4 113.7h0M639.8 113.6h0M655.2 116.8h0M644.0 119.3h0M657.3 120.3h0M643.3 123.6h0M649.3 124.2h0M647.5 119.3h0M648.5 125.8h0M648.0 120.4h0M645.9 120.5h0M647.8 117.6h0M648.5 127.3h0M655.2 114.2h0M653.2 123.6h0M645.6 116.6h0M645.7 117.9h0M656.7 121.5h0M653.5 116.4h0M641.5 118.4h0M647.9 114.4h0M650.4 112.0h0M639.9 121.5h0M643.2 111.1h0M644.4 117.5h0M653.0 124.5h0M645.5 124.2h0M643.0 119.3h0M652.6 123.3h0M652.9 119.5h0M644.6 117.0h0M650.6 113.1h0M642.5 119.8h0M645.6 111.8h0M649.7 117.1h0M653.6 113.1h0M639.2 119.0h0M643.4 120.2h0M648.8 114.3h0M648.9 119.4h0M640.3 113.0h0M640.9 118.1h0M644.8 115.0h0M652.5 119.8h0M650.5 117.2h0M655.2 113.7h0M652.6 121.1h0M647.5 114.8h0M643.5 119.1h0M645.2 117.9h0M643.7 121.5h0M626.6 127.3h0M626.3 123.8h0M627.2 127.9h0M636.2 122.7h0M627.8 132.3h0M628.1 123.9h0M634.9 127.5h0M627.5 130.7h0M628.6 119.7h0M627.6 131.0h0M635.9 121.0h0M637.3 126.5h0M638.1 129.3h0M629.0 127.1h0M631.7 121.0h0M627.3 125.6h0M637.8 123.2h0M621.2 128.3h0M626.0 128.3h0M630.7 124.5h0M629.6 121.8h0M629.9 130.2h0M626.0 127.9h0M634.6 123.2h0M635.5 120.7h0M638.4 125.5h0M656.0 128.3h0M655.2 129.2h0M653.0 124.8h0M655.7 124.3h0M659.0 121.9h0M655.2 128.6h0M657.1 127.6h0M656.6 124.5h0M653.5 123.0h0M655.4 120.7h0M654.8 124.2h0M657.3 121.5h0M653.5 129.1h0M654.2 128.8h0" stroke="#9cdde1" stroke-width="3.6" stroke-linecap="round" fill="none" stroke-opacity="0.9"/><path d="M476.4 41.5h0M476.6 41.7h0M472.9 50.4h0M476.8 47.7h0M476.3 46.6h0M480.0 44.4h0M476.6 48.3h0M475.4 52.2h0M476.9 49.2h0M475.4 53.8h0M480.9 46.5h0M482.3 46.0h0M480.1 50.5h0M481.3 50.3h0M478.2 55.3h0M480.3 55.6h0M487.6 48.9h0M483.4 57.6h0M489.2 49.9h0M487.9 57.0h0M487.3 56.2h0M486.8 62.0h0M493.3 54.3h0M493.9 55.9h0M491.3 61.6h0M493.9 57.6h0M496.8 56.6h0M497.2 60.7h0M495.2 66.3h0M495.4 68.6h0M503.3 61.2h0M496.8 69.7h0M501.9 65.9h0M504.5 62.7h0M505.3 64.8h0M501.5 71.0h0M504.5 70.8h0M506.0 69.7h0M506.0 70.7h0M510.3 66.5h0M510.0 73.4h0M511.8 72.2h0M511.8 74.3h0M514.3 70.5h0M514.4 75.5h0M516.9 74.4h0M516.8 79.1h0M520.0 74.7h0M520.4 76.7h0M523.8 75.1h0M522.9 78.6h0M522.0 84.5h0M525.2 80.4h0M526.2 80.9h0M523.7 86.1h0M526.1 84.1h0M527.7 83.5h0M530.7 85.2h0M528.9 89.5h0M533.0 82.8h0M533.5 88.3h0M534.0 88.7h0M533.8 90.6h0M535.5 89.4h0M539.3 86.4h0M538.7 91.4h0M538.7 94.1h0M539.7 90.0h0M539.1 93.7h0M542.1 87.8h0M540.0 94.3h0M541.4 90.9h0M545.2 87.4h0M544.6 93.3h0M547.2 89.5h0M547.1 87.0h0M549.0 89.1h0M545.9 95.8h0M551.5 91.7h0M551.1 95.8h0M551.7 99.2h0M550.7 97.3h0M556.1 92.9h0M556.5 95.0h0M557.7 95.6h0M556.5 100.3h0M559.6 95.6h0M561.0 101.8h0M561.9 103.9h0M566.1 96.5h0M568.2 97.2h0M563.9 100.7h0M567.3 98.4h0M566.9 104.4h0M572.1 103.8h0M572.3 104.3h0M574.2 101.3h0M571.4 108.2h0M572.5 106.8h0M571.8 108.2h0M574.4 105.5h0M577.2 102.5h0M578.4 103.4h0M576.8 109.0h0M581.0 108.5h0M581.8 112.1h0M585.9 105.8h0M587.1 113.3h0M586.9 110.9h0M589.6 108.4h0M588.5 112.5h0M588.2 113.9h0M591.3 109.3h0M592.0 113.5h0M590.1 116.2h0M594.0 109.6h0M593.0 115.1h0M592.7 116.5h0M598.9 112.3h0M595.5 119.6h0M598.4 116.9h0M600.4 114.9h0M599.3 121.8h0M599.5 120.7h0M600.6 118.4h0M601.8 119.8h0M603.2 120.5h0M603.2 119.9h0M605.6 118.4h0M607.3 117.7h0M608.8 116.7h0M608.3 118.4h0M610.6 117.8h0M605.8 124.8h0M607.8 124.8h0M611.4 119.9h0M609.7 123.3h0M613.2 120.8h0M614.0 122.1h0M615.2 123.7h0M473.0 51.6h0M475.7 52.2h0M477.8 55.3h0M480.3 56.0h0M478.7 53.2h0M483.2 58.4h0M482.4 58.1h0M484.1 60.8h0M484.8 60.8h0M489.4 60.2h0M484.2 64.5h0M487.1 64.5h0M488.4 65.7h0M495.1 61.0h0M485.1 64.4h0M491.8 63.6h0M494.1 67.5h0M490.5 66.5h0M494.0 65.2h0M493.4 68.0h0M493.7 66.5h0M498.9 64.1h0M491.0 63.1h0M499.0 68.5h0M499.3 63.5h0M531.9 118.0h0M536.1 120.2h0M525.4 131.5h0M520.4 121.7h0M527.0 108.5h0M539.7 113.5h0M526.5 110.6h0M528.8 114.7h0M515.2 121.4h0M529.5 105.9h0M517.3 112.9h0M530.5 108.4h0M534.7 110.1h0M533.6 111.9h0M520.3 115.6h0M516.1 119.4h0M525.7 107.6h0M536.2 117.9h0M516.3 115.9h0M533.9 120.9h0M530.4 111.5h0M529.5 122.2h0M533.8 110.5h0M528.5 110.8h0M520.0 112.4h0M542.6 120.5h0M530.6 114.4h0M524.0 110.8h0M520.2 124.6h0M538.8 123.5h0M530.5 117.4h0M529.2 121.2h0M525.0 124.9h0M539.3 119.6h0M542.7 123.0h0M542.7 120.2h0M536.9 123.1h0M533.7 114.0h0M539.7 127.0h0M539.3 121.8h0M534.0 124.5h0M536.8 115.6h0M528.4 133.2h0M531.2 116.8h0M537.4 119.8h0M536.1 129.0h0M536.1 122.9h0M539.9 128.5h0M524.9 119.9h0M530.3 109.3h0M523.0 109.3h0M535.4 118.6h0M531.3 106.7h0M526.1 120.6h0M524.3 113.8h0M527.8 129.6h0M516.2 127.4h0M517.3 134.2h0M520.5 119.1h0M534.7 129.8h0M530.1 124.4h0M519.0 110.8h0M530.9 136.8h0M527.3 119.2h0M529.7 131.1h0M513.6 123.8h0M535.1 136.2h0M521.6 108.7h0M520.3 120.8h0M523.7 113.4h0M517.4 116.1h0M523.6 124.7h0M523.9 124.5h0M520.3 127.9h0M520.9 123.6h0M531.8 106.2h0M534.9 137.1h0M521.9 133.6h0M517.1 133.3h0M538.2 125.4h0M533.8 128.0h0M529.9 126.8h0M521.1 112.9h0M532.2 125.5h0M527.0 134.2h0M513.8 128.0h0M518.3 110.6h0M523.1 108.1h0M540.4 125.8h0M518.9 138.6h0M521.2 143.2h0M520.3 145.0h0M519.7 135.1h0M517.8 147.2h0M520.7 137.0h0M521.1 139.9h0M527.6 140.4h0M516.9 143.0h0M521.2 130.9h0M513.3 133.1h0M515.7 142.5h0M521.5 147.1h0M524.0 131.6h0M514.0 142.9h0M510.1 138.4h0M517.4 134.9h0M510.1 139.1h0M520.3 130.9h0M509.4 141.5h0M519.6 135.1h0M516.0 133.8h0M524.8 137.9h0M524.9 136.2h0M519.4 139.6h0M523.1 143.0h0M508.4 136.8h0M520.1 131.3h0M520.5 136.7h0M512.5 138.0h0M525.5 137.9h0M509.4 135.8h0M547.3 107.8h0M542.8 110.0h0M543.9 114.9h0M538.2 111.4h0M541.3 111.8h0M537.1 104.2h0M547.9 110.6h0M545.3 113.3h0M536.6 114.8h0M535.1 114.0h0M543.6 104.2h0M541.3 103.7h0M539.1 120.1h0M542.2 109.1h0M539.2 106.8h0M549.2 115.4h0M546.3 107.0h0M543.7 108.4h0M529.8 126.2h0M529.1 133.2h0M539.5 127.9h0M537.6 139.7h0M534.3 131.1h0M536.5 120.5h0M537.0 136.0h0M537.7 136.2h0M531.7 134.5h0M528.5 129.2h0M535.8 123.6h0M540.6 121.2h0M545.1 131.7h0M529.8 131.0h0M539.2 122.1h0M538.4 138.5h0M533.6 139.0h0M544.4 134.6h0M512.8 118.8h0M516.6 132.2h0M519.3 126.5h0M514.3 133.4h0M517.9 130.1h0M512.9 131.0h0M515.5 124.2h0M517.3 131.3h0M511.2 123.4h0M519.2 132.3h0M532.8 92.4h0M533.8 93.7h0M533.2 93.9h0M533.0 94.9h0M535.4 92.6h0M533.4 99.7h0M534.3 102.1h0M534.7 103.9h0M614.0 120.9h0M621.9 112.0h0M616.4 123.1h0M622.5 112.6h0M623.4 116.5h0M626.6 115.8h0M625.6 123.3h0M612.4 122.3h0M624.4 114.8h0M621.8 116.8h0M613.6 115.8h0M613.4 119.7h0M617.9 119.1h0M614.0 121.2h0M626.7 115.5h0M616.3 112.3h0M628.8 118.4h0M616.5 117.0h0M625.6 122.9h0M621.3 119.6h0M622.9 120.2h0M619.9 116.2h0M627.1 123.8h0M622.2 122.0h0M624.1 123.7h0M618.7 125.8h0M619.4 117.2h0M617.7 121.3h0M616.2 121.4h0M631.2 111.8h0M631.8 105.6h0M631.8 106.1h0M644.6 110.7h0M629.2 113.4h0M640.6 106.7h0M629.5 113.9h0M638.7 107.9h0M633.8 112.1h0M644.8 114.5h0M626.4 106.1h0M639.6 111.7h0M626.1 106.1h0M627.9 109.0h0M637.4 102.8h0M627.6 112.7h0M623.7 113.4h0M632.0 108.9h0M632.0 113.1h0M635.9 103.2h0M635.6 103.5h0M628.8 106.3h0M626.3 108.8h0M628.3 111.9h0M638.8 114.4h0M633.2 114.7h0M623.0 107.7h0M627.4 117.0h0M637.7 118.8h0M638.6 102.7h0M627.4 113.0h0M625.8 105.5h0M633.7 107.7h0M628.8 110.7h0M627.0 115.4h0M638.1 106.9h0M634.4 115.6h0M625.5 113.4h0M636.7 111.2h0M630.8 110.5h0M630.2 110.2h0M634.5 104.7h0M637.9 112.2h0M637.5 114.5h0M633.9 110.1h0M638.2 106.5h0M643.0 112.3h0M625.6 107.5h0M636.3 113.9h0M649.8 108.5h0M644.2 124.0h0M642.9 110.9h0M639.9 121.8h0M648.1 116.2h0M642.0 111.7h0M656.1 120.4h0M654.3 112.7h0M648.0 117.3h0M643.9 114.9h0M651.4 122.5h0M650.7 112.9h0M647.4 109.0h0M645.8 116.3h0M640.1 123.2h0M650.6 111.9h0M656.0 124.0h0M647.8 117.0h0M655.0 119.2h0M654.3 112.5h0M638.4 119.5h0M649.2 125.5h0M649.0 113.1h0M642.6 125.1h0M649.6 109.4h0M645.4 118.4h0M640.3 119.3h0M641.1 120.5h0M642.3 124.6h0M642.3 120.7h0M652.9 118.8h0M622.0 123.3h0M633.4 123.3h0M633.5 125.0h0M627.5 125.8h0M628.7 119.4h0M630.3 120.5h0M623.3 126.8h0M632.8 124.4h0M623.1 126.5h0M629.5 122.5h0M630.4 119.6h0M629.4 128.7h0M638.1 122.1h0M636.7 126.3h0M630.4 121.4h0M628.5 122.7h0M632.7 124.4h0M632.3 131.6h0M635.7 124.0h0M636.1 122.2h0M622.8 125.6h0M623.2 129.5h0M634.0 131.0h0M623.5 122.9h0M633.0 125.0h0M654.7 123.3h0M653.9 125.7h0M652.4 128.3h0M655.2 118.2h0M657.2 127.4h0M652.7 127.1h0M653.4 126.5h0M655.6 124.0h0" stroke="#9cdde1" stroke-width="4.4" stroke-linecap="round" fill="none" stroke-opacity="0.9"/><path d="M474.6 51.9h0M478.1 49.0h0M475.4 55.7h0M477.2 54.3h0M481.1 53.1h0M483.5 49.7h0M479.7 55.7h0M479.8 58.1h0M482.4 55.6h0M488.6 48.8h0M483.2 59.1h0M483.8 56.8h0M483.3 60.3h0M490.2 51.3h0M487.5 57.5h0M489.2 55.6h0M492.4 51.1h0M488.6 58.3h0M486.9 58.3h0M486.4 62.0h0M493.4 56.3h0M490.7 64.4h0M496.7 54.8h0M492.5 60.1h0M494.9 59.6h0M496.1 65.7h0M499.5 62.0h0M495.1 69.2h0M499.8 70.7h0M504.5 66.2h0M502.9 72.9h0M505.6 68.6h0M505.0 71.2h0M509.7 65.2h0M507.7 70.3h0M510.7 68.1h0M511.0 69.0h0M509.0 73.1h0M511.9 72.4h0M509.4 76.8h0M511.1 77.3h0M512.2 79.7h0M514.0 80.8h0M517.4 75.8h0M515.9 79.3h0M516.8 76.3h0M516.6 79.3h0M518.3 78.8h0M518.0 81.2h0M521.5 78.7h0M520.9 81.3h0M521.7 83.8h0M519.5 83.6h0M526.6 77.9h0M524.8 82.9h0M523.8 84.3h0M523.0 85.0h0M530.1 81.1h0M526.7 86.8h0M528.1 88.7h0M531.2 82.9h0M529.9 87.5h0M535.0 82.6h0M533.4 90.2h0M536.5 89.0h0M535.3 90.8h0M536.1 91.0h0M539.8 82.6h0M540.4 85.2h0M539.8 85.0h0M540.5 84.7h0M541.4 86.0h0M546.0 88.3h0M546.6 87.2h0M543.1 93.9h0M546.1 96.3h0M549.8 88.0h0M547.6 96.1h0M548.2 98.0h0M548.9 97.0h0M549.1 95.7h0M551.9 92.3h0M551.5 95.4h0M555.3 91.3h0M552.5 97.6h0M556.2 98.0h0M556.1 96.8h0M558.6 93.1h0M556.7 98.6h0M559.8 95.8h0M559.8 100.4h0M558.1 101.0h0M562.5 93.4h0M562.5 96.0h0M563.0 98.8h0M560.8 101.9h0M562.8 101.5h0M564.6 95.9h0M565.9 95.2h0M564.3 97.6h0M567.8 98.8h0M567.2 98.3h0M567.9 104.3h0M569.1 102.9h0M567.7 105.8h0M572.2 101.4h0M574.1 104.4h0M576.3 99.1h0M577.6 101.5h0M574.3 108.2h0M577.4 103.3h0M576.7 108.7h0M575.9 110.8h0M576.8 109.7h0M580.3 107.5h0M583.8 104.8h0M581.5 110.0h0M583.6 108.4h0M582.4 112.8h0M583.2 112.0h0M587.1 107.3h0M589.7 108.5h0M588.6 112.9h0M589.7 114.9h0M592.8 107.5h0M591.4 112.9h0M592.0 111.0h0M590.4 116.0h0M591.2 116.2h0M591.8 118.2h0M591.9 118.2h0M598.0 110.9h0M594.7 117.0h0M594.7 116.8h0M595.4 120.4h0M596.7 119.9h0M598.6 118.6h0M601.4 113.1h0M598.9 120.0h0M602.2 118.2h0M606.0 116.0h0M601.2 122.2h0M601.7 121.7h0M604.0 123.9h0M609.3 120.3h0M609.2 119.6h0M608.6 122.1h0M612.0 118.4h0M611.2 122.6h0M613.4 119.7h0M611.8 129.7h0M477.5 51.8h0M477.5 53.6h0M478.2 53.9h0M479.5 56.1h0M482.2 55.9h0M485.9 60.8h0M484.3 56.1h0M480.1 60.2h0M483.6 59.0h0M488.4 62.2h0M484.3 57.0h0M484.2 61.7h0M486.5 60.1h0M493.0 63.2h0M489.6 61.2h0M483.2 63.2h0M488.0 64.4h0M484.9 64.6h0M490.6 59.7h0M491.2 67.7h0M491.2 62.6h0M488.0 67.7h0M490.5 65.9h0M496.7 64.2h0M492.4 65.8h0M497.5 67.6h0M500.1 71.7h0M500.5 67.7h0M515.7 114.4h0M536.8 132.8h0M539.5 115.0h0M518.2 129.6h0M533.6 112.7h0M532.2 131.5h0M537.6 126.7h0M530.9 134.4h0M541.1 125.5h0M531.7 111.4h0M538.6 129.3h0M516.1 119.9h0M540.9 123.0h0M536.7 132.1h0M543.5 121.7h0M523.2 115.4h0M541.5 128.6h0M517.4 126.7h0M533.2 132.9h0M529.6 128.9h0M524.3 112.0h0M524.4 128.4h0M521.6 123.9h0M514.9 125.6h0M528.1 132.0h0M532.1 122.8h0M536.0 115.2h0M539.3 110.1h0M525.5 120.6h0M539.1 126.8h0M520.2 127.1h0M530.6 131.9h0M521.3 131.6h0M539.8 118.9h0M518.5 127.2h0M529.4 121.9h0M514.3 116.4h0M520.9 134.2h0M518.6 130.8h0M539.6 113.5h0M515.0 121.1h0M529.5 126.6h0M542.3 117.5h0M530.4 122.1h0M523.2 116.8h0M523.2 130.6h0M517.0 115.9h0M522.5 111.2h0M519.9 120.9h0M540.9 112.6h0M531.4 111.7h0M538.4 120.7h0M516.6 128.1h0M529.1 105.8h0M540.6 114.4h0M524.5 129.7h0M534.3 131.9h0M527.5 121.7h0M534.2 121.2h0M527.9 109.3h0M533.0 124.3h0M538.8 125.8h0M533.5 114.1h0M529.3 131.3h0M531.1 117.2h0M525.3 126.6h0M538.5 117.6h0M514.4 120.5h0M531.1 136.1h0M534.8 119.0h0M527.1 131.6h0M528.7 129.3h0M535.4 134.9h0M519.7 111.9h0M539.7 124.0h0M533.2 111.2h0M539.6 132.1h0M515.8 144.9h0M510.0 142.1h0M519.1 142.1h0M516.2 141.9h0M520.0 140.8h0M522.0 130.5h0M524.4 137.0h0M510.7 135.8h0M520.6 147.1h0M513.0 134.4h0M514.8 136.7h0M523.7 141.5h0M514.2 137.1h0M516.9 139.2h0M516.0 137.9h0M520.4 137.9h0M520.4 131.2h0M519.0 143.7h0M512.3 142.7h0M523.8 145.5h0M519.4 130.7h0M513.6 133.8h0M522.7 144.5h0M529.8 139.8h0M519.8 138.5h0M513.2 143.7h0M522.8 141.8h0M518.1 141.9h0M511.4 145.2h0M513.5 145.3h0M513.8 141.8h0M512.8 145.0h0M536.4 110.5h0M536.9 105.1h0M536.4 111.8h0M547.1 110.1h0M548.8 112.9h0M540.7 115.6h0M535.3 116.8h0M536.0 110.1h0M533.2 110.6h0M544.2 119.0h0M543.2 112.7h0M540.0 107.6h0M546.1 113.8h0M532.8 108.4h0M540.5 115.9h0M549.8 113.3h0M539.0 116.9h0M541.6 136.3h0M539.3 130.6h0M544.2 130.3h0M532.4 124.6h0M534.5 125.4h0M538.8 124.7h0M530.4 134.1h0M532.9 121.8h0M532.7 124.7h0M530.2 133.9h0M536.7 128.6h0M542.8 127.8h0M533.8 132.3h0M536.6 133.2h0M537.5 133.0h0M534.1 133.4h0M509.6 130.7h0M519.6 124.2h0M517.1 121.2h0M521.3 127.3h0M515.5 123.6h0M512.7 121.7h0M510.4 120.0h0M516.7 134.4h0M512.2 122.2h0M619.9 118.3h0M617.6 119.4h0M617.5 115.1h0M623.3 113.1h0M613.9 121.4h0M618.4 114.3h0M621.5 120.2h0M623.5 119.7h0M619.1 120.9h0M626.2 118.5h0M624.6 123.7h0M611.6 116.9h0M624.5 113.2h0M621.2 111.9h0M624.0 122.1h0M626.1 124.4h0M620.5 112.5h0M623.0 122.2h0M612.0 120.3h0M618.4 125.2h0M620.0 124.9h0M618.0 119.3h0M619.8 125.1h0M622.9 126.4h0M625.1 115.0h0M622.5 111.7h0M623.8 123.9h0M625.2 114.8h0M616.4 118.7h0M624.0 115.9h0M638.2 114.7h0M627.7 118.5h0M633.1 110.2h0M637.7 116.0h0M642.0 111.8h0M644.1 109.0h0M643.4 110.0h0M638.1 107.7h0M633.8 103.2h0M633.8 115.9h0M630.7 107.4h0M625.2 107.6h0M632.7 111.4h0M634.0 118.1h0M641.9 115.0h0M634.1 112.6h0M627.6 111.8h0M637.4 119.4h0M641.2 111.0h0M640.4 104.6h0M643.1 111.1h0M637.4 109.1h0M634.8 108.1h0M638.2 112.8h0M628.3 106.8h0M638.0 116.1h0M634.5 113.2h0M632.3 115.4h0M644.3 115.4h0M640.1 104.4h0M629.2 108.7h0M643.7 115.1h0M625.4 108.3h0M630.1 113.0h0M626.6 108.0h0M631.0 112.4h0M641.3 106.6h0M628.4 105.1h0M641.6 115.6h0M627.4 117.8h0M630.9 114.8h0M630.0 112.7h0M645.6 115.1h0M644.1 125.4h0M642.0 114.4h0M643.9 112.8h0M655.2 115.8h0M654.2 122.2h0M644.3 109.0h0M644.2 121.3h0M654.3 111.4h0M640.9 115.4h0M643.1 111.0h0M644.6 110.0h0M643.8 124.8h0M649.5 120.9h0M649.6 123.4h0M654.6 118.2h0M649.8 127.2h0M653.9 125.2h0M647.6 123.9h0M648.9 111.7h0M649.3 115.2h0M652.0 120.7h0M654.7 119.5h0M647.8 119.1h0M638.3 119.5h0M641.2 115.5h0M646.4 124.6h0M640.8 123.5h0M647.2 120.2h0M636.0 125.1h0M624.2 121.4h0M626.5 131.9h0M625.5 126.1h0M628.7 125.3h0M634.6 132.0h0M628.5 127.8h0M625.0 131.7h0M629.5 123.2h0M636.5 120.8h0M628.3 127.4h0M631.8 127.3h0M631.5 120.3h0M623.4 122.9h0M629.2 122.7h0M620.7 126.3h0M627.7 132.6h0M622.6 123.9h0M621.0 127.0h0M631.7 123.9h0M629.8 125.4h0M637.9 127.4h0M628.8 127.9h0M621.6 125.9h0M626.4 132.5h0M627.1 128.1h0M624.8 121.9h0M638.3 128.1h0M620.3 125.3h0M654.3 128.7h0M657.9 125.4h0M653.9 126.1h0M655.9 122.3h0M658.5 119.7h0M657.8 123.3h0M657.7 127.9h0M654.0 120.8h0" stroke="#9cdde1" stroke-width="5.2" stroke-linecap="round" fill="none" stroke-opacity="0.9"/><path d="M479.4 41.7h0M481.8 43.3h0M483.2 42.9h0M484.0 43.4h0M484.1 45.0h0M478.3 56.0h0M487.5 45.1h0M487.8 46.3h0M481.4 56.5h0M490.0 49.6h0M485.5 59.0h0M497.6 55.1h0M492.3 65.3h0M493.6 66.6h0M503.3 56.8h0M505.8 59.6h0M499.3 69.8h0M507.8 61.6h0M511.6 67.4h0M512.3 67.7h0M514.6 67.5h0M514.8 68.9h0M513.5 78.9h0M523.7 75.5h0M519.7 82.9h0M519.6 84.8h0M528.5 76.6h0M531.4 78.8h0M532.6 89.8h0M535.0 91.3h0M535.5 92.6h0M543.1 84.3h0M544.5 85.9h0M545.9 96.9h0M547.0 96.9h0M553.4 88.5h0M554.1 99.0h0M554.5 100.7h0M556.1 101.6h0M560.0 101.3h0M568.3 94.5h0M568.1 105.8h0M573.8 97.9h0M576.8 100.6h0M577.2 109.7h0M578.0 110.1h0M583.8 103.1h0M586.7 105.3h0M582.8 114.8h0M588.5 105.9h0M589.9 105.3h0M593.7 107.8h0M592.6 117.8h0M593.2 118.6h0M605.5 115.1h0M608.5 115.4h0M609.5 127.2h0M541.7 113.5h0M519.3 108.5h0M543.5 121.7h0M541.5 128.6h0M518.2 132.1h0M516.5 130.4h0M542.7 120.2h0M539.3 110.1h0M519.9 134.1h0M542.2 118.1h0M542.3 117.5h0M524.4 105.5h0M517.3 134.2h0M519.0 110.8h0M530.9 136.8h0M521.6 108.7h0M518.2 132.8h0M531.8 106.2h0M534.9 137.1h0M521.3 135.6h0M517.1 133.3h0M514.4 120.5h0M524.4 137.9h0M513.8 128.0h0M523.1 108.1h0M510.8 133.5h0M520.6 147.1h0M521.5 147.1h0M529.8 139.8h0M549.4 113.9h0M549.5 110.5h0M533.2 110.6h0M547.6 116.5h0M537.6 139.7h0M536.5 120.5h0M532.9 121.8h0M532.6 138.0h0M512.8 118.8h0M514.9 117.2h0M509.1 121.5h0M508.7 123.4h0M509.6 130.7h0M521.3 127.3h0M510.4 120.0h0M516.7 134.4h0M518.8 119.0h0M612.0 117.9h0M611.6 116.9h0M626.1 124.4h0M626.7 115.5h0M616.3 112.3h0M612.9 123.3h0M622.9 126.4h0M627.7 118.5h0M629.1 104.2h0M633.8 103.2h0M622.6 113.1h0M626.1 106.1h0M637.4 102.8h0M637.4 119.4h0M640.4 104.6h0M644.7 112.7h0M642.1 117.1h0M631.4 102.7h0M623.0 107.7h0M642.3 116.2h0M638.6 102.7h0M625.8 105.5h0M644.3 115.4h0M640.9 104.5h0M624.1 109.1h0M624.4 113.7h0M649.8 108.5h0M642.9 110.9h0M639.9 121.8h0M642.0 111.7h0M648.5 127.3h0M644.3 109.0h0M656.7 121.5h0M639.9 121.5h0M644.6 110.0h0M638.3 119.5h0M642.3 124.6h0M634.6 132.0h0M635.9 121.0h0M638.1 122.1h0M638.3 128.1h0M635.5 120.7h0M655.2 129.2h0" stroke="#8fd8dc" stroke-width="2.2" stroke-linecap="round" fill="none" stroke-opacity="0.7"/><path d="M475.3 44.1h0M476.2 46.9h0M479.1 46.9h0M480.0 49.7h0M482.9 49.7h0M483.8 52.5h0M486.7 52.5h0M487.6 55.3h0M490.5 55.3h0M491.5 58.2h0M494.5 58.3h0M495.5 61.2h0M498.5 61.3h0M499.5 64.2h0M502.5 64.3h0M503.5 67.2h0M506.5 67.3h0M507.5 70.2h0M510.5 70.3h0M511.4 73.0h0M514.3 72.9h0M515.2 75.6h0M518.1 75.5h0M519.0 78.2h0M521.9 78.1h0M522.8 80.8h0M525.7 80.7h0M526.6 83.4h0M529.4 83.2h0M531.1 85.9h0M534.2 85.3h0M535.9 88.0h0M539.1 87.4h0M540.8 90.1h0M543.9 89.5h0M545.6 92.1h0M548.6 91.4h0M550.3 94.0h0M553.3 93.3h0M555.0 95.9h0M558.0 95.2h0M559.6 97.8h0M562.5 97.2h0M563.9 99.8h0M566.8 99.2h0M568.2 101.8h0M571.1 101.2h0M572.5 103.8h0M575.4 103.2h0M576.7 105.9h0M579.7 105.5h0M581.0 108.2h0M583.9 107.7h0M585.2 110.4h0M588.2 110.0h0M589.5 112.7h0M592.4 112.2h0M593.7 115.0h0M596.8 114.5h0M598.1 117.3h0M601.1 116.9h0M602.4 119.6h0M605.4 119.2h0M606.7 121.9h0M609.6 121.4h0M610.9 124.1h0M613.8 123.6h0" stroke="#1ea9b0" stroke-width="2.7" stroke-linecap="round" fill="none" stroke-opacity="0.95"/><path d="M476.0 53.0h0M478.0 54.6h0M480.0 56.2h0M482.0 57.8h0M484.0 59.4h0M486.0 61.0h0M488.0 62.2h0M490.0 63.5h0M492.0 64.8h0" stroke="#1ea9b0" stroke-width="1.8" stroke-linecap="round" fill="none" stroke-opacity="0.7"/><path d="M533.7 91.7h0M533.3 94.9h0M535.7 97.1h0M535.2 99.7h0M535.8 103.3h0M526.3 111.3h0M528.1 113.7h0M531.1 113.3h0M532.9 115.7h0M535.9 115.3h0M520.3 125.3h0M522.1 127.7h0M525.1 127.3h0M526.9 129.7h0M529.9 129.3h0M540.7 106.7h0M540.3 109.7h0M542.7 111.5h0M542.3 114.5h0M544.7 116.3h0M522.2 137.2h0M524.2 139.4h0M527.0 138.4h0M529.0 140.6h0M531.8 139.6h0M514.8 120.7h0M514.0 123.5h0M516.4 125.1h0M515.6 127.9h0M518.0 129.5h0M616.7 112.3h0M619.5 112.7h0M620.9 110.3h0M623.8 110.7h0M625.2 108.3h0M628.1 108.7h0M629.5 106.3h0M623.8 118.2h0M626.5 119.2h0M628.5 117.1h0M631.2 118.1h0M633.1 116.0h0M635.9 117.0h0M637.8 114.9h0M640.5 115.9h0M642.5 113.8h0M635.8 124.2h0M638.6 125.2h0M640.7 123.1h0M643.5 124.1h0M645.5 121.9h0M648.3 122.9h0M650.4 120.8h0M644.4 106.3h0M645.9 108.9h0M648.9 108.8h0M650.4 111.4h0M612.3 122.3h0M614.2 124.7h0M617.3 124.3h0M619.2 126.7h0" stroke="#1ea9b0" stroke-width="2.3" stroke-linecap="round" fill="none" stroke-opacity="0.75"/>
<text x="217.30" y="199.30" font-family='"Liberation Sans", sans-serif' font-size="13" font-weight="bold" fill="#000" text-anchor="start">F</text>
<line x1="241.60" y1="212.40" x2="241.60" y2="291.20" stroke="#555" stroke-width="0.6"/>
<line x1="241.60" y1="291.20" x2="372.90" y2="291.20" stroke="#555" stroke-width="0.6"/>
<line x1="240.10" y1="291.20" x2="241.60" y2="291.20" stroke="#555" stroke-width="0.5"/>
<text x="239.10" y="292.30" font-family='"Liberation Sans", sans-serif' font-size="3.2" font-weight="normal" fill="#333" text-anchor="end">0</text>
<line x1="240.10" y1="275.48" x2="241.60" y2="275.48" stroke="#555" stroke-width="0.5"/>
<text x="239.10" y="276.58" font-family='"Liberation Sans", sans-serif' font-size="3.2" font-weight="normal" fill="#333" text-anchor="end">1</text>
<line x1="240.10" y1="259.76" x2="241.60" y2="259.76" stroke="#555" stroke-width="0.5"/>
<text x="239.10" y="260.86" font-family='"Liberation Sans", sans-serif' font-size="3.2" font-weight="normal" fill="#333" text-anchor="end">2</text>
<line x1="240.10" y1="244.04" x2="241.60" y2="244.04" stroke="#555" stroke-width="0.5"/>
<text x="239.10" y="245.14" font-family='"Liberation Sans", sans-serif' font-size="3.2" font-weight="normal" fill="#333" text-anchor="end">3</text>
<line x1="240.10" y1="228.32" x2="241.60" y2="228.32" stroke="#555" stroke-width="0.5"/>
<text x="239.10" y="229.42" font-family='"Liberation Sans", sans-serif' font-size="3.2" font-weight="normal" fill="#333" text-anchor="end">4</text>
<line x1="240.10" y1="212.60" x2="241.60" y2="212.60" stroke="#555" stroke-width="0.5"/>
<text x="239.10" y="213.70" font-family='"Liberation Sans", sans-serif' font-size="3.2" font-weight="normal" fill="#333" text-anchor="end">5</text>
<line x1="274.90" y1="280.00" x2="274.90" y2="285.60" stroke="#222" stroke-width="0.55" stroke-dasharray="1.1,0.8"/>
<line x1="274.90" y1="289.40" x2="274.90" y2="291.20" stroke="#222" stroke-width="0.55" stroke-dasharray="1.1,0.8"/>
<line x1="266.90" y1="280.00" x2="282.90" y2="280.00" stroke="#222" stroke-width="0.8"/>
<line x1="266.90" y1="290.90" x2="282.90" y2="290.90" stroke="#333" stroke-width="0.4"/>
<rect x="258.90" y="285.60" width="32.00" height="3.80" fill="#3e52ad" stroke="#555" stroke-width="0.3"/>
<line x1="258.90" y1="287.50" x2="290.90" y2="287.50" stroke="#4a2a1c" stroke-width="0.9"/>
<line x1="274.90" y1="291.20" x2="274.90" y2="292.40" stroke="#555" stroke-width="0.4"/>
<text x="274.90" y="297.40" font-family='"Liberation Sans", sans-serif' font-size="3.4" font-weight="normal" fill="#666" text-anchor="middle">Normal</text>
<text x="274.90" y="300.90" font-family='"Liberation Sans", sans-serif' font-size="3.4" font-weight="normal" fill="#666" text-anchor="middle">(n=50)</text>
<line x1="340.15" y1="231.00" x2="340.15" y2="268.90" stroke="#222" stroke-width="0.55" stroke-dasharray="1.1,0.8"/>
<line x1="340.15" y1="288.00" x2="340.15" y2="291.20" stroke="#222" stroke-width="0.55" stroke-dasharray="1.1,0.8"/>
<line x1="332.17" y1="231.00" x2="348.12" y2="231.00" stroke="#222" stroke-width="0.8"/>
<line x1="332.17" y1="290.90" x2="348.12" y2="290.90" stroke="#333" stroke-width="0.4"/>
<rect x="324.20" y="268.90" width="31.90" height="19.10" fill="#e8392a" stroke="#555" stroke-width="0.3"/>
<line x1="324.20" y1="282.40" x2="356.10" y2="282.40" stroke="#4a2a1c" stroke-width="0.9"/>
<line x1="340.15" y1="291.20" x2="340.15" y2="292.40" stroke="#555" stroke-width="0.4"/>
<text x="340.15" y="297.40" font-family='"Liberation Sans", sans-serif' font-size="3.4" font-weight="normal" fill="#666" text-anchor="middle">Primary tumor</text>
<text x="340.15" y="300.90" font-family='"Liberation Sans", sans-serif' font-size="3.4" font-weight="normal" fill="#666" text-anchor="middle">(n=371)</text>
<text x="301.10" y="208.20" font-family='"Liberation Sans", sans-serif' font-size="5.2" font-weight="bold" fill="#222" text-anchor="middle" textLength="120.6" lengthAdjust="spacingAndGlyphs">Expression of TRIM6 in LIHC based on Sample types</text>
<text x="306.90" y="308.70" font-family='"Liberation Sans", sans-serif' font-size="5.2" font-weight="bold" fill="#222" text-anchor="middle" textLength="33" lengthAdjust="spacingAndGlyphs">TCGA samples</text>
<text transform="translate(234.5,251.6) rotate(-90)" font-family='"Liberation Sans", sans-serif' font-size="5.2" font-weight="bold" fill="#222" text-anchor="middle" textLength="49" lengthAdjust="spacingAndGlyphs">Transcript per million</text>
<text x="372.60" y="199.60" font-family='"Liberation Sans", sans-serif' font-size="13" font-weight="bold" fill="#000" text-anchor="start">G</text>
<line x1="399.50" y1="218.30" x2="399.50" y2="291.50" stroke="#555" stroke-width="0.6"/>
<line x1="399.50" y1="291.50" x2="530.00" y2="291.50" stroke="#555" stroke-width="0.6"/>
<line x1="398.00" y1="291.50" x2="399.50" y2="291.50" stroke="#555" stroke-width="0.5"/>
<text x="397.00" y="292.60" font-family='"Liberation Sans", sans-serif' font-size="3.2" font-weight="normal" fill="#333" text-anchor="end">0</text>
<line x1="398.00" y1="273.20" x2="399.50" y2="273.20" stroke="#555" stroke-width="0.5"/>
<text x="397.00" y="274.30" font-family='"Liberation Sans", sans-serif' font-size="3.2" font-weight="normal" fill="#333" text-anchor="end">1</text>
<line x1="398.00" y1="254.90" x2="399.50" y2="254.90" stroke="#555" stroke-width="0.5"/>
<text x="397.00" y="256.00" font-family='"Liberation Sans", sans-serif' font-size="3.2" font-weight="normal" fill="#333" text-anchor="end">2</text>
<line x1="398.00" y1="236.60" x2="399.50" y2="236.60" stroke="#555" stroke-width="0.5"/>
<text x="397.00" y="237.70" font-family='"Liberation Sans", sans-serif' font-size="3.2" font-weight="normal" fill="#333" text-anchor="end">3</text>
<line x1="398.00" y1="218.30" x2="399.50" y2="218.30" stroke="#555" stroke-width="0.5"/>
<text x="397.00" y="219.40" font-family='"Liberation Sans", sans-serif' font-size="3.2" font-weight="normal" fill="#333" text-anchor="end">4</text>
<line x1="411.20" y1="278.20" x2="411.20" y2="284.80" stroke="#222" stroke-width="0.55" stroke-dasharray="1.1,0.8"/>
<line x1="411.20" y1="288.80" x2="411.20" y2="291.50" stroke="#222" stroke-width="0.55" stroke-dasharray="1.1,0.8"/>
<line x1="408.00" y1="278.20" x2="414.40" y2="278.20" stroke="#222" stroke-width="0.8"/>
<line x1="408.00" y1="291.20" x2="414.40" y2="291.20" stroke="#333" stroke-width="0.4"/>
<rect x="404.80" y="284.80" width="12.80" height="4.00" fill="#3e52ad" stroke="#555" stroke-width="0.3"/>
<line x1="404.80" y1="286.80" x2="417.60" y2="286.80" stroke="#4a2a1c" stroke-width="0.9"/>
<line x1="411.20" y1="291.50" x2="411.20" y2="292.70" stroke="#555" stroke-width="0.4"/>
<text x="411.20" y="297.70" font-family='"Liberation Sans", sans-serif' font-size="3.4" font-weight="normal" fill="#666" text-anchor="middle">Normal</text>
<text x="411.20" y="301.20" font-family='"Liberation Sans", sans-serif' font-size="3.4" font-weight="normal" fill="#666" text-anchor="middle">(n=50)</text>
<line x1="437.30" y1="228.90" x2="437.30" y2="265.70" stroke="#222" stroke-width="0.55" stroke-dasharray="1.1,0.8"/>
<line x1="437.30" y1="287.50" x2="437.30" y2="291.50" stroke="#222" stroke-width="0.55" stroke-dasharray="1.1,0.8"/>
<line x1="433.85" y1="228.90" x2="440.75" y2="228.90" stroke="#222" stroke-width="0.8"/>
<line x1="433.85" y1="291.20" x2="440.75" y2="291.20" stroke="#333" stroke-width="0.4"/>
<rect x="430.40" y="265.70" width="13.80" height="21.80" fill="#f0892a" stroke="#555" stroke-width="0.3"/>
<line x1="430.40" y1="280.80" x2="444.20" y2="280.80" stroke="#4a2a1c" stroke-width="0.9"/>
<line x1="437.30" y1="291.50" x2="437.30" y2="292.70" stroke="#555" stroke-width="0.4"/>
<text x="437.30" y="297.70" font-family='"Liberation Sans", sans-serif' font-size="3.4" font-weight="normal" fill="#666" text-anchor="middle">Stage1</text>
<text x="437.30" y="301.20" font-family='"Liberation Sans", sans-serif' font-size="3.4" font-weight="normal" fill="#666" text-anchor="middle">(n=168)</text>
<line x1="463.10" y1="222.80" x2="463.10" y2="261.70" stroke="#222" stroke-width="0.55" stroke-dasharray="1.1,0.8"/>
<line x1="463.10" y1="286.70" x2="463.10" y2="291.50" stroke="#222" stroke-width="0.55" stroke-dasharray="1.1,0.8"/>
<line x1="459.65" y1="222.80" x2="466.55" y2="222.80" stroke="#222" stroke-width="0.8"/>
<line x1="459.65" y1="291.20" x2="466.55" y2="291.20" stroke="#333" stroke-width="0.4"/>
<rect x="456.20" y="261.70" width="13.80" height="25.00" fill="#b0692c" stroke="#555" stroke-width="0.3"/>
<line x1="456.20" y1="278.20" x2="470.00" y2="278.20" stroke="#4a2a1c" stroke-width="0.9"/>
<line x1="463.10" y1="291.50" x2="463.10" y2="292.70" stroke="#555" stroke-width="0.4"/>
<text x="463.10" y="297.70" font-family='"Liberation Sans", sans-serif' font-size="3.4" font-weight="normal" fill="#666" text-anchor="middle">Stage2</text>
<text x="463.10" y="301.20" font-family='"Liberation Sans", sans-serif' font-size="3.4" font-weight="normal" fill="#666" text-anchor="middle">(n=84)</text>
<line x1="489.05" y1="223.90" x2="489.05" y2="271.00" stroke="#222" stroke-width="0.55" stroke-dasharray="1.1,0.8"/>
<line x1="489.05" y1="288.80" x2="489.05" y2="291.50" stroke="#222" stroke-width="0.55" stroke-dasharray="1.1,0.8"/>
<line x1="485.52" y1="223.90" x2="492.58" y2="223.90" stroke="#222" stroke-width="0.8"/>
<line x1="485.52" y1="291.20" x2="492.58" y2="291.20" stroke="#333" stroke-width="0.4"/>
<rect x="482.00" y="271.00" width="14.10" height="17.80" fill="#b3d432" stroke="#555" stroke-width="0.3"/>
<line x1="482.00" y1="283.00" x2="496.10" y2="283.00" stroke="#4a2a1c" stroke-width="0.9"/>
<line x1="489.05" y1="291.50" x2="489.05" y2="292.70" stroke="#555" stroke-width="0.4"/>
<text x="489.05" y="297.70" font-family='"Liberation Sans", sans-serif' font-size="3.4" font-weight="normal" fill="#666" text-anchor="middle">Stage3</text>
<text x="489.05" y="301.20" font-family='"Liberation Sans", sans-serif' font-size="3.4" font-weight="normal" fill="#666" text-anchor="middle">(n=82)</text>
<line x1="515.05" y1="269.10" x2="515.05" y2="275.50" stroke="#222" stroke-width="0.55" stroke-dasharray="1.1,0.8"/>
<line x1="515.05" y1="285.60" x2="515.05" y2="291.50" stroke="#222" stroke-width="0.55" stroke-dasharray="1.1,0.8"/>
<line x1="511.57" y1="269.10" x2="518.52" y2="269.10" stroke="#222" stroke-width="0.8"/>
<line x1="511.57" y1="291.20" x2="518.52" y2="291.20" stroke="#333" stroke-width="0.4"/>
<rect x="508.10" y="275.50" width="13.90" height="10.10" fill="#e8392a" stroke="#555" stroke-width="0.3"/>
<line x1="508.10" y1="284.00" x2="522.00" y2="284.00" stroke="#4a2a1c" stroke-width="0.9"/>
<line x1="515.05" y1="291.50" x2="515.05" y2="292.70" stroke="#555" stroke-width="0.4"/>
<text x="515.05" y="297.70" font-family='"Liberation Sans", sans-serif' font-size="3.4" font-weight="normal" fill="#666" text-anchor="middle">Stage4</text>
<text x="515.05" y="301.20" font-family='"Liberation Sans", sans-serif' font-size="3.4" font-weight="normal" fill="#666" text-anchor="middle">(n=6)</text>
<text x="456.60" y="208.20" font-family='"Liberation Sans", sans-serif' font-size="5.2" font-weight="bold" fill="#222" text-anchor="middle" textLength="128.6" lengthAdjust="spacingAndGlyphs">Expression of TRIM6 in LIHC based on individual cancer</text>
<text x="456.20" y="214.30" font-family='"Liberation Sans", sans-serif' font-size="5.2" font-weight="bold" fill="#222" text-anchor="middle" textLength="15" lengthAdjust="spacingAndGlyphs">stages</text>
<text x="462.90" y="308.70" font-family='"Liberation Sans", sans-serif' font-size="5.2" font-weight="bold" fill="#222" text-anchor="middle" textLength="33" lengthAdjust="spacingAndGlyphs">TCGA samples</text>
<text transform="translate(389.3,254.8) rotate(-90)" font-family='"Liberation Sans", sans-serif' font-size="5.2" font-weight="bold" fill="#222" text-anchor="middle" textLength="49" lengthAdjust="spacingAndGlyphs">Transcript per million</text>
<text x="530.90" y="199.30" font-family='"Liberation Sans", sans-serif' font-size="13" font-weight="bold" fill="#000" text-anchor="start">H</text>
<line x1="553.00" y1="212.40" x2="553.00" y2="291.00" stroke="#555" stroke-width="0.6"/>
<line x1="553.00" y1="291.00" x2="683.40" y2="291.00" stroke="#555" stroke-width="0.6"/>
<line x1="551.50" y1="291.00" x2="553.00" y2="291.00" stroke="#555" stroke-width="0.5"/>
<text x="550.50" y="292.10" font-family='"Liberation Sans", sans-serif' font-size="3.2" font-weight="normal" fill="#333" text-anchor="end">0</text>
<line x1="551.50" y1="275.28" x2="553.00" y2="275.28" stroke="#555" stroke-width="0.5"/>
<text x="550.50" y="276.38" font-family='"Liberation Sans", sans-serif' font-size="3.2" font-weight="normal" fill="#333" text-anchor="end">1</text>
<line x1="551.50" y1="259.56" x2="553.00" y2="259.56" stroke="#555" stroke-width="0.5"/>
<text x="550.50" y="260.66" font-family='"Liberation Sans", sans-serif' font-size="3.2" font-weight="normal" fill="#333" text-anchor="end">2</text>
<line x1="551.50" y1="243.84" x2="553.00" y2="243.84" stroke="#555" stroke-width="0.5"/>
<text x="550.50" y="244.94" font-family='"Liberation Sans", sans-serif' font-size="3.2" font-weight="normal" fill="#333" text-anchor="end">3</text>
<line x1="551.50" y1="228.12" x2="553.00" y2="228.12" stroke="#555" stroke-width="0.5"/>
<text x="550.50" y="229.22" font-family='"Liberation Sans", sans-serif' font-size="3.2" font-weight="normal" fill="#333" text-anchor="end">4</text>
<line x1="551.50" y1="212.40" x2="553.00" y2="212.40" stroke="#555" stroke-width="0.5"/>
<text x="550.50" y="213.50" font-family='"Liberation Sans", sans-serif' font-size="3.2" font-weight="normal" fill="#333" text-anchor="end">5</text>
<line x1="566.25" y1="280.00" x2="566.25" y2="285.40" stroke="#222" stroke-width="0.55" stroke-dasharray="1.1,0.8"/>
<line x1="566.25" y1="289.40" x2="566.25" y2="291.00" stroke="#222" stroke-width="0.55" stroke-dasharray="1.1,0.8"/>
<line x1="562.92" y1="280.00" x2="569.58" y2="280.00" stroke="#222" stroke-width="0.8"/>
<line x1="562.92" y1="290.70" x2="569.58" y2="290.70" stroke="#333" stroke-width="0.4"/>
<rect x="559.60" y="285.40" width="13.30" height="4.00" fill="#3e52ad" stroke="#555" stroke-width="0.3"/>
<line x1="559.60" y1="287.40" x2="572.90" y2="287.40" stroke="#4a2a1c" stroke-width="0.9"/>
<line x1="566.25" y1="291.00" x2="566.25" y2="292.20" stroke="#555" stroke-width="0.4"/>
<text x="566.25" y="297.20" font-family='"Liberation Sans", sans-serif' font-size="3.4" font-weight="normal" fill="#666" text-anchor="middle">Normal</text>
<text x="566.25" y="300.70" font-family='"Liberation Sans", sans-serif' font-size="3.4" font-weight="normal" fill="#666" text-anchor="middle">(n=50)</text>
<line x1="593.15" y1="273.40" x2="593.15" y2="284.00" stroke="#222" stroke-width="0.55" stroke-dasharray="1.1,0.8"/>
<line x1="593.15" y1="289.40" x2="593.15" y2="291.00" stroke="#222" stroke-width="0.55" stroke-dasharray="1.1,0.8"/>
<line x1="589.97" y1="273.40" x2="596.33" y2="273.40" stroke="#222" stroke-width="0.8"/>
<line x1="589.97" y1="290.70" x2="596.33" y2="290.70" stroke="#333" stroke-width="0.4"/>
<rect x="586.80" y="284.00" width="12.70" height="5.40" fill="#f0892a" stroke="#555" stroke-width="0.3"/>
<line x1="586.80" y1="286.70" x2="599.50" y2="286.70" stroke="#4a2a1c" stroke-width="0.9"/>
<line x1="593.15" y1="291.00" x2="593.15" y2="292.20" stroke="#555" stroke-width="0.4"/>
<text x="593.15" y="297.20" font-family='"Liberation Sans", sans-serif' font-size="3.4" font-weight="normal" fill="#666" text-anchor="middle">Grade 1</text>
<text x="593.15" y="300.70" font-family='"Liberation Sans", sans-serif' font-size="3.4" font-weight="normal" fill="#666" text-anchor="middle">(n=54)</text>
<line x1="619.25" y1="230.30" x2="619.25" y2="268.90" stroke="#222" stroke-width="0.55" stroke-dasharray="1.1,0.8"/>
<line x1="619.25" y1="288.00" x2="619.25" y2="291.00" stroke="#222" stroke-width="0.55" stroke-dasharray="1.1,0.8"/>
<line x1="616.08" y1="230.30" x2="622.42" y2="230.30" stroke="#222" stroke-width="0.8"/>
<line x1="616.08" y1="290.70" x2="622.42" y2="290.70" stroke="#333" stroke-width="0.4"/>
<rect x="612.90" y="268.90" width="12.70" height="19.10" fill="#b3d432" stroke="#555" stroke-width="0.3"/>
<line x1="612.90" y1="280.80" x2="625.60" y2="280.80" stroke="#4a2a1c" stroke-width="0.9"/>
<line x1="619.25" y1="291.00" x2="619.25" y2="292.20" stroke="#555" stroke-width="0.4"/>
<text x="619.25" y="297.20" font-family='"Liberation Sans", sans-serif' font-size="3.4" font-weight="normal" fill="#666" text-anchor="middle">Grade 2</text>
<text x="619.25" y="300.70" font-family='"Liberation Sans", sans-serif' font-size="3.4" font-weight="normal" fill="#666" text-anchor="middle">(n=173)</text>
<line x1="644.85" y1="223.10" x2="644.85" y2="263.00" stroke="#222" stroke-width="0.55" stroke-dasharray="1.1,0.8"/>
<line x1="644.85" y1="285.60" x2="644.85" y2="291.00" stroke="#222" stroke-width="0.55" stroke-dasharray="1.1,0.8"/>
<line x1="641.53" y1="223.10" x2="648.17" y2="223.10" stroke="#222" stroke-width="0.8"/>
<line x1="641.53" y1="290.70" x2="648.17" y2="290.70" stroke="#333" stroke-width="0.4"/>
<rect x="638.20" y="263.00" width="13.30" height="22.60" fill="#b0692c" stroke="#555" stroke-width="0.3"/>
<line x1="638.20" y1="279.00" x2="651.50" y2="279.00" stroke="#4a2a1c" stroke-width="0.9"/>
<line x1="644.85" y1="291.00" x2="644.85" y2="292.20" stroke="#555" stroke-width="0.4"/>
<text x="644.85" y="297.20" font-family='"Liberation Sans", sans-serif' font-size="3.4" font-weight="normal" fill="#666" text-anchor="middle">Grade 3</text>
<text x="644.85" y="300.70" font-family='"Liberation Sans", sans-serif' font-size="3.4" font-weight="normal" fill="#666" text-anchor="middle">(n=118)</text>
<line x1="670.65" y1="250.50" x2="670.65" y2="269.70" stroke="#222" stroke-width="0.55" stroke-dasharray="1.1,0.8"/>
<line x1="670.65" y1="288.00" x2="670.65" y2="291.00" stroke="#222" stroke-width="0.55" stroke-dasharray="1.1,0.8"/>
<line x1="667.33" y1="250.50" x2="673.97" y2="250.50" stroke="#222" stroke-width="0.8"/>
<line x1="667.33" y1="290.70" x2="673.97" y2="290.70" stroke="#333" stroke-width="0.4"/>
<rect x="664.00" y="269.70" width="13.30" height="18.30" fill="#cc3aa0" stroke="#555" stroke-width="0.3"/>
<line x1="664.00" y1="287.00" x2="677.30" y2="287.00" stroke="#4a2a1c" stroke-width="0.9"/>
<line x1="670.65" y1="291.00" x2="670.65" y2="292.20" stroke="#555" stroke-width="0.4"/>
<text x="670.65" y="297.20" font-family='"Liberation Sans", sans-serif' font-size="3.4" font-weight="normal" fill="#666" text-anchor="middle">Grade 4</text>
<text x="670.65" y="300.70" font-family='"Liberation Sans", sans-serif' font-size="3.4" font-weight="normal" fill="#666" text-anchor="middle">(n=12)</text>
<text x="612.60" y="208.20" font-family='"Liberation Sans", sans-serif' font-size="5.2" font-weight="bold" fill="#222" text-anchor="middle" textLength="116.6" lengthAdjust="spacingAndGlyphs">Expression of TRIM6 in LIHC based on tumor grade</text>
<text x="618.20" y="308.70" font-family='"Liberation Sans", sans-serif' font-size="5.2" font-weight="bold" fill="#222" text-anchor="middle" textLength="33" lengthAdjust="spacingAndGlyphs">TCGA samples</text>
<text transform="translate(545.6,251.6) rotate(-90)" font-family='"Liberation Sans", sans-serif' font-size="5.2" font-weight="bold" fill="#222" text-anchor="middle" textLength="49" lengthAdjust="spacingAndGlyphs">Transcript per million</text>
<line x1="525.00" y1="291.00" x2="529.00" y2="291.00" stroke="#555" stroke-width="0.6"/>
<text x="217.30" y="338.30" font-family='"Liberation Sans", sans-serif' font-size="13" font-weight="bold" fill="#000" text-anchor="start">I</text>
<line x1="254.70" y1="358.10" x2="254.70" y2="448.60" stroke="#111" stroke-width="0.9"/>
<line x1="254.70" y1="448.60" x2="314.60" y2="448.60" stroke="#111" stroke-width="0.9"/>
<line x1="252.20" y1="448.60" x2="254.70" y2="448.60" stroke="#111" stroke-width="0.8"/>
<text x="251.20" y="451.20" font-family='"Liberation Sans", sans-serif' font-size="7.2" font-weight="normal" fill="#111" text-anchor="end">0</text>
<line x1="252.20" y1="430.60" x2="254.70" y2="430.60" stroke="#111" stroke-width="0.8"/>
<text x="251.20" y="433.20" font-family='"Liberation Sans", sans-serif' font-size="7.2" font-weight="normal" fill="#111" text-anchor="end">2</text>
<line x1="252.20" y1="412.60" x2="254.70" y2="412.60" stroke="#111" stroke-width="0.8"/>
<text x="251.20" y="415.20" font-family='"Liberation Sans", sans-serif' font-size="7.2" font-weight="normal" fill="#111" text-anchor="end">4</text>
<line x1="252.20" y1="394.60" x2="254.70" y2="394.60" stroke="#111" stroke-width="0.8"/>
<text x="251.20" y="397.20" font-family='"Liberation Sans", sans-serif' font-size="7.2" font-weight="normal" fill="#111" text-anchor="end">6</text>
<line x1="252.20" y1="376.60" x2="254.70" y2="376.60" stroke="#111" stroke-width="0.8"/>
<text x="251.20" y="379.20" font-family='"Liberation Sans", sans-serif' font-size="7.2" font-weight="normal" fill="#111" text-anchor="end">8</text>
<line x1="252.20" y1="358.60" x2="254.70" y2="358.60" stroke="#111" stroke-width="0.8"/>
<text x="251.20" y="361.20" font-family='"Liberation Sans", sans-serif' font-size="7.2" font-weight="normal" fill="#111" text-anchor="end">10</text>
<line x1="271.50" y1="448.60" x2="271.50" y2="451.10" stroke="#111" stroke-width="0.8"/>
<circle cx="270.7" cy="376.6" r="2.1" fill="#e6a6cf" fill-opacity="0.42"/>
<circle cx="272.5" cy="423.4" r="2.1" fill="#e6a6cf" fill-opacity="0.42"/>
<circle cx="264.8" cy="410.1" r="2.1" fill="#e6a6cf" fill-opacity="0.42"/>
<circle cx="276.2" cy="410.1" r="2.1" fill="#e6a6cf" fill-opacity="0.42"/>
<circle cx="278.4" cy="407.7" r="2.1" fill="#e6a6cf" fill-opacity="0.42"/>
<circle cx="271.1" cy="399.0" r="2.1" fill="#e6a6cf" fill-opacity="0.42"/>
<circle cx="273.3" cy="400.6" r="2.1" fill="#e6a6cf" fill-opacity="0.42"/>
<circle cx="267.4" cy="418.2" r="2.1" fill="#e6a6cf" fill-opacity="0.42"/>
<circle cx="271.7" cy="422.2" r="2.1" fill="#e6a6cf" fill-opacity="0.42"/>
<circle cx="273.9" cy="423.4" r="2.1" fill="#e6a6cf" fill-opacity="0.42"/>
<circle cx="275.1" cy="409.1" r="2.1" fill="#e6a6cf" fill-opacity="0.42"/>
<circle cx="272.8" cy="410.8" r="2.1" fill="#e6a6cf" fill-opacity="0.42"/>
<circle cx="276.6" cy="408.1" r="2.1" fill="#e6a6cf" fill-opacity="0.42"/>
<circle cx="271.1" cy="404.5" r="2.1" fill="#e6a6cf" fill-opacity="0.42"/>
<circle cx="274.4" cy="411.7" r="2.1" fill="#e6a6cf" fill-opacity="0.42"/>
<circle cx="275.6" cy="423.4" r="2.1" fill="#e6a6cf" fill-opacity="0.42"/>
<circle cx="271.0" cy="423.2" r="2.1" fill="#e6a6cf" fill-opacity="0.42"/>
<circle cx="276.4" cy="394.8" r="2.1" fill="#e6a6cf" fill-opacity="0.42"/>
<circle cx="266.5" cy="403.5" r="2.1" fill="#e6a6cf" fill-opacity="0.42"/>
<circle cx="267.6" cy="410.7" r="2.1" fill="#e6a6cf" fill-opacity="0.42"/>
<circle cx="273.0" cy="395.4" r="2.1" fill="#e6a6cf" fill-opacity="0.42"/>
<circle cx="268.7" cy="409.8" r="2.1" fill="#e6a6cf" fill-opacity="0.42"/>
<circle cx="269.8" cy="418.3" r="2.1" fill="#e6a6cf" fill-opacity="0.42"/>
<circle cx="272.7" cy="407.7" r="2.1" fill="#e6a6cf" fill-opacity="0.42"/>
<circle cx="273.3" cy="423.4" r="2.1" fill="#e6a6cf" fill-opacity="0.42"/>
<circle cx="276.3" cy="419.5" r="2.1" fill="#e6a6cf" fill-opacity="0.42"/>
<circle cx="272.9" cy="385.8" r="2.1" fill="#e6a6cf" fill-opacity="0.42"/>
<circle cx="268.2" cy="423.4" r="2.1" fill="#e6a6cf" fill-opacity="0.42"/>
<circle cx="275.1" cy="388.6" r="2.1" fill="#e6a6cf" fill-opacity="0.42"/>
<circle cx="272.2" cy="423.4" r="2.1" fill="#e6a6cf" fill-opacity="0.42"/>
<circle cx="276.1" cy="408.9" r="2.1" fill="#e6a6cf" fill-opacity="0.42"/>
<circle cx="272.4" cy="414.7" r="2.1" fill="#e6a6cf" fill-opacity="0.42"/>
<circle cx="276.4" cy="408.1" r="2.1" fill="#e6a6cf" fill-opacity="0.42"/>
<circle cx="278.2" cy="403.2" r="2.1" fill="#e6a6cf" fill-opacity="0.42"/>
<circle cx="270.7" cy="390.0" r="2.1" fill="#e6a6cf" fill-opacity="0.42"/>
<circle cx="267.4" cy="396.5" r="2.1" fill="#e6a6cf" fill-opacity="0.42"/>
<circle cx="276.5" cy="412.4" r="2.1" fill="#e6a6cf" fill-opacity="0.42"/>
<circle cx="267.4" cy="388.7" r="2.1" fill="#e6a6cf" fill-opacity="0.42"/>
<circle cx="274.5" cy="409.8" r="2.1" fill="#e6a6cf" fill-opacity="0.42"/>
<circle cx="269.2" cy="409.4" r="2.1" fill="#e6a6cf" fill-opacity="0.42"/>
<circle cx="271.5" cy="384.0" r="2.1" fill="#e6a6cf" fill-opacity="0.42"/>
<circle cx="276.4" cy="423.4" r="2.1" fill="#e6a6cf" fill-opacity="0.42"/>
<circle cx="272.9" cy="408.8" r="2.1" fill="#e6a6cf" fill-opacity="0.42"/>
<circle cx="265.1" cy="403.0" r="2.1" fill="#e6a6cf" fill-opacity="0.42"/>
<circle cx="273.0" cy="403.5" r="2.1" fill="#e6a6cf" fill-opacity="0.42"/>
<circle cx="267.4" cy="396.3" r="2.1" fill="#e6a6cf" fill-opacity="0.42"/>
<circle cx="270.0" cy="385.4" r="2.1" fill="#e6a6cf" fill-opacity="0.42"/>
<circle cx="277.6" cy="401.2" r="2.1" fill="#e6a6cf" fill-opacity="0.42"/>
<circle cx="271.0" cy="398.5" r="2.1" fill="#e6a6cf" fill-opacity="0.42"/>
<circle cx="271.8" cy="413.8" r="2.1" fill="#e6a6cf" fill-opacity="0.42"/>
<circle cx="272.2" cy="416.6" r="2.1" fill="#e6a6cf" fill-opacity="0.42"/>
<circle cx="272.9" cy="419.1" r="2.1" fill="#e6a6cf" fill-opacity="0.42"/>
<circle cx="270.7" cy="394.7" r="2.1" fill="#e6a6cf" fill-opacity="0.42"/>
<circle cx="274.5" cy="412.1" r="2.1" fill="#e6a6cf" fill-opacity="0.42"/>
<circle cx="278.2" cy="406.5" r="2.1" fill="#e6a6cf" fill-opacity="0.42"/>
<circle cx="271.8" cy="397.7" r="2.1" fill="#e6a6cf" fill-opacity="0.42"/>
<circle cx="270.3" cy="408.8" r="2.1" fill="#e6a6cf" fill-opacity="0.42"/>
<circle cx="272.6" cy="407.7" r="2.1" fill="#e6a6cf" fill-opacity="0.42"/>
<circle cx="272.8" cy="391.8" r="2.1" fill="#e6a6cf" fill-opacity="0.42"/>
<circle cx="265.4" cy="405.2" r="2.1" fill="#e6a6cf" fill-opacity="0.42"/>
<circle cx="273.7" cy="416.0" r="2.1" fill="#e6a6cf" fill-opacity="0.42"/>
<line x1="262.90" y1="407.20" x2="280.10" y2="407.20" stroke="#222" stroke-width="1.0"/>
<line x1="271.50" y1="418.45" x2="271.50" y2="395.95" stroke="#222" stroke-width="1.0"/>
<line x1="267.03" y1="418.45" x2="275.97" y2="418.45" stroke="#222" stroke-width="1.0"/>
<line x1="267.03" y1="395.95" x2="275.97" y2="395.95" stroke="#222" stroke-width="1.0"/>
<line x1="297.80" y1="448.60" x2="297.80" y2="451.10" stroke="#111" stroke-width="0.8"/>
<rect x="293.1" y="409.5" width="4.4" height="4.4" fill="#9aa8e6" fill-opacity="0.6"/>
<rect x="287.5" y="420.3" width="4.4" height="4.4" fill="#9aa8e6" fill-opacity="0.6"/>
<rect x="288.1" y="419.8" width="4.4" height="4.4" fill="#9aa8e6" fill-opacity="0.6"/>
<rect x="291.4" y="418.3" width="4.4" height="4.4" fill="#9aa8e6" fill-opacity="0.6"/>
<rect x="294.9" y="420.3" width="4.4" height="4.4" fill="#9aa8e6" fill-opacity="0.6"/>
<rect x="293.3" y="416.9" width="4.4" height="4.4" fill="#9aa8e6" fill-opacity="0.6"/>
<rect x="292.4" y="416.1" width="4.4" height="4.4" fill="#9aa8e6" fill-opacity="0.6"/>
<rect x="292.2" y="417.5" width="4.4" height="4.4" fill="#9aa8e6" fill-opacity="0.6"/>
<rect x="293.5" y="411.1" width="4.4" height="4.4" fill="#9aa8e6" fill-opacity="0.6"/>
<rect x="296.8" y="414.3" width="4.4" height="4.4" fill="#9aa8e6" fill-opacity="0.6"/>
<line x1="289.20" y1="416.65" x2="306.40" y2="416.65" stroke="#222" stroke-width="1.0"/>
<line x1="297.80" y1="420.25" x2="297.80" y2="413.50" stroke="#222" stroke-width="1.0"/>
<line x1="293.33" y1="420.25" x2="302.27" y2="420.25" stroke="#222" stroke-width="1.0"/>
<line x1="293.33" y1="413.50" x2="302.27" y2="413.50" stroke="#222" stroke-width="1.0"/>
<path d="M271.5,371.5 L271.5,366.2 L297.8,366.2 L297.8,405.6" fill="none" stroke="#111" stroke-width="0.9"/>
<text x="284.65" y="366.00" font-family='"Liberation Sans", sans-serif' font-size="10.5" font-weight="bold" fill="#111" text-anchor="middle" textLength="10" lengthAdjust="spacingAndGlyphs">**</text>
<text x="285.00" y="346.60" font-family='"Liberation Sans", sans-serif' font-size="8.8" font-weight="bold" fill="#111" text-anchor="middle" textLength="42.4" lengthAdjust="spacingAndGlyphs">GSE62232</text>
<text transform="translate(229.3,402.5) rotate(-90)" font-family='"Liberation Sans", sans-serif' font-size="6.6" font-weight="normal" fill="#111" text-anchor="middle" textLength="79" lengthAdjust="spacingAndGlyphs">Relative mRNA expression</text>
<text transform="translate(236.8,402.5) rotate(-90)" font-family='"Liberation Sans", sans-serif' font-size="6.6" font-weight="normal" fill="#111" text-anchor="middle" textLength="27" lengthAdjust="spacingAndGlyphs">of TRIM6</text>
<text transform="translate(274.8,457.6) rotate(-45)" font-family='"Liberation Sans", sans-serif' font-size="6.6" font-weight="bold" fill="#111" text-anchor="end" textLength="36" lengthAdjust="spacingAndGlyphs">Tumor(61)</text>
<text transform="translate(301.3,457.6) rotate(-45)" font-family='"Liberation Sans", sans-serif' font-size="6.6" font-weight="bold" fill="#111" text-anchor="end" textLength="39" lengthAdjust="spacingAndGlyphs">Normal(10)</text>
<text x="326.80" y="338.30" font-family='"Liberation Sans", sans-serif' font-size="13" font-weight="bold" fill="#000" text-anchor="start">J</text>
<line x1="361.80" y1="357.90" x2="361.80" y2="449.40" stroke="#111" stroke-width="0.9"/>
<line x1="361.80" y1="449.40" x2="423.70" y2="449.40" stroke="#111" stroke-width="0.9"/>
<line x1="359.30" y1="449.40" x2="361.80" y2="449.40" stroke="#111" stroke-width="0.8"/>
<text x="358.30" y="452.00" font-family='"Liberation Sans", sans-serif' font-size="7.2" font-weight="normal" fill="#111" text-anchor="end">0</text>
<line x1="359.30" y1="426.66" x2="361.80" y2="426.66" stroke="#111" stroke-width="0.8"/>
<text x="358.30" y="429.26" font-family='"Liberation Sans", sans-serif' font-size="7.2" font-weight="normal" fill="#111" text-anchor="end">2</text>
<line x1="359.30" y1="403.92" x2="361.80" y2="403.92" stroke="#111" stroke-width="0.8"/>
<text x="358.30" y="406.52" font-family='"Liberation Sans", sans-serif' font-size="7.2" font-weight="normal" fill="#111" text-anchor="end">4</text>
<line x1="359.30" y1="381.18" x2="361.80" y2="381.18" stroke="#111" stroke-width="0.8"/>
<text x="358.30" y="383.78" font-family='"Liberation Sans", sans-serif' font-size="7.2" font-weight="normal" fill="#111" text-anchor="end">6</text>
<line x1="359.30" y1="358.44" x2="361.80" y2="358.44" stroke="#111" stroke-width="0.8"/>
<text x="358.30" y="361.04" font-family='"Liberation Sans", sans-serif' font-size="7.2" font-weight="normal" fill="#111" text-anchor="end">8</text>
<line x1="379.20" y1="449.40" x2="379.20" y2="451.90" stroke="#111" stroke-width="0.8"/>
<circle cx="378.1" cy="375.5" r="2.3" fill="#e6a6cf" fill-opacity="0.5"/>
<circle cx="375.8" cy="416.4" r="2.3" fill="#e6a6cf" fill-opacity="0.5"/>
<circle cx="384.9" cy="384.1" r="2.3" fill="#e6a6cf" fill-opacity="0.5"/>
<circle cx="383.9" cy="390.4" r="2.3" fill="#e6a6cf" fill-opacity="0.5"/>
<circle cx="379.8" cy="394.6" r="2.3" fill="#e6a6cf" fill-opacity="0.5"/>
<circle cx="375.9" cy="404.0" r="2.3" fill="#e6a6cf" fill-opacity="0.5"/>
<circle cx="374.7" cy="392.7" r="2.3" fill="#e6a6cf" fill-opacity="0.5"/>
<circle cx="385.8" cy="390.3" r="2.3" fill="#e6a6cf" fill-opacity="0.5"/>
<circle cx="383.4" cy="384.8" r="2.3" fill="#e6a6cf" fill-opacity="0.5"/>
<circle cx="376.0" cy="414.9" r="2.3" fill="#e6a6cf" fill-opacity="0.5"/>
<circle cx="382.7" cy="401.7" r="2.3" fill="#e6a6cf" fill-opacity="0.5"/>
<circle cx="383.4" cy="379.4" r="2.3" fill="#e6a6cf" fill-opacity="0.5"/>
<circle cx="380.9" cy="391.6" r="2.3" fill="#e6a6cf" fill-opacity="0.5"/>
<circle cx="381.9" cy="399.0" r="2.3" fill="#e6a6cf" fill-opacity="0.5"/>
<line x1="370.40" y1="395.39" x2="388.00" y2="395.39" stroke="#222" stroke-width="1.0"/>
<line x1="379.20" y1="407.33" x2="379.20" y2="382.89" stroke="#222" stroke-width="1.0"/>
<line x1="374.62" y1="407.33" x2="383.78" y2="407.33" stroke="#222" stroke-width="1.0"/>
<line x1="374.62" y1="382.89" x2="383.78" y2="382.89" stroke="#222" stroke-width="1.0"/>
<line x1="405.30" y1="449.40" x2="405.30" y2="451.90" stroke="#111" stroke-width="0.8"/>
<rect x="402.7" y="388.1" width="4.4" height="4.4" fill="#9aa8e6" fill-opacity="0.6"/>
<rect x="396.5" y="426.7" width="4.4" height="4.4" fill="#9aa8e6" fill-opacity="0.6"/>
<rect x="403.9" y="388.1" width="4.4" height="4.4" fill="#9aa8e6" fill-opacity="0.6"/>
<rect x="399.9" y="411.5" width="4.4" height="4.4" fill="#9aa8e6" fill-opacity="0.6"/>
<rect x="409.2" y="393.7" width="4.4" height="4.4" fill="#9aa8e6" fill-opacity="0.6"/>
<rect x="408.7" y="410.6" width="4.4" height="4.4" fill="#9aa8e6" fill-opacity="0.6"/>
<rect x="404.7" y="413.7" width="4.4" height="4.4" fill="#9aa8e6" fill-opacity="0.6"/>
<rect x="402.0" y="404.5" width="4.4" height="4.4" fill="#9aa8e6" fill-opacity="0.6"/>
<rect x="408.1" y="399.8" width="4.4" height="4.4" fill="#9aa8e6" fill-opacity="0.6"/>
<rect x="395.8" y="397.2" width="4.4" height="4.4" fill="#9aa8e6" fill-opacity="0.6"/>
<rect x="399.6" y="391.4" width="4.4" height="4.4" fill="#9aa8e6" fill-opacity="0.6"/>
<rect x="403.7" y="400.2" width="4.4" height="4.4" fill="#9aa8e6" fill-opacity="0.6"/>
<rect x="411.1" y="412.4" width="4.4" height="4.4" fill="#9aa8e6" fill-opacity="0.6"/>
<rect x="398.2" y="402.4" width="4.4" height="4.4" fill="#9aa8e6" fill-opacity="0.6"/>
<line x1="396.50" y1="406.19" x2="414.10" y2="406.19" stroke="#222" stroke-width="1.0"/>
<line x1="405.30" y1="415.29" x2="405.30" y2="396.53" stroke="#222" stroke-width="1.0"/>
<line x1="400.72" y1="415.29" x2="409.88" y2="415.29" stroke="#222" stroke-width="1.0"/>
<line x1="400.72" y1="396.53" x2="409.88" y2="396.53" stroke="#222" stroke-width="1.0"/>
<path d="M379.2,370.2 L379.2,365.1 L405.3,365.1 L405.3,386.9" fill="none" stroke="#111" stroke-width="0.9"/>
<text x="392.25" y="364.90" font-family='"Liberation Sans", sans-serif' font-size="10.5" font-weight="bold" fill="#111" text-anchor="middle" textLength="5" lengthAdjust="spacingAndGlyphs">*</text>
<text x="392.50" y="346.50" font-family='"Liberation Sans", sans-serif' font-size="8.8" font-weight="bold" fill="#111" text-anchor="middle" textLength="43.8" lengthAdjust="spacingAndGlyphs">GSE84402</text>
<text transform="translate(340.5,403.8) rotate(-90)" font-family='"Liberation Sans", sans-serif' font-size="6.6" font-weight="bold" fill="#111" text-anchor="middle" textLength="86" lengthAdjust="spacingAndGlyphs">Relative mRNA expression</text>
<text transform="translate(348.0,403.8) rotate(-90)" font-family='"Liberation Sans", sans-serif' font-size="6.6" font-weight="bold" fill="#111" text-anchor="middle" textLength="28" lengthAdjust="spacingAndGlyphs">of TRIM6</text>
<text transform="translate(382.5,458.6) rotate(-45)" font-family='"Liberation Sans", sans-serif' font-size="6.6" font-weight="bold" fill="#111" text-anchor="end" textLength="36" lengthAdjust="spacingAndGlyphs">Tumor(14)</text>
<text transform="translate(408.8,458.6) rotate(-45)" font-family='"Liberation Sans", sans-serif' font-size="6.6" font-weight="bold" fill="#111" text-anchor="end" textLength="39" lengthAdjust="spacingAndGlyphs">Normal(14)</text>
<text x="434.00" y="338.30" font-family='"Liberation Sans", sans-serif' font-size="13" font-weight="bold" fill="#000" text-anchor="start">K</text>
<line x1="471.10" y1="357.90" x2="471.10" y2="450.40" stroke="#111" stroke-width="0.9"/>
<line x1="471.10" y1="450.40" x2="532.00" y2="450.40" stroke="#111" stroke-width="0.9"/>
<line x1="468.60" y1="450.40" x2="471.10" y2="450.40" stroke="#111" stroke-width="0.8"/>
<text x="467.60" y="453.00" font-family='"Liberation Sans", sans-serif' font-size="7.2" font-weight="normal" fill="#111" text-anchor="end">0</text>
<line x1="468.60" y1="427.40" x2="471.10" y2="427.40" stroke="#111" stroke-width="0.8"/>
<text x="467.60" y="430.00" font-family='"Liberation Sans", sans-serif' font-size="7.2" font-weight="normal" fill="#111" text-anchor="end">2</text>
<line x1="468.60" y1="404.40" x2="471.10" y2="404.40" stroke="#111" stroke-width="0.8"/>
<text x="467.60" y="407.00" font-family='"Liberation Sans", sans-serif' font-size="7.2" font-weight="normal" fill="#111" text-anchor="end">4</text>
<line x1="468.60" y1="381.40" x2="471.10" y2="381.40" stroke="#111" stroke-width="0.8"/>
<text x="467.60" y="384.00" font-family='"Liberation Sans", sans-serif' font-size="7.2" font-weight="normal" fill="#111" text-anchor="end">6</text>
<line x1="468.60" y1="358.40" x2="471.10" y2="358.40" stroke="#111" stroke-width="0.8"/>
<text x="467.60" y="361.00" font-family='"Liberation Sans", sans-serif' font-size="7.2" font-weight="normal" fill="#111" text-anchor="end">8</text>
<line x1="488.50" y1="450.40" x2="488.50" y2="452.90" stroke="#111" stroke-width="0.8"/>
<circle cx="490.3" cy="374.5" r="2.2" fill="#e6a6cf" fill-opacity="0.4"/>
<circle cx="492.2" cy="420.5" r="2.2" fill="#e6a6cf" fill-opacity="0.4"/>
<circle cx="482.4" cy="403.7" r="2.2" fill="#e6a6cf" fill-opacity="0.4"/>
<circle cx="488.2" cy="420.5" r="2.2" fill="#e6a6cf" fill-opacity="0.4"/>
<circle cx="492.3" cy="386.9" r="2.2" fill="#e6a6cf" fill-opacity="0.4"/>
<circle cx="483.7" cy="407.8" r="2.2" fill="#e6a6cf" fill-opacity="0.4"/>
<circle cx="489.0" cy="410.4" r="2.2" fill="#e6a6cf" fill-opacity="0.4"/>
<circle cx="489.5" cy="400.5" r="2.2" fill="#e6a6cf" fill-opacity="0.4"/>
<circle cx="485.9" cy="394.3" r="2.2" fill="#e6a6cf" fill-opacity="0.4"/>
<circle cx="493.9" cy="401.5" r="2.2" fill="#e6a6cf" fill-opacity="0.4"/>
<circle cx="492.4" cy="401.4" r="2.2" fill="#e6a6cf" fill-opacity="0.4"/>
<circle cx="484.1" cy="408.7" r="2.2" fill="#e6a6cf" fill-opacity="0.4"/>
<circle cx="482.2" cy="406.4" r="2.2" fill="#e6a6cf" fill-opacity="0.4"/>
<circle cx="493.2" cy="406.0" r="2.2" fill="#e6a6cf" fill-opacity="0.4"/>
<circle cx="494.7" cy="400.1" r="2.2" fill="#e6a6cf" fill-opacity="0.4"/>
<circle cx="492.9" cy="394.5" r="2.2" fill="#e6a6cf" fill-opacity="0.4"/>
<circle cx="489.0" cy="409.1" r="2.2" fill="#e6a6cf" fill-opacity="0.4"/>
<circle cx="489.6" cy="374.5" r="2.2" fill="#e6a6cf" fill-opacity="0.4"/>
<circle cx="490.8" cy="394.6" r="2.2" fill="#e6a6cf" fill-opacity="0.4"/>
<circle cx="491.5" cy="376.5" r="2.2" fill="#e6a6cf" fill-opacity="0.4"/>
<circle cx="486.8" cy="394.7" r="2.2" fill="#e6a6cf" fill-opacity="0.4"/>
<circle cx="484.4" cy="407.9" r="2.2" fill="#e6a6cf" fill-opacity="0.4"/>
<circle cx="485.9" cy="399.6" r="2.2" fill="#e6a6cf" fill-opacity="0.4"/>
<circle cx="489.8" cy="398.8" r="2.2" fill="#e6a6cf" fill-opacity="0.4"/>
<circle cx="487.1" cy="385.2" r="2.2" fill="#e6a6cf" fill-opacity="0.4"/>
<circle cx="486.0" cy="401.7" r="2.2" fill="#e6a6cf" fill-opacity="0.4"/>
<circle cx="486.2" cy="396.7" r="2.2" fill="#e6a6cf" fill-opacity="0.4"/>
<circle cx="488.3" cy="413.8" r="2.2" fill="#e6a6cf" fill-opacity="0.4"/>
<circle cx="494.7" cy="403.2" r="2.2" fill="#e6a6cf" fill-opacity="0.4"/>
<circle cx="482.4" cy="405.8" r="2.2" fill="#e6a6cf" fill-opacity="0.4"/>
<circle cx="482.2" cy="402.1" r="2.2" fill="#e6a6cf" fill-opacity="0.4"/>
<circle cx="490.9" cy="420.5" r="2.2" fill="#e6a6cf" fill-opacity="0.4"/>
<circle cx="483.0" cy="411.9" r="2.2" fill="#e6a6cf" fill-opacity="0.4"/>
<circle cx="483.6" cy="391.1" r="2.2" fill="#e6a6cf" fill-opacity="0.4"/>
<circle cx="485.3" cy="390.3" r="2.2" fill="#e6a6cf" fill-opacity="0.4"/>
<circle cx="490.1" cy="376.7" r="2.2" fill="#e6a6cf" fill-opacity="0.4"/>
<circle cx="487.5" cy="377.9" r="2.2" fill="#e6a6cf" fill-opacity="0.4"/>
<circle cx="486.9" cy="413.5" r="2.2" fill="#e6a6cf" fill-opacity="0.4"/>
<circle cx="485.2" cy="420.5" r="2.2" fill="#e6a6cf" fill-opacity="0.4"/>
<circle cx="491.7" cy="405.1" r="2.2" fill="#e6a6cf" fill-opacity="0.4"/>
<circle cx="482.8" cy="395.6" r="2.2" fill="#e6a6cf" fill-opacity="0.4"/>
<circle cx="492.2" cy="420.5" r="2.2" fill="#e6a6cf" fill-opacity="0.4"/>
<circle cx="489.8" cy="393.5" r="2.2" fill="#e6a6cf" fill-opacity="0.4"/>
<circle cx="493.7" cy="396.6" r="2.2" fill="#e6a6cf" fill-opacity="0.4"/>
<circle cx="489.0" cy="415.7" r="2.2" fill="#e6a6cf" fill-opacity="0.4"/>
<circle cx="487.1" cy="380.6" r="2.2" fill="#e6a6cf" fill-opacity="0.4"/>
<circle cx="483.1" cy="405.0" r="2.2" fill="#e6a6cf" fill-opacity="0.4"/>
<circle cx="484.2" cy="395.7" r="2.2" fill="#e6a6cf" fill-opacity="0.4"/>
<line x1="479.70" y1="402.10" x2="497.30" y2="402.10" stroke="#222" stroke-width="1.0"/>
<line x1="488.50" y1="413.02" x2="488.50" y2="390.60" stroke="#222" stroke-width="1.0"/>
<line x1="483.92" y1="413.02" x2="493.08" y2="413.02" stroke="#222" stroke-width="1.0"/>
<line x1="483.92" y1="390.60" x2="493.08" y2="390.60" stroke="#222" stroke-width="1.0"/>
<line x1="514.60" y1="450.40" x2="514.60" y2="452.90" stroke="#111" stroke-width="0.8"/>
<circle cx="511.6" cy="403.2" r="2.2" fill="#4a5ec4" fill-opacity="0.55"/>
<circle cx="509.4" cy="417.0" r="2.2" fill="#4a5ec4" fill-opacity="0.55"/>
<circle cx="513.4" cy="406.7" r="2.2" fill="#4a5ec4" fill-opacity="0.55"/>
<circle cx="510.1" cy="411.7" r="2.2" fill="#4a5ec4" fill-opacity="0.55"/>
<circle cx="514.1" cy="417.0" r="2.2" fill="#4a5ec4" fill-opacity="0.55"/>
<circle cx="513.5" cy="415.2" r="2.2" fill="#4a5ec4" fill-opacity="0.55"/>
<circle cx="510.4" cy="403.5" r="2.2" fill="#4a5ec4" fill-opacity="0.55"/>
<circle cx="514.5" cy="408.4" r="2.2" fill="#4a5ec4" fill-opacity="0.55"/>
<circle cx="518.5" cy="410.3" r="2.2" fill="#4a5ec4" fill-opacity="0.55"/>
<circle cx="522.0" cy="413.0" r="2.2" fill="#4a5ec4" fill-opacity="0.55"/>
<circle cx="509.4" cy="415.8" r="2.2" fill="#4a5ec4" fill-opacity="0.55"/>
<circle cx="513.8" cy="416.1" r="2.2" fill="#4a5ec4" fill-opacity="0.55"/>
<circle cx="511.8" cy="407.0" r="2.2" fill="#4a5ec4" fill-opacity="0.55"/>
<circle cx="514.1" cy="405.5" r="2.2" fill="#4a5ec4" fill-opacity="0.55"/>
<circle cx="519.1" cy="404.0" r="2.2" fill="#4a5ec4" fill-opacity="0.55"/>
<circle cx="513.8" cy="411.3" r="2.2" fill="#4a5ec4" fill-opacity="0.55"/>
<circle cx="514.4" cy="417.0" r="2.2" fill="#4a5ec4" fill-opacity="0.55"/>
<circle cx="511.1" cy="410.9" r="2.2" fill="#4a5ec4" fill-opacity="0.55"/>
<circle cx="512.6" cy="413.0" r="2.2" fill="#4a5ec4" fill-opacity="0.55"/>
<circle cx="522.7" cy="410.1" r="2.2" fill="#4a5ec4" fill-opacity="0.55"/>
<circle cx="514.6" cy="406.2" r="2.2" fill="#4a5ec4" fill-opacity="0.55"/>
<circle cx="511.9" cy="412.6" r="2.2" fill="#4a5ec4" fill-opacity="0.55"/>
<circle cx="519.0" cy="408.8" r="2.2" fill="#4a5ec4" fill-opacity="0.55"/>
<circle cx="520.6" cy="409.7" r="2.2" fill="#4a5ec4" fill-opacity="0.55"/>
<circle cx="518.3" cy="415.5" r="2.2" fill="#4a5ec4" fill-opacity="0.55"/>
<circle cx="517.0" cy="406.3" r="2.2" fill="#4a5ec4" fill-opacity="0.55"/>
<circle cx="512.6" cy="414.5" r="2.2" fill="#4a5ec4" fill-opacity="0.55"/>
<circle cx="517.0" cy="416.7" r="2.2" fill="#4a5ec4" fill-opacity="0.55"/>
<circle cx="519.1" cy="412.1" r="2.2" fill="#4a5ec4" fill-opacity="0.55"/>
<circle cx="517.2" cy="407.1" r="2.2" fill="#4a5ec4" fill-opacity="0.55"/>
<circle cx="516.9" cy="413.8" r="2.2" fill="#4a5ec4" fill-opacity="0.55"/>
<circle cx="515.3" cy="403.2" r="2.2" fill="#4a5ec4" fill-opacity="0.55"/>
<circle cx="511.4" cy="406.6" r="2.2" fill="#4a5ec4" fill-opacity="0.55"/>
<circle cx="517.5" cy="411.0" r="2.2" fill="#4a5ec4" fill-opacity="0.55"/>
<circle cx="516.3" cy="417.0" r="2.2" fill="#4a5ec4" fill-opacity="0.55"/>
<circle cx="519.5" cy="409.7" r="2.2" fill="#4a5ec4" fill-opacity="0.55"/>
<circle cx="518.2" cy="414.4" r="2.2" fill="#4a5ec4" fill-opacity="0.55"/>
<circle cx="519.0" cy="406.9" r="2.2" fill="#4a5ec4" fill-opacity="0.55"/>
<circle cx="519.6" cy="415.5" r="2.2" fill="#4a5ec4" fill-opacity="0.55"/>
<line x1="505.80" y1="411.30" x2="523.40" y2="411.30" stroke="#222" stroke-width="1.0"/>
<line x1="514.60" y1="414.75" x2="514.60" y2="407.27" stroke="#222" stroke-width="1.0"/>
<line x1="510.02" y1="414.75" x2="519.18" y2="414.75" stroke="#222" stroke-width="1.0"/>
<line x1="510.02" y1="407.27" x2="519.18" y2="407.27" stroke="#222" stroke-width="1.0"/>
<path d="M488.5,370 L488.5,364.5 L514.6,364.5 L514.6,396.9" fill="none" stroke="#111" stroke-width="0.9"/>
<text x="501.55" y="364.30" font-family='"Liberation Sans", sans-serif' font-size="10.5" font-weight="bold" fill="#111" text-anchor="middle" textLength="21.5" lengthAdjust="spacingAndGlyphs">****</text>
<text x="501.90" y="346.50" font-family='"Liberation Sans", sans-serif' font-size="8.8" font-weight="bold" fill="#111" text-anchor="middle" textLength="43.4" lengthAdjust="spacingAndGlyphs">GSE45267</text>
<text transform="translate(450.5,405) rotate(-90)" font-family='"Liberation Sans", sans-serif' font-size="6.6" font-weight="bold" fill="#111" text-anchor="middle" textLength="84" lengthAdjust="spacingAndGlyphs">Relative mRNA expression</text>
<text transform="translate(458.0,405) rotate(-90)" font-family='"Liberation Sans", sans-serif' font-size="6.6" font-weight="bold" fill="#111" text-anchor="middle" textLength="28" lengthAdjust="spacingAndGlyphs">of TRIM6</text>
<text transform="translate(491.8,459.6) rotate(-45)" font-family='"Liberation Sans", sans-serif' font-size="6.6" font-weight="bold" fill="#111" text-anchor="end" textLength="36" lengthAdjust="spacingAndGlyphs">Tumor(48)</text>
<text transform="translate(517.9,459.6) rotate(-45)" font-family='"Liberation Sans", sans-serif' font-size="6.6" font-weight="bold" fill="#111" text-anchor="end" textLength="39" lengthAdjust="spacingAndGlyphs">Normal(39)</text>
<text x="538.60" y="338.30" font-family='"Liberation Sans", sans-serif' font-size="13" font-weight="bold" fill="#000" text-anchor="start">L</text>
<text x="624.50" y="343.20" font-family='"Liberation Sans", sans-serif' font-size="5.8" font-weight="bold" fill="#111" text-anchor="middle" textLength="50.4" lengthAdjust="spacingAndGlyphs">TRIM6 (117854)</text>
<rect x="564.70" y="350.40" width="118.50" height="97.40" fill="none" stroke="#bdbdbd" stroke-width="0.6"/>
<line x1="562.70" y1="445.40" x2="564.70" y2="445.40" stroke="#555" stroke-width="0.5"/>
<text transform="translate(560.3,445.4) rotate(-90)" font-family='"Liberation Sans", sans-serif' font-size="6.6" fill="#222" text-anchor="middle">0.0</text>
<line x1="562.70" y1="427.10" x2="564.70" y2="427.10" stroke="#555" stroke-width="0.5"/>
<text transform="translate(560.3,427.1) rotate(-90)" font-family='"Liberation Sans", sans-serif' font-size="6.6" fill="#222" text-anchor="middle">0.2</text>
<line x1="562.70" y1="408.80" x2="564.70" y2="408.80" stroke="#555" stroke-width="0.5"/>
<text transform="translate(560.3,408.8) rotate(-90)" font-family='"Liberation Sans", sans-serif' font-size="6.6" fill="#222" text-anchor="middle">0.4</text>
<line x1="562.70" y1="390.50" x2="564.70" y2="390.50" stroke="#555" stroke-width="0.5"/>
<text transform="translate(560.3,390.5) rotate(-90)" font-family='"Liberation Sans", sans-serif' font-size="6.6" fill="#222" text-anchor="middle">0.6</text>
<line x1="562.70" y1="372.20" x2="564.70" y2="372.20" stroke="#555" stroke-width="0.5"/>
<text transform="translate(560.3,372.2) rotate(-90)" font-family='"Liberation Sans", sans-serif' font-size="6.6" fill="#222" text-anchor="middle">0.8</text>
<line x1="562.70" y1="353.90" x2="564.70" y2="353.90" stroke="#555" stroke-width="0.5"/>
<text transform="translate(560.3,353.9) rotate(-90)" font-family='"Liberation Sans", sans-serif' font-size="6.6" fill="#222" text-anchor="middle">1.0</text>
<line x1="569.20" y1="447.80" x2="569.20" y2="449.60" stroke="#555" stroke-width="0.5"/>
<text x="569.20" y="457.60" font-family='"Liberation Sans", sans-serif' font-size="6.3" font-weight="normal" fill="#222" text-anchor="middle">0</text>
<line x1="587.20" y1="447.80" x2="587.20" y2="449.60" stroke="#555" stroke-width="0.5"/>
<text x="587.20" y="457.60" font-family='"Liberation Sans", sans-serif' font-size="6.3" font-weight="normal" fill="#222" text-anchor="middle">20</text>
<line x1="605.20" y1="447.80" x2="605.20" y2="449.60" stroke="#555" stroke-width="0.5"/>
<text x="605.20" y="457.60" font-family='"Liberation Sans", sans-serif' font-size="6.3" font-weight="normal" fill="#222" text-anchor="middle">40</text>
<line x1="623.20" y1="447.80" x2="623.20" y2="449.60" stroke="#555" stroke-width="0.5"/>
<text x="623.20" y="457.60" font-family='"Liberation Sans", sans-serif' font-size="6.3" font-weight="normal" fill="#222" text-anchor="middle">60</text>
<line x1="641.20" y1="447.80" x2="641.20" y2="449.60" stroke="#555" stroke-width="0.5"/>
<text x="641.20" y="457.60" font-family='"Liberation Sans", sans-serif' font-size="6.3" font-weight="normal" fill="#222" text-anchor="middle">80</text>
<line x1="659.20" y1="447.80" x2="659.20" y2="449.60" stroke="#555" stroke-width="0.5"/>
<text x="659.20" y="457.60" font-family='"Liberation Sans", sans-serif' font-size="6.3" font-weight="normal" fill="#222" text-anchor="middle">100</text>
<line x1="677.20" y1="447.80" x2="677.20" y2="449.60" stroke="#555" stroke-width="0.5"/>
<text x="677.20" y="457.60" font-family='"Liberation Sans", sans-serif' font-size="6.3" font-weight="normal" fill="#222" text-anchor="middle">120</text>
<text x="624.30" y="465.80" font-family='"Liberation Sans", sans-serif' font-size="5.8" font-weight="normal" fill="#222" text-anchor="middle" textLength="41" lengthAdjust="spacingAndGlyphs">Time (months)</text>
<text transform="translate(550,399.6) rotate(-90)" font-family='"Liberation Sans", sans-serif' font-size="6.2" fill="#222" text-anchor="middle" textLength="30" lengthAdjust="spacingAndGlyphs">Probability</text>
<text x="680.80" y="357.60" font-family='"Liberation Sans", sans-serif' font-size="5.2" font-weight="normal" fill="#222" text-anchor="end" textLength="66" lengthAdjust="spacingAndGlyphs">HR = 1.54 (1.02 - 2.35)</text>
<text x="680.80" y="364.60" font-family='"Liberation Sans", sans-serif' font-size="5.2" font-weight="normal" fill="#222" text-anchor="end" textLength="52" lengthAdjust="spacingAndGlyphs">logrank P = 0.041</text>
<text x="656.80" y="378.90" font-family='"Liberation Sans", sans-serif' font-size="13.5" font-weight="bold" fill="#000" text-anchor="middle" textLength="19.7" lengthAdjust="spacingAndGlyphs">OS</text>
<path d="M569,354 L571,357 L574,360 L576,362 L578.3,363.9 L585.8,363.9 L587,366 L589,369.7 L592,373 L594.4,376.2 L598,377 L602,379.4 L605,382 L607.3,384.8 L612,386 L616,388 L619,391 L622.4,394.5 L633.2,394.5 L634.2,402 L663.3,402 L663.3,416 L674,416" fill="none" stroke="#333" stroke-width="0.7"/>
<path d="M569,354 L572,358 L575,362.2 L578,369 L581.5,375.1 L585,378 L588,380.5 L592,384 L596.6,388 L603,391 L609.5,394.5 L614,398 L618.1,401 L622.4,403 L632,404.5 L641.8,406.3 L643,410 L645,416 L646.1,421.4 L666.5,421.4 L666.5,428.9 L680.5,428.9" fill="none" stroke="#e03030" stroke-width="0.9"/>
<line x1="595.74" y1="375.30" x2="595.74" y2="377.70" stroke="#333" stroke-width="0.55"/>
<line x1="575.73" y1="360.53" x2="575.73" y2="362.93" stroke="#333" stroke-width="0.55"/>
<line x1="570.01" y1="354.31" x2="570.01" y2="356.71" stroke="#333" stroke-width="0.55"/>
<line x1="633.28" y1="393.91" x2="633.28" y2="396.31" stroke="#333" stroke-width="0.55"/>
<line x1="603.85" y1="379.80" x2="603.85" y2="382.20" stroke="#333" stroke-width="0.55"/>
<line x1="569.76" y1="353.94" x2="569.76" y2="356.34" stroke="#333" stroke-width="0.55"/>
<line x1="613.81" y1="385.70" x2="613.81" y2="388.10" stroke="#333" stroke-width="0.55"/>
<line x1="616.47" y1="387.27" x2="616.47" y2="389.67" stroke="#333" stroke-width="0.55"/>
<line x1="579.13" y1="362.70" x2="579.13" y2="365.10" stroke="#333" stroke-width="0.55"/>
<line x1="601.70" y1="378.02" x2="601.70" y2="380.42" stroke="#333" stroke-width="0.55"/>
<line x1="606.78" y1="382.97" x2="606.78" y2="385.37" stroke="#333" stroke-width="0.55"/>
<line x1="593.79" y1="374.19" x2="593.79" y2="376.59" stroke="#333" stroke-width="0.55"/>
<line x1="574.58" y1="359.38" x2="574.58" y2="361.78" stroke="#333" stroke-width="0.55"/>
<line x1="614.90" y1="386.25" x2="614.90" y2="388.65" stroke="#333" stroke-width="0.55"/>
<line x1="592.21" y1="372.08" x2="592.21" y2="374.48" stroke="#333" stroke-width="0.55"/>
<line x1="586.05" y1="363.14" x2="586.05" y2="365.54" stroke="#333" stroke-width="0.55"/>
<line x1="586.77" y1="364.40" x2="586.77" y2="366.80" stroke="#333" stroke-width="0.55"/>
<line x1="584.95" y1="362.70" x2="584.95" y2="365.10" stroke="#333" stroke-width="0.55"/>
<line x1="633.25" y1="393.71" x2="633.25" y2="396.11" stroke="#333" stroke-width="0.55"/>
<line x1="590.48" y1="370.12" x2="590.48" y2="372.52" stroke="#333" stroke-width="0.55"/>
<line x1="569.85" y1="354.07" x2="569.85" y2="356.47" stroke="#333" stroke-width="0.55"/>
<line x1="637.46" y1="400.80" x2="637.46" y2="403.20" stroke="#333" stroke-width="0.55"/>
<line x1="605.28" y1="381.14" x2="605.28" y2="383.54" stroke="#333" stroke-width="0.55"/>
<line x1="607.06" y1="383.31" x2="607.06" y2="385.71" stroke="#333" stroke-width="0.55"/>
<line x1="578.36" y1="362.70" x2="578.36" y2="365.10" stroke="#333" stroke-width="0.55"/>
<line x1="572.62" y1="357.42" x2="572.62" y2="359.82" stroke="#333" stroke-width="0.55"/>
<line x1="569.17" y1="353.05" x2="569.17" y2="355.45" stroke="#333" stroke-width="0.55"/>
<line x1="601.68" y1="378.01" x2="601.68" y2="380.41" stroke="#333" stroke-width="0.55"/>
<line x1="592.96" y1="373.07" x2="592.96" y2="375.47" stroke="#333" stroke-width="0.55"/>
<line x1="607.74" y1="383.71" x2="607.74" y2="386.11" stroke="#333" stroke-width="0.55"/>
<line x1="605.40" y1="381.28" x2="605.40" y2="383.68" stroke="#333" stroke-width="0.55"/>
<line x1="607.20" y1="383.48" x2="607.20" y2="385.88" stroke="#333" stroke-width="0.55"/>
<line x1="572.67" y1="357.47" x2="572.67" y2="359.87" stroke="#333" stroke-width="0.55"/>
<line x1="605.34" y1="381.22" x2="605.34" y2="383.62" stroke="#333" stroke-width="0.55"/>
<line x1="586.99" y1="364.79" x2="586.99" y2="367.19" stroke="#333" stroke-width="0.55"/>
<line x1="663.30" y1="402.50" x2="663.30" y2="404.90" stroke="#333" stroke-width="0.55"/>
<line x1="615.80" y1="386.70" x2="615.80" y2="389.10" stroke="#333" stroke-width="0.55"/>
<line x1="582.88" y1="362.70" x2="582.88" y2="365.10" stroke="#333" stroke-width="0.55"/>
<line x1="569.73" y1="353.90" x2="569.73" y2="356.30" stroke="#333" stroke-width="0.55"/>
<line x1="614.36" y1="385.98" x2="614.36" y2="388.38" stroke="#333" stroke-width="0.55"/>
<line x1="619.29" y1="390.10" x2="619.29" y2="392.50" stroke="#333" stroke-width="0.55"/>
<line x1="591.59" y1="371.35" x2="591.59" y2="373.75" stroke="#333" stroke-width="0.55"/>
<line x1="606.04" y1="382.06" x2="606.04" y2="384.46" stroke="#333" stroke-width="0.55"/>
<line x1="594.37" y1="374.96" x2="594.37" y2="377.36" stroke="#333" stroke-width="0.55"/>
<line x1="605.04" y1="380.85" x2="605.04" y2="383.25" stroke="#333" stroke-width="0.55"/>
<line x1="620.12" y1="390.95" x2="620.12" y2="393.35" stroke="#333" stroke-width="0.55"/>
<line x1="595.17" y1="375.17" x2="595.17" y2="377.57" stroke="#333" stroke-width="0.55"/>
<line x1="595.57" y1="375.26" x2="595.57" y2="377.66" stroke="#333" stroke-width="0.55"/>
<line x1="572.89" y1="357.69" x2="572.89" y2="360.09" stroke="#333" stroke-width="0.55"/>
<line x1="575.57" y1="360.37" x2="575.57" y2="362.77" stroke="#333" stroke-width="0.55"/>
<line x1="570.56" y1="355.14" x2="570.56" y2="357.54" stroke="#333" stroke-width="0.55"/>
<line x1="620.69" y1="391.54" x2="620.69" y2="393.94" stroke="#333" stroke-width="0.55"/>
<line x1="612.99" y1="385.30" x2="612.99" y2="387.70" stroke="#333" stroke-width="0.55"/>
<line x1="617.28" y1="388.08" x2="617.28" y2="390.48" stroke="#333" stroke-width="0.55"/>
<line x1="585.53" y1="362.70" x2="585.53" y2="365.10" stroke="#333" stroke-width="0.55"/>
<line x1="592.90" y1="372.99" x2="592.90" y2="375.39" stroke="#333" stroke-width="0.55"/>
<line x1="633.57" y1="396.07" x2="633.57" y2="398.47" stroke="#333" stroke-width="0.55"/>
<line x1="612.68" y1="385.14" x2="612.68" y2="387.54" stroke="#333" stroke-width="0.55"/>
<line x1="625.20" y1="393.30" x2="625.20" y2="395.70" stroke="#333" stroke-width="0.55"/>
<line x1="573.93" y1="358.73" x2="573.93" y2="361.13" stroke="#333" stroke-width="0.55"/>
<line x1="577.84" y1="367.34" x2="577.84" y2="369.94" stroke="#e03030" stroke-width="0.6"/>
<line x1="666.50" y1="424.65" x2="666.50" y2="427.25" stroke="#e03030" stroke-width="0.6"/>
<line x1="569.18" y1="352.94" x2="569.18" y2="355.54" stroke="#e03030" stroke-width="0.6"/>
<line x1="576.17" y1="363.54" x2="576.17" y2="366.14" stroke="#e03030" stroke-width="0.6"/>
<line x1="613.85" y1="396.58" x2="613.85" y2="399.18" stroke="#e03030" stroke-width="0.6"/>
<line x1="585.42" y1="377.05" x2="585.42" y2="379.65" stroke="#e03030" stroke-width="0.6"/>
<line x1="603.89" y1="390.18" x2="603.89" y2="392.78" stroke="#e03030" stroke-width="0.6"/>
<line x1="570.67" y1="354.92" x2="570.67" y2="357.52" stroke="#e03030" stroke-width="0.6"/>
<line x1="618.38" y1="399.83" x2="618.38" y2="402.43" stroke="#e03030" stroke-width="0.6"/>
<line x1="595.24" y1="385.52" x2="595.24" y2="388.12" stroke="#e03030" stroke-width="0.6"/>
<line x1="635.75" y1="403.89" x2="635.75" y2="406.49" stroke="#e03030" stroke-width="0.6"/>
<line x1="645.19" y1="415.61" x2="645.19" y2="418.21" stroke="#e03030" stroke-width="0.6"/>
<line x1="621.42" y1="401.24" x2="621.42" y2="403.84" stroke="#e03030" stroke-width="0.6"/>
<line x1="643.99" y1="411.67" x2="643.99" y2="414.27" stroke="#e03030" stroke-width="0.6"/>
<line x1="569.15" y1="352.89" x2="569.15" y2="355.49" stroke="#e03030" stroke-width="0.6"/>
<line x1="597.71" y1="387.22" x2="597.71" y2="389.82" stroke="#e03030" stroke-width="0.6"/>
<line x1="609.88" y1="393.49" x2="609.88" y2="396.09" stroke="#e03030" stroke-width="0.6"/>
<line x1="634.18" y1="403.60" x2="634.18" y2="406.20" stroke="#e03030" stroke-width="0.6"/>
<line x1="569.53" y1="353.40" x2="569.53" y2="356.00" stroke="#e03030" stroke-width="0.6"/>
<line x1="594.57" y1="384.94" x2="594.57" y2="387.54" stroke="#e03030" stroke-width="0.6"/>
<line x1="585.52" y1="377.13" x2="585.52" y2="379.73" stroke="#e03030" stroke-width="0.6"/>
<line x1="596.35" y1="386.49" x2="596.35" y2="389.09" stroke="#e03030" stroke-width="0.6"/>
<line x1="602.62" y1="389.52" x2="602.62" y2="392.12" stroke="#e03030" stroke-width="0.6"/>
<line x1="571.98" y1="356.67" x2="571.98" y2="359.27" stroke="#e03030" stroke-width="0.6"/>
<line x1="645.60" y1="417.64" x2="645.60" y2="420.24" stroke="#e03030" stroke-width="0.6"/>
<line x1="600.04" y1="388.31" x2="600.04" y2="390.91" stroke="#e03030" stroke-width="0.6"/>
<line x1="645.07" y1="415.05" x2="645.07" y2="417.65" stroke="#e03030" stroke-width="0.6"/>
<line x1="616.22" y1="398.33" x2="616.22" y2="400.93" stroke="#e03030" stroke-width="0.6"/>
<line x1="584.04" y1="375.90" x2="584.04" y2="378.50" stroke="#e03030" stroke-width="0.6"/>
<line x1="623.39" y1="401.85" x2="623.39" y2="404.45" stroke="#e03030" stroke-width="0.6"/>
<line x1="620.05" y1="400.61" x2="620.05" y2="403.21" stroke="#e03030" stroke-width="0.6"/>
<line x1="594.93" y1="385.25" x2="594.93" y2="387.85" stroke="#e03030" stroke-width="0.6"/>
<line x1="570.81" y1="355.11" x2="570.81" y2="357.71" stroke="#e03030" stroke-width="0.6"/>
<line x1="587.64" y1="378.90" x2="587.64" y2="381.50" stroke="#e03030" stroke-width="0.6"/>
<line x1="577.47" y1="366.50" x2="577.47" y2="369.10" stroke="#e03030" stroke-width="0.6"/>
<line x1="628.40" y1="402.64" x2="628.40" y2="405.24" stroke="#e03030" stroke-width="0.6"/>
<line x1="643.07" y1="408.92" x2="643.07" y2="411.52" stroke="#e03030" stroke-width="0.6"/>
<line x1="612.26" y1="395.35" x2="612.26" y2="397.95" stroke="#e03030" stroke-width="0.6"/>
<line x1="619.85" y1="400.51" x2="619.85" y2="403.11" stroke="#e03030" stroke-width="0.6"/>
<line x1="569.57" y1="353.46" x2="569.57" y2="356.06" stroke="#e03030" stroke-width="0.6"/>
<line x1="610.32" y1="393.83" x2="610.32" y2="396.43" stroke="#e03030" stroke-width="0.6"/>
<line x1="570.06" y1="354.12" x2="570.06" y2="356.72" stroke="#e03030" stroke-width="0.6"/>
<line x1="594.46" y1="384.84" x2="594.46" y2="387.44" stroke="#e03030" stroke-width="0.6"/>
<line x1="571.33" y1="355.80" x2="571.33" y2="358.40" stroke="#e03030" stroke-width="0.6"/>
<line x1="584.24" y1="376.07" x2="584.24" y2="378.67" stroke="#e03030" stroke-width="0.6"/>
<line x1="571.86" y1="356.52" x2="571.86" y2="359.12" stroke="#e03030" stroke-width="0.6"/>
<line x1="613.89" y1="396.62" x2="613.89" y2="399.22" stroke="#e03030" stroke-width="0.6"/>
<line x1="666.50" y1="426.35" x2="666.50" y2="428.95" stroke="#e03030" stroke-width="0.6"/>
<line x1="573.05" y1="358.16" x2="573.05" y2="360.76" stroke="#e03030" stroke-width="0.6"/>
<line x1="577.34" y1="366.20" x2="577.34" y2="368.80" stroke="#e03030" stroke-width="0.6"/>
<line x1="575.66" y1="362.40" x2="575.66" y2="365.00" stroke="#e03030" stroke-width="0.6"/>
<line x1="572.36" y1="357.20" x2="572.36" y2="359.80" stroke="#e03030" stroke-width="0.6"/>
<line x1="666.01" y1="420.10" x2="666.01" y2="422.70" stroke="#e03030" stroke-width="0.6"/>
<line x1="587.22" y1="378.55" x2="587.22" y2="381.15" stroke="#e03030" stroke-width="0.6"/>
<line x1="594.40" y1="384.79" x2="594.40" y2="387.39" stroke="#e03030" stroke-width="0.6"/>
<line x1="586.90" y1="378.29" x2="586.90" y2="380.89" stroke="#e03030" stroke-width="0.6"/>
<line x1="578.90" y1="369.26" x2="578.90" y2="371.86" stroke="#e03030" stroke-width="0.6"/>
<line x1="597.86" y1="387.29" x2="597.86" y2="389.89" stroke="#e03030" stroke-width="0.6"/>
<line x1="591.78" y1="382.50" x2="591.78" y2="385.10" stroke="#e03030" stroke-width="0.6"/>
<line x1="569.31" y1="353.11" x2="569.31" y2="355.71" stroke="#e03030" stroke-width="0.6"/>
<line x1="632.57" y1="403.30" x2="632.57" y2="405.90" stroke="#e03030" stroke-width="0.6"/>
<line x1="580.98" y1="372.90" x2="580.98" y2="375.50" stroke="#e03030" stroke-width="0.6"/>
<line x1="610.49" y1="393.97" x2="610.49" y2="396.57" stroke="#e03030" stroke-width="0.6"/>
<line x1="569.83" y1="353.80" x2="569.83" y2="356.40" stroke="#e03030" stroke-width="0.6"/>
<line x1="584.30" y1="376.12" x2="584.30" y2="378.72" stroke="#e03030" stroke-width="0.6"/>
<line x1="666.50" y1="426.00" x2="666.50" y2="428.60" stroke="#e03030" stroke-width="0.6"/>
<line x1="646.02" y1="419.73" x2="646.02" y2="422.33" stroke="#e03030" stroke-width="0.6"/>
<line x1="644.84" y1="414.22" x2="644.84" y2="416.82" stroke="#e03030" stroke-width="0.6"/>
<line x1="666.50" y1="420.81" x2="666.50" y2="423.41" stroke="#e03030" stroke-width="0.6"/>
<line x1="582.37" y1="374.52" x2="582.37" y2="377.12" stroke="#e03030" stroke-width="0.6"/>
<line x1="611.71" y1="394.92" x2="611.71" y2="397.52" stroke="#e03030" stroke-width="0.6"/>
<line x1="587.51" y1="378.79" x2="587.51" y2="381.39" stroke="#e03030" stroke-width="0.6"/>
<line x1="588.84" y1="379.93" x2="588.84" y2="382.53" stroke="#e03030" stroke-width="0.6"/>
<line x1="579.62" y1="370.52" x2="579.62" y2="373.12" stroke="#e03030" stroke-width="0.6"/>
<line x1="612.06" y1="395.19" x2="612.06" y2="397.79" stroke="#e03030" stroke-width="0.6"/>
<line x1="588.75" y1="379.85" x2="588.75" y2="382.45" stroke="#e03030" stroke-width="0.6"/>
<line x1="589.30" y1="380.34" x2="589.30" y2="382.94" stroke="#e03030" stroke-width="0.6"/>
<line x1="576.63" y1="364.60" x2="576.63" y2="367.20" stroke="#e03030" stroke-width="0.6"/>
<line x1="577.13" y1="365.74" x2="577.13" y2="368.34" stroke="#e03030" stroke-width="0.6"/>
<line x1="614.56" y1="397.11" x2="614.56" y2="399.71" stroke="#e03030" stroke-width="0.6"/>
<line x1="611.02" y1="394.38" x2="611.02" y2="396.98" stroke="#e03030" stroke-width="0.6"/>
<line x1="594.79" y1="385.13" x2="594.79" y2="387.73" stroke="#e03030" stroke-width="0.6"/>
<line x1="640.66" y1="404.79" x2="640.66" y2="407.39" stroke="#e03030" stroke-width="0.6"/>
<line x1="624.43" y1="402.02" x2="624.43" y2="404.62" stroke="#e03030" stroke-width="0.6"/>
<line x1="605.18" y1="390.87" x2="605.18" y2="393.47" stroke="#e03030" stroke-width="0.6"/>
<line x1="570.66" y1="354.91" x2="570.66" y2="357.51" stroke="#e03030" stroke-width="0.6"/>
<line x1="595.99" y1="386.17" x2="595.99" y2="388.77" stroke="#e03030" stroke-width="0.6"/>
<line x1="584.42" y1="376.22" x2="584.42" y2="378.82" stroke="#e03030" stroke-width="0.6"/>
<line x1="597.23" y1="387.00" x2="597.23" y2="389.60" stroke="#e03030" stroke-width="0.6"/>
<line x1="619.32" y1="400.27" x2="619.32" y2="402.87" stroke="#e03030" stroke-width="0.6"/>
<line x1="597.06" y1="386.91" x2="597.06" y2="389.51" stroke="#e03030" stroke-width="0.6"/>
<line x1="571.76" y1="356.38" x2="571.76" y2="358.98" stroke="#e03030" stroke-width="0.6"/>
<line x1="569.45" y1="353.30" x2="569.45" y2="355.90" stroke="#e03030" stroke-width="0.6"/>
<line x1="572.29" y1="357.10" x2="572.29" y2="359.70" stroke="#e03030" stroke-width="0.6"/>
<line x1="642.99" y1="408.68" x2="642.99" y2="411.28" stroke="#e03030" stroke-width="0.6"/>
<line x1="615.62" y1="397.89" x2="615.62" y2="400.49" stroke="#e03030" stroke-width="0.6"/>
<line x1="645.56" y1="417.43" x2="645.56" y2="420.03" stroke="#e03030" stroke-width="0.6"/>
<line x1="574.07" y1="359.60" x2="574.07" y2="362.20" stroke="#e03030" stroke-width="0.6"/>
<line x1="585.81" y1="377.37" x2="585.81" y2="379.97" stroke="#e03030" stroke-width="0.6"/>
<line x1="582.85" y1="374.92" x2="582.85" y2="377.52" stroke="#e03030" stroke-width="0.6"/>
<line x1="576.84" y1="365.07" x2="576.84" y2="367.67" stroke="#e03030" stroke-width="0.6"/>
<line x1="644.14" y1="412.12" x2="644.14" y2="414.72" stroke="#e03030" stroke-width="0.6"/>
<line x1="571.05" y1="355.44" x2="571.05" y2="358.04" stroke="#e03030" stroke-width="0.6"/>
<line x1="570.44" y1="354.62" x2="570.44" y2="357.22" stroke="#e03030" stroke-width="0.6"/>
<line x1="644.35" y1="412.76" x2="644.35" y2="415.36" stroke="#e03030" stroke-width="0.6"/>
<line x1="645.83" y1="418.78" x2="645.83" y2="421.38" stroke="#e03030" stroke-width="0.6"/>
<line x1="578.50" y1="368.58" x2="578.50" y2="371.18" stroke="#e03030" stroke-width="0.6"/>
<line x1="595.13" y1="385.42" x2="595.13" y2="388.02" stroke="#e03030" stroke-width="0.6"/>
<line x1="575.99" y1="363.15" x2="575.99" y2="365.75" stroke="#e03030" stroke-width="0.6"/>
<line x1="625.74" y1="402.22" x2="625.74" y2="404.82" stroke="#e03030" stroke-width="0.6"/>
<text x="566.50" y="430.50" font-family='"Liberation Sans", sans-serif' font-size="6.5" font-weight="normal" fill="#222" text-anchor="start" textLength="31.5" lengthAdjust="spacingAndGlyphs">Expression</text>
<line x1="569.60" y1="436.30" x2="580.20" y2="436.30" stroke="#333" stroke-width="0.6"/>
<text x="584.90" y="438.60" font-family='"Liberation Sans", sans-serif' font-size="6.5" font-weight="normal" fill="#222" text-anchor="start">low</text>
<line x1="569.60" y1="442.60" x2="580.20" y2="442.60" stroke="#e03030" stroke-width="0.6"/>
<text x="584.90" y="444.90" font-family='"Liberation Sans", sans-serif' font-size="6.5" font-weight="normal" fill="#222" text-anchor="start">high</text>
<text x="565.00" y="470.90" font-family='"Liberation Sans", sans-serif' font-size="3.9" font-weight="normal" fill="#222" text-anchor="start" textLength="28" lengthAdjust="spacingAndGlyphs">Number at risk</text>
<text x="558.60" y="475.40" font-family='"Liberation Sans", sans-serif' font-size="3.9" font-weight="normal" fill="#222" text-anchor="end">low</text>
<text x="558.60" y="479.60" font-family='"Liberation Sans", sans-serif' font-size="3.9" font-weight="normal" fill="#e03030" text-anchor="end">high</text>
<text x="569.20" y="475.40" font-family='"Liberation Sans", sans-serif' font-size="3.9" font-weight="normal" fill="#222" text-anchor="middle">183</text>
<text x="569.20" y="479.60" font-family='"Liberation Sans", sans-serif' font-size="3.9" font-weight="normal" fill="#e03030" text-anchor="middle">261</text>
<text x="587.20" y="475.40" font-family='"Liberation Sans", sans-serif' font-size="3.9" font-weight="normal" fill="#222" text-anchor="middle">57</text>
<text x="587.20" y="479.60" font-family='"Liberation Sans", sans-serif' font-size="3.9" font-weight="normal" fill="#e03030" text-anchor="middle">125</text>
<text x="605.20" y="475.40" font-family='"Liberation Sans", sans-serif' font-size="3.9" font-weight="normal" fill="#222" text-anchor="middle">24</text>
<text x="605.20" y="479.60" font-family='"Liberation Sans", sans-serif' font-size="3.9" font-weight="normal" fill="#e03030" text-anchor="middle">60</text>
<text x="623.20" y="475.40" font-family='"Liberation Sans", sans-serif' font-size="3.9" font-weight="normal" fill="#222" text-anchor="middle">13</text>
<text x="623.20" y="479.60" font-family='"Liberation Sans", sans-serif' font-size="3.9" font-weight="normal" fill="#e03030" text-anchor="middle">29</text>
<text x="641.20" y="475.40" font-family='"Liberation Sans", sans-serif' font-size="3.9" font-weight="normal" fill="#222" text-anchor="middle">3</text>
<text x="641.20" y="479.60" font-family='"Liberation Sans", sans-serif' font-size="3.9" font-weight="normal" fill="#e03030" text-anchor="middle">16</text>
<text x="659.20" y="475.40" font-family='"Liberation Sans", sans-serif' font-size="3.9" font-weight="normal" fill="#222" text-anchor="middle">3</text>
<text x="659.20" y="479.60" font-family='"Liberation Sans", sans-serif' font-size="3.9" font-weight="normal" fill="#e03030" text-anchor="middle">3</text>
<text x="677.20" y="475.40" font-family='"Liberation Sans", sans-serif' font-size="3.9" font-weight="normal" fill="#222" text-anchor="middle">0</text>
<text x="677.20" y="479.60" font-family='"Liberation Sans", sans-serif' font-size="3.9" font-weight="normal" fill="#e03030" text-anchor="middle">1</text>
</svg></body></html>
